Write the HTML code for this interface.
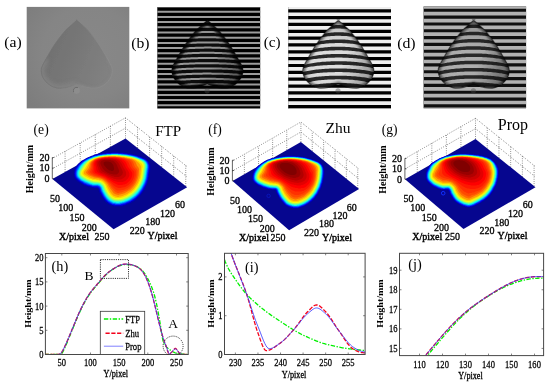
<!DOCTYPE html>
<html><head><meta charset="utf-8"><title>Figure</title>
<style>html,body{margin:0;padding:0;background:#fff;overflow:hidden}svg{display:block}</style></head>
<body>
<svg width="550" height="386" viewBox="0 0 550 386" style="display:block">
<defs>
<path id="heart" d="M50.4 20C48.43 21.73 46.52 23.37 44.5 25.2C42.48 27.03 41 27.87 38.3 31C35.6 34.13 31.47 39.33 28.3 44C25.13 48.67 21.48 55.17 19.3 59C17.12 62.83 15.98 64.83 15.2 67C14.42 69.17 14.38 70.17 14.6 72C14.82 73.83 15.22 75.92 16.5 78C17.78 80.08 20 82.83 22.3 84.5C24.6 86.17 27.3 87.53 30.3 88C33.3 88.47 37.05 87.97 40.3 87.3C43.55 86.63 46.63 85.1 49.8 84C53.57 85.1 56.65 86.63 59.9 87.3C63.15 87.97 66.9 88.47 69.9 88C72.9 87.53 75.6 86.17 77.9 84.5C80.2 82.83 82.42 80.08 83.7 78C84.98 75.92 85.38 73.83 85.6 72C85.82 70.17 85.78 69.17 85 67C84.22 64.83 83.08 62.83 80.9 59C78.72 55.17 75.07 48.67 71.9 44C68.73 39.33 64.6 34.13 61.9 31C59.2 27.87 57.72 27.03 55.7 25.2C53.68 23.37 51.77 21.73 49.8 20Z"/>
<clipPath id="hc"><use href="#heart"/></clipPath>
<filter id="bl" x="-5%" y="-5%" width="110%" height="110%"><feGaussianBlur stdDeviation="0.45"/></filter>
<filter id="bl2" x="-5%" y="-5%" width="110%" height="110%"><feGaussianBlur stdDeviation="1.2"/></filter>
<filter id="bl3" x="-20%" y="-20%" width="140%" height="140%"><feGaussianBlur stdDeviation="2.5"/></filter>
<linearGradient id="ga" x1="0" y1="0.2" x2="1" y2="0.6"><stop offset="0" stop-color="#6e6e6e"/><stop offset="0.5" stop-color="#777777"/><stop offset="1" stop-color="#818181"/></linearGradient>
<linearGradient id="gs" x1="0" y1="0" x2="1" y2="0.3"><stop offset="0" stop-color="#707070"/><stop offset="0.5" stop-color="#747474"/><stop offset="0.8" stop-color="#888888"/><stop offset="1" stop-color="#8c8c8c"/></linearGradient>
<radialGradient id="gbg" cx="0.6" cy="0.45" r="0.75"><stop offset="0" stop-color="#888888"/><stop offset="0.6" stop-color="#858585"/><stop offset="1" stop-color="#7d7d7d"/></radialGradient>
<radialGradient id="shade2" cx="0.46" cy="0.66" r="0.62"><stop offset="0" stop-color="#000" stop-opacity="0"/><stop offset="0.5" stop-color="#000" stop-opacity="0.08"/><stop offset="1" stop-color="#000" stop-opacity="0.45"/></radialGradient>
<linearGradient id="shade" x1="0" y1="0" x2="1" y2="0.35"><stop offset="0" stop-color="#000" stop-opacity="0"/><stop offset="0.7" stop-color="#000" stop-opacity="0.06"/><stop offset="1" stop-color="#000" stop-opacity="0.5"/></linearGradient>
</defs>
<rect width="550" height="386" fill="#fff"/>
<g>
<rect x="26.7" y="6.9" width="102.6" height="101.5" fill="url(#gbg)"/>
<g transform="translate(26.7 0)">
<use href="#heart" fill="url(#ga)" filter="url(#bl)"/>
<g clip-path="url(#hc)">
<path d="M19.3 59C17.12 62.83 15.98 64.83 15.2 67C14.42 69.17 14.38 70.17 14.6 72C14.82 73.83 15.22 75.92 16.5 78C17.78 80.08 20 82.83 22.3 84.5C24.6 86.17 27.3 87.53 30.3 88C33.3 88.47 37.05 87.97 40.3 87.3C43.55 86.63 46.63 85.1 49.8 84" fill="none" stroke="#868686" stroke-width="5.5" filter="url(#bl3)" opacity="0.9"/>
<path d="M50.4 84C53.57 85.1 56.65 86.63 59.9 87.3C63.15 87.97 66.9 88.47 69.9 88C72.9 87.53 75.6 86.17 77.9 84.5C80.2 82.83 82.42 80.08 83.7 78C84.98 75.92 85.38 73.83 85.6 72C85.82 70.17 85.78 69.17 85 67C84.22 64.83 83.08 62.83 80.9 59" fill="none" stroke="#848484" stroke-width="3.5" filter="url(#bl2)" opacity="0.7"/>
</g>
<use href="#heart" fill="none" stroke="url(#gs)" stroke-width="0.8" filter="url(#bl)"/>
<circle cx="49.8" cy="90.6" r="3.3" fill="#8d8d8d" filter="url(#bl)"/>
<path d="M47 92.2A3.3 3.3 0 0 1 51.2 87.6" fill="none" stroke="#6c6c6c" stroke-width="1" filter="url(#bl)"/>
</g></g>
<filter id="fb" x="-5%" y="-5%" width="110%" height="110%"><feGaussianBlur stdDeviation="0.45"/></filter>
<clipPath id="cb"><rect x="157.3" y="6.9" width="102.9" height="101.5"/></clipPath>
<g clip-path="url(#cb)">
<rect x="156.3" y="5.9" width="104.9" height="103.5" fill="#000"/>
<g filter="url(#fb)">
<path d="M155.3 6.5H262.2M155.3 11.7H262.2M155.3 16.9H262.2M155.3 22.1H262.2M155.3 27.3H262.2M155.3 32.5H262.2M155.3 37.7H262.2M155.3 42.9H262.2M155.3 48.1H262.2M155.3 53.3H262.2M155.3 58.5H262.2M155.3 63.7H262.2M155.3 68.9H262.2M155.3 74.1H262.2M155.3 79.3H262.2M155.3 84.5H262.2M155.3 89.7H262.2M155.3 94.9H262.2M155.3 100.1H262.2M155.3 105.3H262.2M155.3 110.5H262.2" stroke="#9c9c9c" stroke-width="2" fill="none"/>
<g transform="translate(157.3 0)" clip-path="url(#hc)">
<use href="#heart" fill="#0c0c0c"/>
<path d="M10 16.4L11.5 16.4L13 16.4L14.5 16.4L16 16.4L17.5 16.4L19 16.4L20.5 16.4L22 16.4L23.5 16.4L25 16.4L26.5 16.4L28 16.4L29.5 16.4L31 16.4L32.5 16.4L34 16.4L35.5 16.4L37 16.4L38.5 16.4L40 16.4L41.5 16.4L43 16.4L44.5 16.4L46 16.4L47.5 16.4L49 16.4L50.5 16.4L52 16.4L53.5 16.4L55 16.4L56.5 16.4L58 16.4L59.5 16.4L61 16.4L62.5 16.4L64 16.4L65.5 16.4L67 16.4L68.5 16.4L70 16.4L71.5 16.4L73 16.4L74.5 16.4L76 16.4L77.5 16.4L79 16.4L80.5 16.4L82 16.4L83.5 16.4L85 16.4L86.5 16.4L88 16.4L89.5 16.4L91 16.4M10 21.69L11.5 21.69L13 21.69L14.5 21.69L16 21.69L17.5 21.69L19 21.69L20.5 21.69L22 21.69L23.5 21.69L25 21.69L26.5 21.69L28 21.69L29.5 21.69L31 21.69L32.5 21.69L34 21.69L35.5 21.69L37 21.69L38.5 21.69L40 21.69L41.5 21.69L43 21.69L44.5 21.69L46 21.69L47.5 21.69L49 21.63L50.5 21.6L52 21.68L53.5 21.69L55 21.69L56.5 21.69L58 21.69L59.5 21.69L61 21.69L62.5 21.69L64 21.69L65.5 21.69L67 21.69L68.5 21.69L70 21.69L71.5 21.69L73 21.69L74.5 21.69L76 21.69L77.5 21.69L79 21.69L80.5 21.69L82 21.69L83.5 21.69L85 21.69L86.5 21.69L88 21.69L89.5 21.69L91 21.69M10 27.2L11.5 27.2L13 27.2L14.5 27.2L16 27.2L17.5 27.2L19 27.2L20.5 27.2L22 27.2L23.5 27.2L25 27.2L26.5 27.2L28 27.2L29.5 27.2L31 27.2L32.5 27.2L34 27.2L35.5 27.2L37 27.2L38.5 27.2L40 27.2L41.5 27.2L43 27.1L44.5 26.97L46 26.89L47.5 26.84L49 26.81L50.5 26.8L52 26.82L53.5 26.86L55 26.92L56.5 27.02L58 27.17L59.5 27.2L61 27.2L62.5 27.2L64 27.2L65.5 27.2L67 27.2L68.5 27.2L70 27.2L71.5 27.2L73 27.2L74.5 27.2L76 27.2L77.5 27.2L79 27.2L80.5 27.2L82 27.2L83.5 27.2L85 27.2L86.5 27.2L88 27.2L89.5 27.2L91 27.2M10 32.66L11.5 32.66L13 32.66L14.5 32.66L16 32.66L17.5 32.66L19 32.66L20.5 32.66L22 32.66L23.5 32.66L25 32.66L26.5 32.66L28 32.66L29.5 32.66L31 32.66L32.5 32.66L34 32.66L35.5 32.66L37 32.63L38.5 32.45L40 32.33L41.5 32.23L43 32.16L44.5 32.1L46 32.05L47.5 32.02L49 32L50.5 32L52 32.01L53.5 32.03L55 32.07L56.5 32.12L58 32.19L59.5 32.28L61 32.39L62.5 32.55L64 32.66L65.5 32.66L67 32.66L68.5 32.66L70 32.66L71.5 32.66L73 32.66L74.5 32.66L76 32.66L77.5 32.66L79 32.66L80.5 32.66L82 32.66L83.5 32.66L85 32.66L86.5 32.66L88 32.66L89.5 32.66L91 32.66M10 38.07L11.5 38.07L13 38.07L14.5 38.07L16 38.07L17.5 38.07L19 38.07L20.5 38.07L22 38.07L23.5 38.07L25 38.07L26.5 38.07L28 38.07L29.5 38.07L31 38.07L32.5 38.07L34 37.88L35.5 37.73L37 37.61L38.5 37.52L40 37.43L41.5 37.37L43 37.32L44.5 37.27L46 37.24L47.5 37.22L49 37.2L50.5 37.2L52 37.21L53.5 37.23L55 37.25L56.5 37.29L58 37.34L59.5 37.4L61 37.48L62.5 37.57L64 37.67L65.5 37.8L67 37.96L68.5 38.07L70 38.07L71.5 38.07L73 38.07L74.5 38.07L76 38.07L77.5 38.07L79 38.07L80.5 38.07L82 38.07L83.5 38.07L85 38.07L86.5 38.07L88 38.07L89.5 38.07L91 38.07M10 43.47L11.5 43.47L13 43.47L14.5 43.47L16 43.47L17.5 43.47L19 43.47L20.5 43.47L22 43.47L23.5 43.47L25 43.47L26.5 43.47L28 43.47L29.5 43.34L31 43.16L32.5 43.03L34 42.91L35.5 42.81L37 42.73L38.5 42.65L40 42.59L41.5 42.54L43 42.49L44.5 42.46L46 42.43L47.5 42.41L49 42.4L50.5 42.4L52 42.41L53.5 42.42L55 42.44L56.5 42.47L58 42.51L59.5 42.56L61 42.62L62.5 42.69L64 42.77L65.5 42.86L67 42.97L68.5 43.09L70 43.24L71.5 43.45L73 43.47L74.5 43.47L76 43.47L77.5 43.47L79 43.47L80.5 43.47L82 43.47L83.5 43.47L85 43.47L86.5 43.47L88 43.47L89.5 43.47L91 43.47M10 48.84L11.5 48.84L13 48.84L14.5 48.84L16 48.84L17.5 48.84L19 48.84L20.5 48.84L22 48.84L23.5 48.84L25 48.84L26.5 48.64L28 48.47L29.5 48.34L31 48.22L32.5 48.12L34 48.03L35.5 47.95L37 47.88L38.5 47.82L40 47.76L41.5 47.72L43 47.68L44.5 47.65L46 47.63L47.5 47.61L49 47.6L50.5 47.6L52 47.61L53.5 47.62L55 47.64L56.5 47.66L58 47.7L59.5 47.74L61 47.79L62.5 47.85L64 47.91L65.5 47.99L67 48.07L68.5 48.17L70 48.28L71.5 48.4L73 48.55L74.5 48.75L76 48.84L77.5 48.84L79 48.84L80.5 48.84L82 48.84L83.5 48.84L85 48.84L86.5 48.84L88 48.84L89.5 48.84L91 48.84M10 54.2L11.5 54.2L13 54.2L14.5 54.2L16 54.2L17.5 54.2L19 54.2L20.5 54.2L22 54.2L23.5 53.96L25 53.8L26.5 53.65L28 53.54L29.5 53.43L31 53.33L32.5 53.25L34 53.17L35.5 53.1L37 53.04L38.5 52.99L40 52.94L41.5 52.9L43 52.87L44.5 52.84L46 52.82L47.5 52.81L49 52.8L50.5 52.8L52 52.81L53.5 52.82L55 52.83L56.5 52.86L58 52.89L59.5 52.92L61 52.97L62.5 53.02L64 53.08L65.5 53.14L67 53.21L68.5 53.3L70 53.39L71.5 53.49L73 53.61L74.5 53.73L76 53.88L77.5 54.08L79 54.2L80.5 54.2L82 54.2L83.5 54.2L85 54.2L86.5 54.2L88 54.2L89.5 54.2L91 54.2M10 59.55L11.5 59.55L13 59.55L14.5 59.55L16 59.55L17.5 59.55L19 59.54L20.5 59.3L22 59.13L23.5 58.99L25 58.86L26.5 58.75L28 58.65L29.5 58.56L31 58.48L32.5 58.4L34 58.33L35.5 58.27L37 58.22L38.5 58.17L40 58.13L41.5 58.09L43 58.06L44.5 58.04L46 58.02L47.5 58.01L49 58L50.5 58L52 58L53.5 58.01L55 58.03L56.5 58.05L58 58.08L59.5 58.11L61 58.15L62.5 58.19L64 58.24L65.5 58.3L67 58.37L68.5 58.44L70 58.52L71.5 58.61L73 58.7L74.5 58.81L76 58.93L77.5 59.07L79 59.22L80.5 59.41L82 59.55L83.5 59.55L85 59.55L86.5 59.55L88 59.55L89.5 59.55L91 59.55M10 64.9L11.5 64.9L13 64.9L14.5 64.9L16 64.9L17.5 64.65L19 64.47L20.5 64.33L22 64.19L23.5 64.08L25 63.97L26.5 63.87L28 63.78L29.5 63.7L31 63.63L32.5 63.56L34 63.5L35.5 63.45L37 63.4L38.5 63.35L40 63.32L41.5 63.28L43 63.26L44.5 63.24L46 63.22L47.5 63.21L49 63.2L50.5 63.2L52 63.2L53.5 63.21L55 63.23L56.5 63.25L58 63.27L59.5 63.3L61 63.34L62.5 63.38L64 63.42L65.5 63.48L67 63.54L68.5 63.6L70 63.67L71.5 63.75L73 63.83L74.5 63.93L76 64.03L77.5 64.14L79 64.27L80.5 64.41L82 64.58L83.5 64.78L85 64.9L86.5 64.9L88 64.9L89.5 64.9L91 64.9M10 70.17L11.5 70.17L13 70.17L14.5 70.17L16 69.92L17.5 69.74L19 69.58L20.5 69.45L22 69.33L23.5 69.22L25 69.12L26.5 69.03L28 68.95L29.5 68.87L31 68.8L32.5 68.74L34 68.68L35.5 68.63L37 68.59L38.5 68.55L40 68.51L41.5 68.48L43 68.45L44.5 68.43L46 68.42L47.5 68.41L49 68.4L50.5 68.4L52 68.4L53.5 68.41L55 68.43L56.5 68.44L58 68.47L59.5 68.49L61 68.53L62.5 68.57L64 68.61L65.5 68.66L67 68.71L68.5 68.77L70 68.84L71.5 68.91L73 68.99L74.5 69.08L76 69.17L77.5 69.28L79 69.39L80.5 69.52L82 69.66L83.5 69.82L85 70.03L86.5 70.17L88 70.17L89.5 70.17L91 70.17M10 75.34L11.5 75.34L13 75.34L14.5 75.34L16 75.19L17.5 74.97L19 74.81L20.5 74.67L22 74.54L23.5 74.43L25 74.33L26.5 74.24L28 74.15L29.5 74.07L31 74L32.5 73.94L34 73.88L35.5 73.83L37 73.79L38.5 73.74L40 73.71L41.5 73.68L43 73.65L44.5 73.63L46 73.62L47.5 73.61L49 73.6L50.5 73.6L52 73.6L53.5 73.61L55 73.63L56.5 73.64L58 73.67L59.5 73.7L61 73.73L62.5 73.77L64 73.81L65.5 73.86L67 73.92L68.5 73.98L70 74.04L71.5 74.12L73 74.2L74.5 74.29L76 74.39L77.5 74.5L79 74.61L80.5 74.75L82 74.9L83.5 75.08L85 75.34L86.5 75.34L88 75.34L89.5 75.34L91 75.34M10 80.39L11.5 80.39L13 80.39L14.5 80.39L16 80.39L17.5 80.39L19 80.23L20.5 80.02L22 79.86L23.5 79.73L25 79.6L26.5 79.5L28 79.4L29.5 79.31L31 79.24L32.5 79.17L34 79.1L35.5 79.05L37 79L38.5 78.96L40 78.92L41.5 78.88L43 78.86L44.5 78.84L46 78.82L47.5 78.81L49 78.8L50.5 78.8L52 78.8L53.5 78.81L55 78.83L56.5 78.85L58 78.87L59.5 78.9L61 78.94L62.5 78.98L64 79.03L65.5 79.08L67 79.14L68.5 79.21L70 79.28L71.5 79.36L73 79.46L74.5 79.56L76 79.67L77.5 79.79L79 79.94L80.5 80.11L82 80.37L83.5 80.39L85 80.39L86.5 80.39L88 80.39L89.5 80.39L91 80.39M10 85.29L11.5 85.29L13 85.29L14.5 85.29L16 85.29L17.5 85.29L19 85.29L20.5 85.29L22 85.29L23.5 85.29L25 85.09L26.5 84.93L28 84.77L29.5 84.65L31 84.54L32.5 84.45L34 84.37L35.5 84.3L37 84.24L38.5 84.18L40 84.14L41.5 84.1L43 84.07L44.5 84.04L46 84.02L47.5 84.01L49 84L50.5 84L52 84L53.5 84.01L55 84.03L56.5 84.05L58 84.08L59.5 84.12L61 84.16L62.5 84.21L64 84.27L65.5 84.34L67 84.42L68.5 84.5L70 84.59L71.5 84.71L73 84.83L74.5 85L76 85.29L77.5 85.29L79 85.29L80.5 85.29L82 85.29L83.5 85.29L85 85.29L86.5 85.29L88 85.29L89.5 85.29L91 85.29M10 89.4L11.5 89.4L13 89.4L14.5 89.4L16 89.4L17.5 89.4L19 89.4L20.5 89.4L22 89.4L23.5 89.4L25 89.4L26.5 89.4L28 89.4L29.5 89.4L31 89.4L32.5 89.4L34 89.4L35.5 89.4L37 89.4L38.5 89.4L40 89.4L41.5 89.4L43 89.4L44.5 89.4L46 89.34L47.5 89.25L49 89.21L50.5 89.2L52 89.23L53.5 89.29L55 89.4L56.5 89.4L58 89.4L59.5 89.4L61 89.4L62.5 89.4L64 89.4L65.5 89.4L67 89.4L68.5 89.4L70 89.4L71.5 89.4L73 89.4L74.5 89.4L76 89.4L77.5 89.4L79 89.4L80.5 89.4L82 89.4L83.5 89.4L85 89.4L86.5 89.4L88 89.4L89.5 89.4L91 89.4M10 94.4L11.5 94.4L13 94.4L14.5 94.4L16 94.4L17.5 94.4L19 94.4L20.5 94.4L22 94.4L23.5 94.4L25 94.4L26.5 94.4L28 94.4L29.5 94.4L31 94.4L32.5 94.4L34 94.4L35.5 94.4L37 94.4L38.5 94.4L40 94.4L41.5 94.4L43 94.4L44.5 94.4L46 94.4L47.5 94.4L49 94.4L50.5 94.4L52 94.4L53.5 94.4L55 94.4L56.5 94.4L58 94.4L59.5 94.4L61 94.4L62.5 94.4L64 94.4L65.5 94.4L67 94.4L68.5 94.4L70 94.4L71.5 94.4L73 94.4L74.5 94.4L76 94.4L77.5 94.4L79 94.4L80.5 94.4L82 94.4L83.5 94.4L85 94.4L86.5 94.4L88 94.4L89.5 94.4L91 94.4" stroke="#9c9c9c" stroke-width="2" fill="none" stroke-linejoin="round"/>
</g>
</g>
<g transform="translate(157.3 0)">
<use href="#heart" fill="url(#shade)" opacity="0.7"/>
<use href="#heart" fill="url(#shade2)" opacity="0.15"/>
<g clip-path="url(#hc)"><use href="#heart" fill="none" stroke="#000" stroke-width="6.5" opacity="0.8" filter="url(#bl2)"/></g>
<use href="#heart" fill="none" stroke="#000" stroke-width="1.3" opacity="0.45" filter="url(#bl)"/>
<circle cx="49.8" cy="90.8" r="2.6" fill="#444" opacity="0.4" filter="url(#bl)"/>
</g>
</g>
<filter id="fc" x="-5%" y="-5%" width="110%" height="110%"><feGaussianBlur stdDeviation="0.55"/></filter>
<clipPath id="cc"><rect x="288.2" y="7.1" width="102.8" height="101.6"/></clipPath>
<g clip-path="url(#cc)">
<rect x="287.2" y="6.1" width="104.8" height="103.6" fill="#000"/>
<g filter="url(#fc)">
<path d="M286.2 0.52H393M286.2 7.36H393M286.2 14.2H393M286.2 21.04H393M286.2 27.88H393M286.2 34.72H393M286.2 41.56H393M286.2 48.4H393M286.2 55.24H393M286.2 62.08H393M286.2 68.92H393M286.2 75.76H393M286.2 82.6H393M286.2 89.44H393M286.2 96.28H393M286.2 103.12H393M286.2 109.96H393" stroke="#efefef" stroke-width="3.6" fill="none"/>
<g transform="translate(288.2 0)" clip-path="url(#hc)">
<use href="#heart" fill="#2c2c2c"/>
<path d="M10 15.87L11.5 15.87L13 15.87L14.5 15.87L16 15.87L17.5 15.87L19 15.87L20.5 15.87L22 15.87L23.5 15.87L25 15.87L26.5 15.87L28 15.87L29.5 15.87L31 15.87L32.5 15.87L34 15.87L35.5 15.87L37 15.87L38.5 15.87L40 15.87L41.5 15.87L43 15.87L44.5 15.87L46 15.87L47.5 15.87L49 15.87L50.5 15.87L52 15.87L53.5 15.87L55 15.87L56.5 15.87L58 15.87L59.5 15.87L61 15.87L62.5 15.87L64 15.87L65.5 15.87L67 15.87L68.5 15.87L70 15.87L71.5 15.87L73 15.87L74.5 15.87L76 15.87L77.5 15.87L79 15.87L80.5 15.87L82 15.87L83.5 15.87L85 15.87L86.5 15.87L88 15.87L89.5 15.87L91 15.87M10 23.51L11.5 23.51L13 23.51L14.5 23.51L16 23.51L17.5 23.51L19 23.51L20.5 23.51L22 23.51L23.5 23.51L25 23.51L26.5 23.51L28 23.51L29.5 23.51L31 23.51L32.5 23.51L34 23.51L35.5 23.51L37 23.51L38.5 23.51L40 23.51L41.5 23.51L43 23.51L44.5 23.51L46 23.51L47.5 23.3L49 23.15L50.5 23.12L52 23.2L53.5 23.41L55 23.51L56.5 23.51L58 23.51L59.5 23.51L61 23.51L62.5 23.51L64 23.51L65.5 23.51L67 23.51L68.5 23.51L70 23.51L71.5 23.51L73 23.51L74.5 23.51L76 23.51L77.5 23.51L79 23.51L80.5 23.51L82 23.51L83.5 23.51L85 23.51L86.5 23.51L88 23.51L89.5 23.51L91 23.51M10 31.69L11.5 31.69L13 31.69L14.5 31.69L16 31.69L17.5 31.69L19 31.69L20.5 31.69L22 31.69L23.5 31.69L25 31.69L26.5 31.69L28 31.69L29.5 31.69L31 31.69L32.5 31.69L34 31.69L35.5 31.69L37 31.69L38.5 31.45L40 31.15L41.5 30.91L43 30.74L44.5 30.6L46 30.49L47.5 30.42L49 30.38L50.5 30.37L52 30.4L53.5 30.45L55 30.54L56.5 30.66L58 30.83L59.5 31.04L61 31.3L62.5 31.66L64 31.69L65.5 31.69L67 31.69L68.5 31.69L70 31.69L71.5 31.69L73 31.69L74.5 31.69L76 31.69L77.5 31.69L79 31.69L80.5 31.69L82 31.69L83.5 31.69L85 31.69L86.5 31.69L88 31.69L89.5 31.69L91 31.69M10 39.59L11.5 39.59L13 39.59L14.5 39.59L16 39.59L17.5 39.59L19 39.59L20.5 39.59L22 39.59L23.5 39.59L25 39.59L26.5 39.59L28 39.59L29.5 39.59L31 39.59L32.5 39.28L34 38.93L35.5 38.67L37 38.46L38.5 38.28L40 38.12L41.5 37.98L43 37.87L44.5 37.77L46 37.7L47.5 37.66L49 37.63L50.5 37.63L52 37.64L53.5 37.68L55 37.74L56.5 37.82L58 37.92L59.5 38.04L61 38.19L62.5 38.37L64 38.59L65.5 38.83L67 39.13L68.5 39.49L70 39.59L71.5 39.59L73 39.59L74.5 39.59L76 39.59L77.5 39.59L79 39.59L80.5 39.59L82 39.59L83.5 39.59L85 39.59L86.5 39.59L88 39.59L89.5 39.59L91 39.59M10 47.43L11.5 47.43L13 47.43L14.5 47.43L16 47.43L17.5 47.43L19 47.43L20.5 47.43L22 47.43L23.5 47.43L25 47.43L26.5 47.25L28 46.86L29.5 46.54L31 46.29L32.5 46.06L34 45.85L35.5 45.67L37 45.51L38.5 45.37L40 45.25L41.5 45.15L43 45.06L44.5 44.99L46 44.94L47.5 44.9L49 44.88L50.5 44.88L52 44.89L53.5 44.92L55 44.97L56.5 45.03L58 45.11L59.5 45.2L61 45.31L62.5 45.44L64 45.59L65.5 45.76L67 45.95L68.5 46.16L70 46.42L71.5 46.71L73 47.07L74.5 47.43L76 47.43L77.5 47.43L79 47.43L80.5 47.43L82 47.43L83.5 47.43L85 47.43L86.5 47.43L88 47.43L89.5 47.43L91 47.43M10 55.17L11.5 55.17L13 55.17L14.5 55.17L16 55.17L17.5 55.17L19 55.17L20.5 55.17L22 54.93L23.5 54.54L25 54.21L26.5 53.93L28 53.68L29.5 53.46L31 53.26L32.5 53.09L34 52.92L35.5 52.78L37 52.65L38.5 52.54L40 52.44L41.5 52.35L43 52.28L44.5 52.22L46 52.18L47.5 52.15L49 52.14L50.5 52.13L52 52.14L53.5 52.17L55 52.2L56.5 52.26L58 52.32L59.5 52.4L61 52.49L62.5 52.6L64 52.72L65.5 52.86L67 53.01L68.5 53.19L70 53.37L71.5 53.59L73 53.83L74.5 54.1L76 54.39L77.5 54.76L79 55.17L80.5 55.17L82 55.17L83.5 55.17L85 55.17L86.5 55.17L88 55.17L89.5 55.17L91 55.17M10 62.87L11.5 62.87L13 62.87L14.5 62.87L16 62.87L17.5 62.72L19 62.28L20.5 61.93L22 61.63L23.5 61.37L25 61.12L26.5 60.89L28 60.7L29.5 60.52L31 60.35L32.5 60.19L34 60.06L35.5 59.93L37 59.83L38.5 59.73L40 59.65L41.5 59.58L43 59.51L44.5 59.47L46 59.43L47.5 59.4L49 59.39L50.5 59.39L52 59.4L53.5 59.42L55 59.45L56.5 59.49L58 59.55L59.5 59.62L61 59.7L62.5 59.79L64 59.9L65.5 60.02L67 60.15L68.5 60.29L70 60.45L71.5 60.62L73 60.81L74.5 61.02L76 61.24L77.5 61.5L79 61.78L80.5 62.1L82 62.48L83.5 62.87L85 62.87L86.5 62.87L88 62.87L89.5 62.87L91 62.87M10 70.4L11.5 70.4L13 70.4L14.5 70.4L16 69.87L17.5 69.47L19 69.16L20.5 68.87L22 68.63L23.5 68.39L25 68.18L26.5 67.99L28 67.82L29.5 67.65L31 67.5L32.5 67.37L34 67.25L35.5 67.14L37 67.04L38.5 66.95L40 66.87L41.5 66.81L43 66.75L44.5 66.71L46 66.68L47.5 66.65L49 66.64L50.5 66.64L52 66.65L53.5 66.67L55 66.7L56.5 66.73L58 66.78L59.5 66.85L61 66.91L62.5 67L64 67.09L65.5 67.19L67 67.31L68.5 67.44L70 67.59L71.5 67.73L73 67.9L74.5 68.09L76 68.3L77.5 68.51L79 68.76L80.5 69.02L82 69.32L83.5 69.66L85 70.1L86.5 70.4L88 70.4L89.5 70.4L91 70.4M10 77.47L11.5 77.47L13 77.47L14.5 77.47L16 77.47L17.5 76.94L19 76.54L20.5 76.22L22 75.93L23.5 75.68L25 75.45L26.5 75.26L28 75.07L29.5 74.91L31 74.76L32.5 74.62L34 74.5L35.5 74.39L37 74.29L38.5 74.2L40 74.12L41.5 74.06L43 74.01L44.5 73.96L46 73.93L47.5 73.91L49 73.9L50.5 73.89L52 73.9L53.5 73.92L55 73.95L56.5 73.99L58 74.04L59.5 74.1L61 74.17L62.5 74.25L64 74.34L65.5 74.45L67 74.57L68.5 74.7L70 74.84L71.5 75L73 75.18L74.5 75.37L76 75.59L77.5 75.82L79 76.08L80.5 76.37L82 76.75L83.5 77.25L85 77.47L86.5 77.47L88 77.47L89.5 77.47L91 77.47M10 84.13L11.5 84.13L13 84.13L14.5 84.13L16 84.09L17.5 84.09L19 84.09L20.5 84.09L22 84.13L23.5 83.48L25 83.1L26.5 82.81L28 82.56L29.5 82.34L31 82.16L32.5 81.99L34 81.84L35.5 81.71L37 81.6L38.5 81.5L40 81.41L41.5 81.34L43 81.27L44.5 81.23L46 81.19L47.5 81.16L49 81.15L50.5 81.15L52 81.16L53.5 81.18L55 81.21L56.5 81.25L58 81.31L59.5 81.38L61 81.46L62.5 81.55L64 81.66L65.5 81.79L67 81.93L68.5 82.08L70 82.26L71.5 82.47L73 82.69L74.5 82.96L76 83.28L77.5 83.74L79 84.09L80.5 84.09L82 84.09L83.5 84.09L85 84.13L86.5 84.13L88 84.13L89.5 84.13L91 84.13M10 89.06L11.5 89.06L13 89.06L14.5 89.06L16 89.06L17.5 89.06L19 89.06L20.5 89.06L22 89.06L23.5 89.06L25 89.06L26.5 89.06L28 89.06L29.5 89.07L31 89.07L32.5 89.07L34 89.07L35.5 89.07L37 89.07L38.5 89.07L40 89.07L41.5 89.07L43 89.07L44.5 88.75L46 88.55L47.5 88.46L49 88.41L50.5 88.4L52 88.43L53.5 88.5L55 88.62L56.5 89.06L58 89.06L59.5 89.07L61 88.95L62.5 89.07L64 89.07L65.5 89.07L67 89.07L68.5 89.07L70 89.07L71.5 89.07L73 89.06L74.5 89.06L76 89.06L77.5 89.06L79 89.06L80.5 89.06L82 89.06L83.5 89.06L85 89.06L86.5 89.06L88 89.06L89.5 89.06L91 89.06" stroke="#e4e4e4" stroke-width="3.6" fill="none" stroke-linejoin="round"/>
</g>
</g>
<g transform="translate(288.2 0)">
<use href="#heart" fill="url(#shade)" opacity="0.4"/>
<use href="#heart" fill="url(#shade2)" opacity="0.35"/>
<g clip-path="url(#hc)"><use href="#heart" fill="none" stroke="#000" stroke-width="5" opacity="0.5" filter="url(#bl2)"/></g>
<use href="#heart" fill="none" stroke="#000" stroke-width="1.3" opacity="0.45" filter="url(#bl)"/>
<circle cx="49.8" cy="90.8" r="2.6" fill="#444" opacity="0.4" filter="url(#bl)"/>
</g>
</g>
<filter id="fd" x="-5%" y="-5%" width="110%" height="110%"><feGaussianBlur stdDeviation="0.55"/></filter>
<clipPath id="cd"><rect x="423.6" y="6.4" width="102.5" height="101.8"/></clipPath>
<g clip-path="url(#cd)">
<rect x="422.6" y="5.4" width="104.5" height="103.8" fill="#101010"/>
<g filter="url(#fd)">
<path d="M421.6 0.04H528.1M421.6 6.87H528.1M421.6 13.7H528.1M421.6 20.53H528.1M421.6 27.36H528.1M421.6 34.19H528.1M421.6 41.02H528.1M421.6 47.85H528.1M421.6 54.68H528.1M421.6 61.51H528.1M421.6 68.34H528.1M421.6 75.17H528.1M421.6 82H528.1M421.6 88.83H528.1M421.6 95.66H528.1M421.6 102.49H528.1M421.6 109.32H528.1" stroke="#b2b2b2" stroke-width="3.7" fill="none"/>
<g transform="translate(423.6 0)" clip-path="url(#hc)">
<use href="#heart" fill="#2a2a2a"/>
<path d="M10 15.34L11.5 15.34L13 15.34L14.5 15.34L16 15.34L17.5 15.34L19 15.34L20.5 15.34L22 15.34L23.5 15.34L25 15.34L26.5 15.34L28 15.34L29.5 15.34L31 15.34L32.5 15.34L34 15.34L35.5 15.34L37 15.34L38.5 15.34L40 15.34L41.5 15.34L43 15.34L44.5 15.34L46 15.34L47.5 15.34L49 15.34L50.5 15.34L52 15.34L53.5 15.34L55 15.34L56.5 15.34L58 15.34L59.5 15.34L61 15.34L62.5 15.34L64 15.34L65.5 15.34L67 15.34L68.5 15.34L70 15.34L71.5 15.34L73 15.34L74.5 15.34L76 15.34L77.5 15.34L79 15.34L80.5 15.34L82 15.34L83.5 15.34L85 15.34L86.5 15.34L88 15.34L89.5 15.34L91 15.34M10 22.91L11.5 22.91L13 22.91L14.5 22.91L16 22.91L17.5 22.91L19 22.91L20.5 22.91L22 22.91L23.5 22.91L25 22.91L26.5 22.91L28 22.91L29.5 22.91L31 22.91L32.5 22.91L34 22.91L35.5 22.91L37 22.91L38.5 22.91L40 22.91L41.5 22.91L43 22.91L44.5 22.91L46 22.91L47.5 22.8L49 22.62L50.5 22.58L52 22.68L53.5 22.91L55 22.91L56.5 22.91L58 22.91L59.5 22.91L61 22.91L62.5 22.91L64 22.91L65.5 22.91L67 22.91L68.5 22.91L70 22.91L71.5 22.91L73 22.91L74.5 22.91L76 22.91L77.5 22.91L79 22.91L80.5 22.91L82 22.91L83.5 22.91L85 22.91L86.5 22.91L88 22.91L89.5 22.91L91 22.91M10 31.07L11.5 31.07L13 31.07L14.5 31.07L16 31.07L17.5 31.07L19 31.07L20.5 31.07L22 31.07L23.5 31.07L25 31.07L26.5 31.07L28 31.07L29.5 31.07L31 31.07L32.5 31.07L34 31.07L35.5 31.07L37 31.07L38.5 30.97L40 30.64L41.5 30.4L43 30.21L44.5 30.06L46 29.95L47.5 29.87L49 29.83L50.5 29.82L52 29.85L53.5 29.91L55 30L56.5 30.13L58 30.3L59.5 30.52L61 30.81L62.5 31.07L64 31.07L65.5 31.07L67 31.07L68.5 31.07L70 31.07L71.5 31.07L73 31.07L74.5 31.07L76 31.07L77.5 31.07L79 31.07L80.5 31.07L82 31.07L83.5 31.07L85 31.07L86.5 31.07L88 31.07L89.5 31.07L91 31.07M10 38.99L11.5 38.99L13 38.99L14.5 38.99L16 38.99L17.5 38.99L19 38.99L20.5 38.99L22 38.99L23.5 38.99L25 38.99L26.5 38.99L28 38.99L29.5 38.99L31 38.99L32.5 38.78L34 38.42L35.5 38.15L37 37.92L38.5 37.73L40 37.56L41.5 37.42L43 37.31L44.5 37.22L46 37.14L47.5 37.1L49 37.07L50.5 37.06L52 37.08L53.5 37.12L55 37.18L56.5 37.26L58 37.36L59.5 37.5L61 37.64L62.5 37.83L64 38.04L65.5 38.29L67 38.6L68.5 38.99L70 38.99L71.5 38.99L73 38.99L74.5 38.99L76 38.99L77.5 38.99L79 38.99L80.5 38.99L82 38.99L83.5 38.99L85 38.99L86.5 38.99L88 38.99L89.5 38.99L91 38.99M10 46.81L11.5 46.81L13 46.81L14.5 46.81L16 46.81L17.5 46.81L19 46.81L20.5 46.81L22 46.81L23.5 46.81L25 46.81L26.5 46.8L28 46.35L29.5 46.02L31 45.74L32.5 45.51L34 45.3L35.5 45.11L37 44.94L38.5 44.8L40 44.68L41.5 44.58L43 44.49L44.5 44.42L46 44.37L47.5 44.33L49 44.31L50.5 44.31L52 44.32L53.5 44.35L55 44.39L56.5 44.46L58 44.54L59.5 44.63L61 44.75L62.5 44.88L64 45.04L65.5 45.2L67 45.39L68.5 45.63L70 45.87L71.5 46.16L73 46.57L74.5 46.81L76 46.81L77.5 46.81L79 46.81L80.5 46.81L82 46.81L83.5 46.81L85 46.81L86.5 46.81L88 46.81L89.5 46.81L91 46.81M10 54.54L11.5 54.54L13 54.54L14.5 54.54L16 54.54L17.5 54.54L19 54.54L20.5 54.54L22 54.44L23.5 54L25 53.66L26.5 53.37L28 53.13L29.5 52.9L31 52.7L32.5 52.51L34 52.35L35.5 52.2L37 52.07L38.5 51.96L40 51.86L41.5 51.77L43 51.7L44.5 51.64L46 51.6L47.5 51.57L49 51.55L50.5 51.55L52 51.56L53.5 51.58L55 51.62L56.5 51.67L58 51.74L59.5 51.82L61 51.91L62.5 52.02L64 52.14L65.5 52.29L67 52.44L68.5 52.62L70 52.81L71.5 53.03L73 53.27L74.5 53.54L76 53.86L77.5 54.24L79 54.54L80.5 54.54L82 54.54L83.5 54.54L85 54.54L86.5 54.54L88 54.54L89.5 54.54L91 54.54M10 62.25L11.5 62.25L13 62.25L14.5 62.25L16 62.25L17.5 62.25L19 61.74L20.5 61.39L22 61.06L23.5 60.79L25 60.55L26.5 60.32L28 60.12L29.5 59.93L31 59.77L32.5 59.62L34 59.48L35.5 59.35L37 59.24L38.5 59.14L40 59.06L41.5 58.98L43 58.92L44.5 58.87L46 58.84L47.5 58.81L49 58.8L50.5 58.79L52 58.8L53.5 58.82L55 58.86L56.5 58.9L58 58.96L59.5 59.02L61 59.11L62.5 59.2L64 59.31L65.5 59.42L67 59.56L68.5 59.7L70 59.87L71.5 60.05L73 60.25L74.5 60.45L76 60.68L77.5 60.94L79 61.22L80.5 61.55L82 61.95L83.5 62.25L85 62.25L86.5 62.25L88 62.25L89.5 62.25L91 62.25M10 69.8L11.5 69.8L13 69.8L14.5 69.8L16 69.27L17.5 68.89L19 68.57L20.5 68.27L22 68.03L23.5 67.8L25 67.58L26.5 67.39L28 67.22L29.5 67.06L31 66.91L32.5 66.77L34 66.64L35.5 66.53L37 66.43L38.5 66.35L40 66.27L41.5 66.21L43 66.15L44.5 66.11L46 66.07L47.5 66.05L49 66.04L50.5 66.04L52 66.04L53.5 66.06L55 66.09L56.5 66.13L58 66.18L59.5 66.24L61 66.31L62.5 66.4L64 66.49L65.5 66.6L67 66.71L68.5 66.84L70 66.98L71.5 67.13L73 67.31L74.5 67.5L76 67.69L77.5 67.91L79 68.16L80.5 68.42L82 68.74L83.5 69.07L85 69.54L86.5 69.8L88 69.8L89.5 69.8L91 69.8M10 76.89L11.5 76.89L13 76.89L14.5 76.89L16 76.83L17.5 76.28L19 75.89L20.5 75.56L22 75.29L23.5 75.05L25 74.83L26.5 74.63L28 74.45L29.5 74.29L31 74.14L32.5 74L34 73.88L35.5 73.77L37 73.67L38.5 73.58L40 73.51L41.5 73.44L43 73.39L44.5 73.35L46 73.32L47.5 73.29L49 73.28L50.5 73.28L52 73.29L53.5 73.3L55 73.33L56.5 73.37L58 73.42L59.5 73.48L61 73.55L62.5 73.63L64 73.73L65.5 73.83L67 73.95L68.5 74.08L70 74.22L71.5 74.38L73 74.55L74.5 74.75L76 74.96L77.5 75.19L79 75.46L80.5 75.75L82 76.09L83.5 76.52L85 76.89L86.5 76.89L88 76.89L89.5 76.89L91 76.89M10 83.58L11.5 83.58L13 83.58L14.5 83.58L16 83.58L17.5 83.58L19 83.58L20.5 83.58L22 83.2L23.5 82.74L25 82.41L26.5 82.12L28 81.9L29.5 81.69L31 81.51L32.5 81.35L34 81.21L35.5 81.08L37 80.96L38.5 80.86L40 80.78L41.5 80.71L43 80.65L44.5 80.6L46 80.56L47.5 80.54L49 80.52L50.5 80.52L52 80.53L53.5 80.55L55 80.58L56.5 80.63L58 80.68L59.5 80.75L61 80.83L62.5 80.92L64 81.03L65.5 81.15L67 81.29L68.5 81.44L70 81.61L71.5 81.81L73 82.03L74.5 82.28L76 82.58L77.5 82.95L79 83.58L80.5 83.58L82 83.58L83.5 83.58L85 83.58L86.5 83.58L88 83.58L89.5 83.58L91 83.58M10 88.72L11.5 88.72L13 88.72L14.5 88.72L16 88.72L17.5 88.72L19 88.72L20.5 88.72L22 88.73L23.5 88.73L25 88.72L26.5 88.73L28 88.73L29.5 88.59L31 88.59L32.5 88.59L34 88.59L35.5 88.59L37 88.59L38.5 88.73L40 88.73L41.5 88.37L43 88.1L44.5 87.97L46 87.86L47.5 87.8L49 87.77L50.5 87.76L52 87.78L53.5 87.83L55 87.92L56.5 88.04L58 88.26L59.5 88.59L61 88.73L62.5 88.59L64 88.59L65.5 88.59L67 88.59L68.5 88.59L70 88.59L71.5 88.73L73 88.73L74.5 88.73L76 88.72L77.5 88.73L79 88.72L80.5 88.72L82 88.72L83.5 88.72L85 88.72L86.5 88.72L88 88.72L89.5 88.72L91 88.72" stroke="#b4b4b4" stroke-width="3.7" fill="none" stroke-linejoin="round"/>
</g>
</g>
<g transform="translate(423.6 0)">
<use href="#heart" fill="url(#shade)" opacity="0.55"/>
<use href="#heart" fill="url(#shade2)" opacity="0.35"/>
<g clip-path="url(#hc)"><use href="#heart" fill="none" stroke="#000" stroke-width="5" opacity="0.5" filter="url(#bl2)"/></g>
<use href="#heart" fill="none" stroke="#000" stroke-width="1.3" opacity="0.45" filter="url(#bl)"/>
<circle cx="49.8" cy="90.8" r="2.6" fill="#444" opacity="0.4" filter="url(#bl)"/>
</g>
</g>
<text transform="translate(13 47.3) scale(1.09 1)" font-size="14.4" font-family="Liberation Serif, serif" text-anchor="middle">(a)</text>
<text transform="translate(140.3 47.6) scale(1.09 1)" font-size="14.4" font-family="Liberation Serif, serif" text-anchor="middle">(b)</text>
<text transform="translate(272.1 47.2) scale(1.06 1)" font-size="14.4" font-family="Liberation Serif, serif" text-anchor="middle">(c)</text>
<text transform="translate(406.4 48.3) scale(1.1 1)" font-size="14.4" font-family="Liberation Serif, serif" text-anchor="middle">(d)</text>
<path d="M52.4 168.7L125.5 128.1L187.2 177M52.4 158.4L125.5 117.8L187.2 166.7M110.39 146.79L110.39 126.19M95.29 155.18L95.29 134.58M80.21 163.56L80.21 142.96M65.1 171.95L65.1 151.35M137.55 147.95L137.55 127.35M149.6 157.5L149.6 136.9M161.65 167.05L161.65 146.45M173.7 176.6L173.7 156M185.75 186.15L185.75 165.55M125.5 138.4L125.5 117.8" stroke="#2a2a2a" stroke-width="0.7" stroke-dasharray="0.7 1.5" fill="none"/>
<path d="M52.4 179L125.5 138.4L187.2 187.3L113.6 229.2Z" fill="#06068f"/>
<path d="M120.25 206.62L115.25 206.62L115 206.38L113.75 206.38L113.5 206.12L111 205.62L109 204.62L106 202.38L102.88 198.75L101.38 196L100.88 195.5L99.38 192.5L98.62 190L97.75 188.62L97.25 188.38L92.25 188.12L92 187.88L89.5 187.38L87.75 186.62L86.5 186.38L85.75 185.88L85.25 185.88L80 183.12L77.5 181.38L75.62 179.5L74.88 178.5L73.88 176L73.88 171L74.12 170.75L74.12 170L74.62 169.25L74.62 168.75L75.12 168.25L75.62 167L77.62 164.25L79.5 162.38L79.75 162.38L81.75 160.62L83.25 159.88L83.75 159.38L85 158.88L85.5 158.38L88.5 156.88L89 156.88L89.75 156.38L91 156.12L92.25 155.38L92.75 155.38L94.5 154.62L97.25 154.12L98.5 153.62L99.5 153.62L99.75 153.38L102.5 153.12L102.75 152.88L107.25 152.62L107.5 152.38L111.75 152.38L112 152.12L118 152.12L118.25 152.38L124.75 152.62L125 152.88L126.75 152.88L127 153.12L128.25 153.12L128.5 153.38L129.5 153.38L129.75 153.62L131 153.62L131.25 153.88L132.25 153.88L133.5 154.38L134.5 154.38L135.5 154.88L136.25 154.88L136.5 155.12L138.5 155.62L139.25 156.12L142 156.88L144 157.88L144.5 157.88L146.25 158.88L148.62 161.25L149.88 163.5L150.12 165L150.38 165.25L150.38 169.75L150.12 170L150.12 171.75L149.88 172L149.62 175.25L149.38 175.5L149.38 176.75L149.12 177L148.88 179.5L148.12 181.25L148.12 182L147.62 182.75L146.88 185.25L144.38 190L141.12 194.75L135.75 199.88L132 202.38L129.25 203.88L128.75 203.88L127.5 204.62L127 204.62L125 205.62L123.25 205.88L122 206.38L120.5 206.38Z" fill="#0000b1" fill-rule="evenodd"/>
<path d="M120.5 205.62L115.25 205.62L115 205.38L113.75 205.38L113.5 205.12L112.75 205.12L112.5 204.88L111.25 204.62L109.25 203.62L107.5 202.12L107.25 202.12L105.12 200L105.12 199.75L103.38 197.75L100.12 191.75L99.62 189.75L98.5 187.88L97.5 187.38L93.75 187.38L93.5 187.12L92.25 187.12L89.5 186.12L88 185.88L87.25 185.38L86.75 185.38L86 184.88L84.25 184.38L79.5 181.62L76.12 178.5L75.12 176.75L75.12 176L74.88 175.75L74.88 174.25L74.62 174L74.62 173.25L74.88 173L74.88 171L75.12 170.75L75.38 169.5L76.88 166.75L78.62 164.75L78.62 164.5L80.25 162.88L80.5 162.88L81.75 161.62L84 160.12L84.75 159.88L85.25 159.38L89.75 157.12L91 156.88L92.25 156.12L92.75 156.12L94.5 155.38L95.25 155.38L95.5 155.12L98.25 154.62L98.5 154.38L100.75 154.12L101 153.88L102.25 153.88L102.5 153.62L106.75 153.38L107 153.12L111.25 153.12L111.5 152.88L118.25 152.88L118.5 153.12L125 153.38L125.25 153.62L126.75 153.62L127 153.88L129.75 154.12L130 154.38L131 154.38L131.25 154.62L133.25 154.88L133.5 155.12L134.5 155.12L137 156.12L140.5 157.12L143.25 158.38L143.75 158.38L145.25 159.12L147.62 161.25L148.62 162.75L148.62 163.25L149.38 164.75L149.38 166L149.62 166.25L149.38 170L149.12 170.25L149.12 171.75L148.88 172L148.88 173.5L148.62 173.75L148.38 177L148.12 177.25L147.88 179.5L147.38 180.5L146.62 183.25L143.38 189.75L140.88 193.5L139.38 195L139.38 195.25L137.5 197.12L137.25 197.12L134.75 199.38L132.5 200.88L131.75 201.12L130.5 202.12L128.5 203.12L128 203.12L127.25 203.62L126.75 203.62L125.5 204.38L125 204.38L124 204.88L123.25 204.88L122 205.38L120.75 205.38Z" fill="#0000e5" fill-rule="evenodd"/>
<path d="M119 205.12L116.5 205.12L116.25 204.88L114.75 204.88L114.5 204.62L112.5 204.38L109.75 203.12L108 201.88L105.12 199L103.38 196.5L100.62 191.25L100.12 189.25L99.38 187.75L98.25 186.88L97.5 186.88L97.25 186.62L93 186.62L92.75 186.38L91 186.12L90 185.62L87.25 184.88L85.25 183.88L84.75 183.88L83.25 183.12L82.75 182.62L81.5 182.12L79.25 180.62L77.38 179L77.38 178.75L76.38 177.75L75.62 176L75.62 175.25L75.38 175L75.38 172L75.62 171.75L75.88 170L76.88 168L78.38 165.75L80.25 163.62L80.5 163.62L83 161.38L85.25 160.12L85.75 159.62L88 158.62L88.5 158.12L89 158.12L90.25 157.38L91.5 157.12L92.75 156.38L94 156.12L94.25 155.88L95 155.88L95.25 155.62L96 155.62L98 154.88L100.25 154.62L100.5 154.38L103.5 154.12L103.75 153.88L105.75 153.88L106 153.62L109.5 153.62L109.75 153.38L119.25 153.38L119.5 153.62L123 153.62L123.25 153.88L125.5 153.88L125.75 154.12L127.25 154.12L127.5 154.38L128.5 154.38L128.75 154.62L131.5 154.88L132.75 155.38L135.5 155.88L135.75 156.12L138.5 156.88L139.25 157.38L141.25 157.88L143.25 158.88L143.75 158.88L145.5 159.88L147.38 161.75L148.12 163L148.12 163.5L148.62 164.25L148.62 165L148.88 165.25L148.88 168.75L148.62 169L148.62 170.75L148.38 171L148.38 172.5L148.12 172.75L148.12 174.25L147.88 174.5L147.62 177.5L147.38 177.75L147.12 179.75L146.38 181.5L146.12 182.75L145.62 183.5L145.62 184L144.88 185.25L144.62 186.25L144.12 186.75L142.62 189.75L139.62 194L136 197.62L130.5 201.38L124.25 204.12L123.5 204.12L122.25 204.62L121.25 204.62L121 204.88L119.25 204.88Z" fill="#001bff" fill-rule="evenodd"/>
<path d="M118 204.62L117.5 204.62L117.25 204.38L115 204.38L114.75 204.12L112.75 203.88L110 202.62L108.25 201.38L105.88 199L103.88 196.25L101.12 191L100.62 189L99.88 187.5L99 186.62L97.75 186.12L93.5 186.12L93.25 185.88L92.25 185.88L92 185.62L91.25 185.62L88.75 184.62L87.5 184.38L85.5 183.38L85 183.38L79.5 180.12L77.12 177.75L76.38 176.5L76.12 174.75L75.88 174.5L75.88 172.5L76.12 172.25L76.12 171.25L76.38 171L76.62 169.75L78.62 166.25L81.75 162.88L86.5 159.62L90 157.88L90.5 157.88L91.25 157.38L91.75 157.38L93 156.62L93.5 156.62L94.5 156.12L95.25 156.12L95.5 155.88L96.25 155.88L98.25 155.12L99.25 155.12L99.5 154.88L102.25 154.62L102.5 154.38L106.5 154.12L106.75 153.88L111 153.88L111.25 153.62L118.25 153.62L118.5 153.88L122 153.88L122.25 154.12L126.75 154.38L127 154.62L128 154.62L128.25 154.88L129.5 154.88L129.75 155.12L132 155.38L132.25 155.62L133.25 155.62L133.5 155.88L134.25 155.88L135.25 156.38L136 156.38L136.25 156.62L137.5 156.88L138.25 157.38L139.5 157.62L142.25 158.88L142.75 158.88L145.5 160.38L146.62 161.5L147.62 163L147.62 163.5L148.12 164.25L148.12 165L148.38 165.25L148.38 168.25L148.12 168.5L148.12 170.25L147.88 170.5L147.88 172L147.62 172.25L147.12 177.25L146.88 177.5L146.62 179.5L146.12 180.5L145.62 182.5L145.12 183.25L145.12 183.75L144.38 185L144.12 186L143.62 186.5L142.12 189.5L138.88 194L136 196.88L131 200.38L127.75 202.12L127.25 202.12L124 203.62L123.25 203.62L122 204.12L120.75 204.12L120.5 204.38L118.25 204.38Z" fill="#004fff" fill-rule="evenodd"/>
<path d="M120.25 203.88L115.5 203.88L115.25 203.62L113 203.38L110.25 202.12L108.5 200.88L106.38 198.75L104.38 196L101.62 190.75L101.12 188.75L100.38 187.25L99.25 186.12L98 185.62L93.75 185.62L93.5 185.38L92.5 185.38L92.25 185.12L91.5 185.12L89.75 184.38L89 184.38L88.25 183.88L87 183.62L85.75 182.88L85.25 182.88L83.75 182.12L83.25 181.62L80.75 180.38L77.38 177.25L76.62 175.5L76.62 174.25L76.38 174L76.88 170.5L78.12 168L79.62 165.75L83 162.38L85.5 160.62L88 159.38L88.5 158.88L89.5 158.38L90 158.38L90.75 157.88L91.25 157.88L92 157.38L92.5 157.38L94.5 156.38L97.25 155.88L98.5 155.38L99.5 155.38L99.75 155.12L100.75 155.12L101 154.88L102.25 154.88L102.5 154.62L106.75 154.38L107 154.12L111.5 154.12L111.75 153.88L118 153.88L118.25 154.12L121.5 154.12L121.75 154.38L124.5 154.38L124.75 154.62L126.5 154.62L126.75 154.88L127.75 154.88L128 155.12L130.75 155.38L132 155.88L133 155.88L133.25 156.12L135 156.38L135.25 156.62L138 157.38L138.75 157.88L140 158.12L140.75 158.62L142.5 159.12L144.5 160.12L146.12 161.5L147.38 163.5L147.62 165L147.88 165.25L147.88 168.25L147.62 168.5L147.62 170L147.38 170.25L147.38 171.75L147.12 172L147.12 173.5L146.88 173.75L146.62 177L146.38 177.25L146.12 179.25L144.88 182.5L144.88 183L142.12 188.5L138.62 193.5L134.5 197.38L130 200.38L127.5 201.62L127 201.62L125.75 202.38L125.25 202.38L123.75 203.12L123 203.12L121.75 203.62L120.5 203.62Z" fill="#0084ff" fill-rule="evenodd"/>
<path d="M120 203.38L115.75 203.38L115.5 203.12L113.25 202.88L110.5 201.62L108.75 200.38L106.88 198.5L104.88 195.75L102.38 191.25L102.38 190.75L101.88 190L101.62 188.75L100.88 187L99.5 185.62L98.25 185.38L98 185.12L94 185.12L93.75 184.88L92.5 184.88L91.5 184.38L90.75 184.38L89 183.62L88.5 183.62L86.5 182.62L86 182.62L81.75 180.38L80 179.12L77.88 177L77.12 175.25L77.12 171.5L77.38 171.25L77.38 170.75L79.88 166.25L83.25 162.62L87.75 159.62L90.25 158.38L90.75 158.38L92 157.62L92.5 157.62L93.25 157.12L93.75 157.12L94.75 156.62L96.5 156.38L98.5 155.62L99.5 155.62L99.75 155.38L102.25 155.12L102.5 154.88L106.75 154.62L107 154.38L111.5 154.38L111.75 154.12L117.75 154.12L118 154.38L124.25 154.62L124.5 154.88L126.25 154.88L126.5 155.12L127.75 155.12L128 155.38L129 155.38L129.25 155.62L131.75 155.88L132 156.12L132.75 156.12L133 156.38L135.5 156.88L135.75 157.12L138.5 157.88L141.75 159.38L142.25 159.38L144.25 160.38L145.62 161.5L146.38 162.5L147.38 165L147.38 168.25L147.12 168.5L147.12 169.75L146.88 170L146.38 175.25L146.12 175.5L146.12 176.75L145.88 177L145.88 178.25L145.38 179.25L145.38 180L145.12 180.25L144.62 182.25L141.38 188.75L140.12 190.25L138.38 193L135.5 195.88L135.25 195.88L133.25 197.62L131 198.88L129.75 199.88L126.75 201.38L126.25 201.38L123.5 202.62L122.75 202.62L121.5 203.12L120.25 203.12Z" fill="#00b9ff" fill-rule="evenodd"/>
<path d="M119.5 202.88L116 202.88L115.75 202.62L113.5 202.38L110.75 201.12L108.75 199.62L107.38 198.25L105.38 195.5L102.88 191L102.88 190.5L102.38 189.75L101.62 187.25L100 185.38L98.25 184.62L94.75 184.62L94.5 184.38L92.75 184.38L91.75 183.88L91 183.88L90 183.38L88.75 183.12L88 182.62L86.25 182.12L82 179.88L80.25 178.62L78.38 176.75L77.62 175L77.62 171.75L77.88 171.5L77.88 171L79.38 168L80.88 165.75L84.5 162.12L90.25 158.62L92 158.12L93.25 157.38L94.5 157.12L95.5 156.62L96.5 156.62L98.5 155.88L100.75 155.62L101 155.38L102.25 155.38L102.5 155.12L104 155.12L104.25 154.88L106.75 154.88L107 154.62L117.75 154.38L118 154.62L121.25 154.62L121.5 154.88L126.25 155.12L126.5 155.38L129 155.62L129.25 155.88L130.5 155.88L131.75 156.38L132.75 156.38L133 156.62L134.75 156.88L135 157.12L137.75 157.88L141 159.38L141.5 159.38L144 160.62L145.88 162.5L146.88 164.75L146.88 168L146.62 168.25L146.62 169.5L146.38 169.75L146.38 171.25L146.12 171.5L146.12 173.25L145.88 173.5L145.88 175L145.62 175.25L145.38 178L145.12 178.25L145.12 179L144.88 179.25L144.12 182L143.62 182.75L143.62 183.25L140.88 188.5L137.62 193L135.25 195.38L135 195.38L133 197.12L130.75 198.62L130 198.88L129.5 199.38L126.5 200.88L126 200.88L123.25 202.12L122.5 202.12L121.25 202.62L119.75 202.62Z" fill="#00edff" fill-rule="evenodd"/>
<path d="M118.75 202.38L116.75 202.38L116.5 202.12L115 202.12L114.75 201.88L113 201.62L110 199.88L107.12 197L105.88 195.25L104.38 192.25L103.62 191.25L103.62 190.75L102.88 189.5L102.38 187.5L101.88 186.5L100 184.62L98.75 184.38L98.5 184.12L93.25 183.88L93 183.62L92.25 183.62L91.25 183.12L90.5 183.12L90.25 182.88L89 182.62L87 181.62L86.5 181.62L82.75 179.62L80.25 177.88L79.12 176.75L78.38 175.5L78.38 174.75L78.12 174.5L78.12 172.25L78.38 172L78.38 171.25L79.88 168.25L81.38 166L84.5 162.62L88.5 159.88L91.5 158.38L92 158.38L93.25 157.62L93.75 157.62L95.5 156.88L96.25 156.88L96.5 156.62L97.25 156.62L97.5 156.38L98.25 156.38L99.5 155.88L102 155.62L102.25 155.38L106.5 155.12L106.75 154.88L111.25 154.88L111.5 154.62L117.75 154.62L118 154.88L124 155.12L124.25 155.38L126.25 155.38L126.5 155.62L129 155.88L129.25 156.12L130.25 156.12L130.5 156.38L132.5 156.62L132.75 156.88L133.75 156.88L136.25 157.88L138.25 158.38L140.75 159.62L141.25 159.62L143.75 160.88L145.38 162.5L146.38 164.75L146.38 167.75L146.12 168L146.12 169.25L145.88 169.5L145.88 170.75L145.62 171L145.62 172.75L145.38 173L145.38 174.5L145.12 174.75L145.12 176.25L144.88 176.5L144.62 178.75L144.12 179.75L143.62 181.75L143.12 182.5L143.12 183L139.88 189L139.12 189.75L138.12 191.5L133.75 195.88L129.25 198.88L123.75 201.38L122.25 201.62L122 201.88L121 201.88L120.75 202.12L119 202.12Z" fill="#23ffdc" fill-rule="evenodd"/>
<path d="M119.75 201.62L116 201.62L115.75 201.38L114.5 201.38L111.5 200.12L109.75 198.88L108.12 197.25L106.62 195.25L103.62 189.75L103.12 187.75L102.38 186.25L101.75 185.38L100.25 184.12L99 183.62L98 183.62L97.75 183.38L93.75 183.38L93.5 183.12L91.75 182.88L90 182.12L88.75 181.88L83.5 179.38L81.25 177.88L79.38 176L78.88 175L78.88 171.75L79.38 171L79.38 170.5L80.12 169.5L80.62 168.25L82.88 165L85.75 162.12L89 159.88L91 158.88L91.5 158.88L93.25 157.88L93.75 157.88L95.5 157.12L97.25 156.88L98.25 156.38L100.5 156.12L100.75 155.88L102 155.88L102.25 155.62L103.75 155.62L104 155.38L106 155.38L106.25 155.12L118 154.88L118.25 155.12L121.25 155.12L121.5 155.38L126 155.62L126.25 155.88L127.5 155.88L127.75 156.12L130.25 156.38L130.5 156.62L131.5 156.62L131.75 156.88L134.5 157.38L135.5 157.88L136.75 158.12L137.5 158.62L138 158.62L138.75 159.12L139.25 159.12L140.5 159.88L141 159.88L143 160.88L144.62 162.25L145.62 164L145.62 164.75L145.88 165L145.88 167.25L145.62 167.5L145.38 170L145.12 170.25L145.12 171.75L144.88 172L144.88 173.75L144.62 174L144.38 177L144.12 177.25L144.12 178.25L143.88 178.5L142.88 182L142.38 182.75L142.38 183.25L140.12 187.5L137.38 191.5L132.75 195.88L127.5 199.12L127 199.12L125.75 199.88L125.25 199.88L123.25 200.88L122.5 200.88L121.25 201.38L120 201.38Z" fill="#57ffa8" fill-rule="evenodd"/>
<path d="M120.25 200.88L115.5 200.88L115.25 200.62L114.5 200.62L112 199.62L110.25 198.38L107.62 195.5L106.12 192.75L105.62 192.25L104.38 189.75L104.38 189.25L103.88 188.5L103.62 187.25L102.88 185.75L100.25 183.38L98.75 183.12L98.5 182.88L93.5 182.62L93.25 182.38L92.5 182.38L92.25 182.12L91.5 182.12L91.25 181.88L90 181.62L89.25 181.12L87.5 180.62L82.75 178.12L79.88 175.5L79.62 174.25L79.38 174L79.38 172.75L79.62 172.5L79.62 171.75L80.12 171L80.12 170.5L83.88 164.75L86.75 161.88L89.25 160.12L92.25 158.62L92.75 158.62L94 157.88L94.5 157.88L95.5 157.38L96.25 157.38L96.5 157.12L97.25 157.12L98.25 156.62L99.25 156.62L99.5 156.38L100.5 156.38L100.75 156.12L101.75 156.12L102 155.88L103.5 155.88L103.75 155.62L105.75 155.62L106 155.38L117.75 155.12L118 155.38L121 155.38L121.25 155.62L126 155.88L126.25 156.12L128.5 156.38L128.75 156.62L130 156.62L130.25 156.88L131.25 156.88L131.5 157.12L132.25 157.12L133.5 157.62L134.25 157.62L134.5 157.88L136.5 158.38L137.25 158.88L137.75 158.88L142.5 161.12L144.38 162.75L145.12 164.5L145.12 168L144.88 168.25L144.88 169.25L144.62 169.5L144.62 170.75L144.38 171L144.38 172.5L144.12 172.75L144.12 174.5L143.88 174.75L143.62 177.5L143.38 177.75L143.38 178.5L143.12 178.75L142.38 181.5L141.88 182.25L141.88 182.75L139.38 187.5L138.12 189L137.12 190.75L132.25 195.38L130 196.88L129.25 197.12L128.75 197.62L125.75 199.12L125.25 199.12L122.5 200.38L120.5 200.62Z" fill="#8cff73" fill-rule="evenodd"/>
<path d="M120 200.12L115.75 200.12L115.5 199.88L114.5 199.88L112.25 198.88L110.25 197.12L110 197.12L107.88 194.5L107.62 193.75L106.38 192L104.88 189L104.88 188.5L103.38 185.25L100.75 182.88L99.5 182.38L98.5 182.38L98.25 182.12L95.25 182.12L95 181.88L93.5 181.88L93.25 181.62L92.5 181.62L90 180.62L89.5 180.62L87 179.38L86.5 179.38L86 178.88L84.25 178.12L82 176.62L80.88 175.5L80.38 174.75L80.38 174L80.12 173.75L80.62 171.25L84.38 165.25L87.5 161.88L90.25 159.88L91.25 159.38L91.75 159.38L94 158.12L94.5 158.12L95.5 157.62L96.25 157.62L96.5 157.38L97.25 157.38L99.25 156.62L100.5 156.62L100.75 156.38L103.5 156.12L103.75 155.88L105.75 155.88L106 155.62L117.75 155.38L118 155.62L120.75 155.62L121 155.88L125.5 156.12L125.75 156.38L127 156.38L127.25 156.62L129.75 156.88L130 157.12L131 157.12L132.25 157.62L134 157.88L135 158.38L136.25 158.62L137 159.12L137.5 159.12L141.5 161.12L143.38 162.5L144.38 164.25L144.62 166.75L144.38 167L144.38 168L144.12 168.25L144.12 169.25L143.88 169.5L143.88 170.75L143.62 171L143.62 172.75L143.38 173L143.12 176.25L142.88 176.5L142.88 177.5L142.62 177.75L142.62 178.5L142.38 178.75L141.88 180.75L141.38 181.5L140.88 183.25L140.12 184.75L139.62 185.25L139.12 186.5L136.38 190.5L132 194.62L126.75 197.88L125 198.38L123 199.38L121.5 199.62L121.25 199.88L120.25 199.88Z" fill="#c1ff3e" fill-rule="evenodd"/>
<path d="M119 199.38L115.25 199.12L115 198.88L113.75 198.62L112 197.62L108.62 194L105.38 188L105.38 187.5L104.88 186.75L104.62 185.75L103.62 184.25L102.5 183.12L101 182.12L100.5 182.12L99.5 181.62L98.75 181.62L98.5 181.38L93.75 181.12L93.5 180.88L92.75 180.88L92.5 180.62L90.5 180.12L88 178.88L87.5 178.88L86 178.12L85.5 177.62L84.25 177.12L82.75 176.12L81.62 175L81.12 174L81.12 172.5L82.12 170.25L84.62 166.75L85.88 164.5L87 163.12L89.75 160.62L94.75 158.12L95.5 158.12L98.25 157.12L101.75 156.62L102 156.38L105.75 156.12L106 155.88L110.75 155.88L111 155.62L117.25 155.62L117.5 155.88L120 155.88L120.25 156.12L122.75 156.12L123 156.38L126.75 156.62L127 156.88L128 156.88L128.25 157.12L129.25 157.12L129.5 157.38L130.5 157.38L130.75 157.62L133.5 158.12L138.5 160.12L139 160.62L140.25 161.12L141.75 162.12L142.88 163.25L143.62 164.75L143.62 167.75L143.38 168L143.12 170.25L142.88 170.5L142.88 172L142.62 172.25L142.62 174.25L142.38 174.5L142.12 177.25L141.88 177.5L141.62 179L141.38 179.25L141.12 180.5L140.62 181.25L140.62 181.75L138.12 186.5L135.88 189.75L131.25 194.12L126.25 197.12L125.75 197.12L125 197.62L124.5 197.62L121.75 198.88L119.25 199.12Z" fill="#f5ff0a" fill-rule="evenodd"/>
<path d="M120 198.12L115.75 198.12L115.5 197.88L114.25 197.62L112.5 196.62L110.12 194.25L108.62 192L106.12 187.25L106.12 186.75L105.12 184.75L104.25 183.62L102.25 181.88L100.75 181.12L99.25 180.88L99 180.62L93.75 180.12L93.5 179.88L92.75 179.88L91.25 179.12L90 178.88L85 176.38L82.62 174.5L82.38 174L82.38 172.25L82.62 172L82.62 171.5L85.12 168L85.38 167.25L85.88 166.75L86.12 166L86.62 165.5L87.88 163.25L90.25 160.88L95 158.38L96.5 158.12L98.5 157.38L99.25 157.38L99.5 157.12L100.5 157.12L100.75 156.88L103.75 156.62L104 156.38L106 156.38L106.25 156.12L116.25 155.88L116.5 156.12L119 156.12L119.25 156.38L122 156.38L122.25 156.62L126 156.88L126.25 157.12L127.25 157.12L127.5 157.38L128.5 157.38L128.75 157.62L131 157.88L133 158.62L133.75 158.62L135.75 159.62L136.25 159.62L137.25 160.38L138 160.62L141.62 163.5L142.38 164.75L142.38 165.5L142.62 165.75L142.62 167.5L142.38 167.75L142.12 170.25L141.88 170.5L141.88 172.25L141.62 172.5L141.38 176L141.12 176.25L141.12 177.25L140.62 178.25L140.38 179.75L139.12 182.25L139.12 182.75L138.12 184.25L137.62 185.5L134.62 189.75L131.25 192.88L129 194.12L127.75 195.12L125.25 196.38L124.75 196.38L122.75 197.38L121.5 197.62L121.25 197.88L120.25 197.88Z" fill="#ffd400" fill-rule="evenodd"/>
<path d="M119 196.88L116.75 196.88L116.5 196.62L115.75 196.62L113.25 195.38L111.12 193.25L109.12 190.25L106.12 184.25L104.88 183L104.88 182.75L103 181.12L101 180.12L99.5 179.88L99.25 179.62L96.5 179.38L96.25 179.12L94.5 179.12L94.25 178.88L93.5 178.88L93.25 178.62L92 178.38L89 176.88L88 176.62L87.5 176.12L86.25 175.62L84.75 174.62L84.12 174L83.88 173.5L83.88 172.25L84.62 170.75L86.62 168.25L89.38 162.75L91.25 160.88L95.25 158.62L96 158.62L97 158.12L97.75 158.12L98.75 157.62L100.75 157.38L101 157.12L104 156.88L104.25 156.62L106.75 156.62L107 156.38L118 156.38L118.25 156.62L120.25 156.62L120.5 156.88L124.75 157.12L125 157.38L126.25 157.38L127.5 157.88L128.5 157.88L128.75 158.12L129.75 158.12L130 158.38L131.75 158.62L132.75 159.12L134 159.38L136 160.38L139.12 163.25L140.88 166L140.88 166.5L141.12 166.75L141.12 168.25L140.88 168.5L140.88 170.25L140.62 170.5L140.38 174.75L140.12 175L140.12 176.25L139.88 176.5L139.62 178.25L138.88 179.75L138.62 181L137.12 184L133.62 189L130.75 191.62L128.5 193.12L127.75 193.38L127.25 193.88L124.75 195.12L123.5 195.38L122.75 195.88L120.75 196.38L120.5 196.62L119.25 196.62Z" fill="#ffa000" fill-rule="evenodd"/>
<path d="M118.75 194.88L116.25 194.62L115 194.12L114.25 193.38L114 193.38L112.88 192.25L111.38 190L110.62 189.25L109.38 187L108.88 186.5L107.62 184L106.62 183L106.62 182.75L104 180.38L101.75 179.12L101.25 179.12L100.25 178.62L99.5 178.62L98.25 178.12L97.25 178.12L97 177.88L94.5 177.62L94.25 177.38L93 177.12L92.25 176.62L91.75 176.62L88.25 174.88L86.12 173L86.12 172L86.38 171.5L88.88 168L90.12 163.75L90.88 162.25L92 161.12L95.25 159.12L95.75 159.12L98.25 158.12L99 158.12L100.25 157.62L101.25 157.62L101.5 157.38L104.75 157.12L105 156.88L108.25 156.88L108.5 156.62L115.75 156.62L116 156.88L118.25 156.88L118.5 157.12L120.5 157.12L120.75 157.38L124.25 157.62L124.5 157.88L125.75 157.88L126 158.12L129.75 158.88L130 159.12L132 159.62L134 160.62L135.38 162L136.12 163.25L136.12 163.75L136.62 164.5L136.88 165.5L138.38 167.5L139.12 169.25L138.62 175.75L138.38 176L138.38 176.75L138.12 177L138.12 177.75L137.88 178L137.62 179.25L135.62 183.5L133.38 186.75L130.25 189.88L128 191.12L127.5 191.62L124 193.38L123.5 193.38L120.25 194.62L119 194.62Z" fill="#ff6b00" fill-rule="evenodd"/>
<path d="M119.25 192.88L117.5 192.88L115.5 192.12L111.62 188L108.62 183.5L105.75 180.62L103.25 178.88L100 177.62L98.5 177.38L98.25 177.12L97.25 177.12L97 176.88L95 176.62L94.75 176.38L93.5 176.12L90 174.38L88.38 173L88.12 172L88.88 170.5L89.88 169.25L90.62 167.25L91.12 163.5L91.62 162.5L93.75 160.38L96 159.12L96.5 159.12L97.5 158.62L98.25 158.62L99.25 158.12L101.25 157.88L101.5 157.62L102.75 157.62L103 157.38L104.75 157.38L105 157.12L108.25 157.12L108.5 156.88L115 156.88L115.25 157.12L117.75 157.12L118 157.38L121.5 157.62L121.75 157.88L123 157.88L123.25 158.12L125.75 158.38L126.75 158.88L127.5 158.88L127.75 159.12L129.75 159.62L131.75 160.62L133.12 162L134.88 166.75L136.88 169L137.62 170.5L137.38 175.5L137.12 175.75L136.88 177.5L136.62 177.75L136.38 179L135.88 179.75L135.88 180.25L134.88 182.25L132.88 185.25L129.75 188.38L127.5 189.88L125 191.12L124.5 191.12L123.75 191.62L122.25 191.88L121.25 192.38L119.5 192.62Z" fill="#ff4a00" fill-rule="evenodd"/>
<path d="M120 190.62L117.5 190.62L116 189.88L111.62 185.75L110.62 184.25L106.75 180.38L104.25 178.62L101.75 177.38L94.5 175.38L92 174.12L90.38 172.75L90.12 171.75L91.62 168.25L91.88 164L92.12 163.75L92.12 163.25L92.62 162.25L94.75 160.12L96.25 159.38L97.5 159.12L98.25 158.62L99 158.62L99.25 158.38L101 158.12L101.25 157.88L102.5 157.88L102.75 157.62L104.25 157.62L104.5 157.38L107.5 157.38L107.75 157.12L114.75 157.12L115 157.38L117.25 157.38L117.5 157.62L120.5 157.88L120.75 158.12L122 158.12L122.25 158.38L123.25 158.38L123.5 158.62L125.5 158.88L129.5 160.62L130.88 162L131.38 162.75L132.12 165.5L133.12 167.5L135.88 170.5L135.88 171L136.12 171.25L136.12 175.25L135.88 175.5L135.88 176.25L135.62 176.5L135.62 177.25L135.38 177.5L135.12 178.75L134.62 179.5L134.62 180L134.12 181L133.62 181.5L132.38 183.75L129 187.12L127.5 187.88L127 188.38L126 188.62L124.75 189.38L124.25 189.38L123.25 189.88L122.5 189.88L122.25 190.12L121.5 190.12L121.25 190.38L120.25 190.38Z" fill="#ff3100" fill-rule="evenodd"/>
<path d="M121.25 187.88L118.5 187.88L116 186.88L113.75 185.38L109.5 181.38L109.25 181.38L108.25 180.38L105.5 178.38L102.75 176.88L101.5 176.62L100.75 176.12L98 175.38L96.25 174.62L95.75 174.62L93.75 173.62L92.38 172.25L92.38 170.5L92.88 169.25L92.88 164L93.62 162L94.75 160.62L97 159.38L98.25 159.12L99.25 158.62L101 158.38L101.25 158.12L104.25 157.88L104.5 157.62L107.25 157.62L107.5 157.38L113.75 157.38L114 157.62L116.5 157.62L116.75 157.88L118 157.88L118.25 158.12L120.75 158.38L121 158.62L122 158.62L123 159.12L123.75 159.12L125.75 159.88L128.12 161.75L129.12 163.5L129.12 164L129.88 165.25L129.88 165.75L130.62 167.25L131.62 168.75L133.62 170.75L134.38 172L134.38 175.5L134.12 175.75L134.12 176.75L133.88 177L133.62 178.25L131.38 182.25L128.5 185.12L125.25 186.88L122.75 187.38L122.5 187.62L121.5 187.62Z" fill="#ff1800" fill-rule="evenodd"/>
<path d="M122.5 184.88L118.25 184.88L117.25 184.38L116 184.12L113.25 182.62L111.75 181.38L105.25 177.12L102.75 175.88L102.25 175.88L101.5 175.38L99.75 174.88L99 174.38L98.5 174.38L97.25 173.62L96.75 173.62L95.5 172.88L94.62 172L94.62 171.5L94.38 171.25L94.38 166L94.12 165.75L94.12 163.25L94.38 163L94.62 161.75L96 160.38L99.5 158.88L100.25 158.88L101.5 158.38L102.5 158.38L102.75 158.12L104.25 158.12L104.5 157.88L107.75 157.88L108 157.62L109.75 157.62L110 157.88L115.25 157.88L115.5 158.12L117 158.12L117.25 158.38L118 158.38L118.25 158.62L119 158.62L119.25 158.88L121.75 159.38L124.25 160.62L125.88 162.25L127.38 165.25L127.38 165.75L127.88 166.75L131.62 171.75L132.12 172.75L132.38 174.5L132.12 174.75L132.12 176L131.88 176.25L131.62 177.5L130.12 180.25L126.75 183.38L125.75 183.88L125.25 183.88L124.5 184.38L122.75 184.62Z" fill="#fe0000" fill-rule="evenodd"/>
<path d="M121.75 182.12L118 182.12L117.75 181.88L116 181.62L114.5 180.88L114 180.88L110.5 179.12L110 178.62L107.5 177.38L107 176.88L105.25 176.12L104.75 175.62L103.75 175.38L102.5 174.62L102 174.62L98 172.62L96.88 171.5L96.38 170.25L96.12 167.25L95.62 166L95.62 165L95.38 164.75L95.38 162.5L95.62 162.25L95.62 161.75L96.75 160.62L98.5 159.62L99 159.62L100.75 158.88L101.5 158.88L101.75 158.62L104.75 158.38L105 158.12L113.25 158.12L113.5 158.38L115.25 158.38L115.5 158.62L116.5 158.62L116.75 158.88L117.5 158.88L117.75 159.12L119 159.38L121.5 160.62L123.88 163.25L125.88 167.5L128.38 171L129.38 173.25L129.38 175.75L128.12 178.25L125.25 180.88L122.75 181.88L122 181.88Z" fill="#e40000" fill-rule="evenodd"/>
<path d="M119 179.62L118.5 179.62L118.25 179.38L116.25 179.38L116 179.12L115 179.12L114.75 178.88L113.25 178.62L112.5 178.12L112 178.12L108.75 176.38L108.25 176.38L107.75 175.88L103.25 173.62L102.75 173.62L101.25 172.88L99.75 171.88L99.12 171.25L98.38 169.75L98.12 168.25L96.88 165L96.62 162.5L97.12 161.5L98.5 160.38L101.5 159.12L104 158.88L104.25 158.62L107.25 158.62L107.5 158.38L109 158.38L109.25 158.62L112.75 158.62L113 158.88L115.5 159.12L118 160.12L120 161.62L121.62 163.75L123.62 168L124.88 169.75L125.88 171.75L125.88 172.25L126.12 172.5L126.12 175L125.38 176.5L123.75 178.12L121 179.38L119.25 179.38Z" fill="#cb0000" fill-rule="evenodd"/>
<path d="M117 177.12L116.25 177.12L116 176.88L114.25 176.88L114 176.62L111.5 176.12L110.75 175.62L109 175.12L102.25 171.62L100.88 170L99.88 168L99.88 167.5L98.88 165.75L98.62 164.5L98.38 164.25L98.38 162.25L98.62 161.75L100.5 160.12L101 160.12L102 159.62L102.75 159.62L103 159.38L104 159.38L104.25 159.12L110.75 159.12L111 159.38L112.5 159.38L112.75 159.62L113.5 159.62L114.5 160.12L115 160.12L116.75 161.12L118.12 162.5L119.12 164L122.62 171L122.62 171.75L122.88 172L122.88 173L122.62 173.25L122.38 174.5L120.75 176.12L118.75 176.88L117.25 176.88Z" fill="#b20000" fill-rule="evenodd"/>
<path d="M116.25 174.38L112.75 174.38L112.5 174.12L111.5 174.12L111.25 173.88L109.25 173.38L108.5 172.88L108 172.88L105 171.12L102.88 168.75L100.62 164.5L100.62 164L100.38 163.75L100.38 162.5L100.88 161.5L102 160.62L102.5 160.62L103.5 160.12L104.25 160.12L104.5 159.88L109.5 159.88L109.75 160.12L110.75 160.12L111 160.38L112.5 160.62L114.25 161.62L116.38 164L117.38 166L117.38 166.5L117.88 167.25L117.88 167.75L118.38 168.5L118.38 169L118.88 169.75L118.88 170.5L119.12 170.75L118.88 172.5L117.5 173.88Z" fill="#990000" fill-rule="evenodd"/>
<path d="M112.75 170.88L111.25 170.88L111 170.62L109.5 170.38L107.5 169.12L105.88 167.5L105.88 167.25L104.12 165.25L103.62 164.25L103.62 162.5L104.25 161.88L105.5 161.38L108.5 161.38L111.25 162.62L113.12 164.75L113.62 166L113.62 166.75L113.88 167L113.88 168L114.12 168.25L113.88 170Z" fill="#800000" fill-rule="evenodd"/>
<path d="M232.5 171L300.9 132L359.1 179.1M232.5 161L300.9 122L359.1 169.1M286.76 150.06L286.76 130.06M272.63 158.12L272.63 138.12M258.52 166.17L258.52 146.17M244.38 174.23L244.38 154.23M312.27 151.2L312.27 131.2M323.63 160.4L323.63 140.4M335 169.6L335 149.6M346.37 178.8L346.37 158.8M357.74 188L357.74 168M300.9 142L300.9 122" stroke="#2a2a2a" stroke-width="0.7" stroke-dasharray="0.7 1.5" fill="none"/>
<path d="M232.5 181L300.9 142L359.1 189.1L289.1 230.3Z" fill="#06068f"/>
<path d="M297.75 208.62L293.25 208.62L293 208.38L292 208.38L291.75 208.12L291 208.12L290.75 207.88L288.75 207.38L285.5 205.62L282.88 203L282.88 202.75L281.38 201.25L279.12 198.25L276.38 193L276.12 191.75L275.25 190.38L274.75 190.12L272.5 190.12L272.25 189.88L269.25 189.88L269 189.62L266.25 189.12L265.5 188.62L262.75 187.88L262 187.38L261.5 187.38L259.75 186.38L259.25 186.38L258.25 185.88L255 183.62L253.88 182.5L252.62 180.5L252.38 179.25L252.12 179L252.12 175.75L252.38 175.5L252.62 173.5L254.12 170.25L254.88 169.5L255.62 168.25L258.25 165.62L258.5 165.62L261 163.38L261.75 163.12L264.75 161.12L267.75 159.62L269.75 159.12L271.75 158.12L274 157.88L275 157.38L277 157.12L277.25 156.88L278.25 156.88L278.5 156.62L279.75 156.62L280 156.38L284 156.12L284.25 155.88L287 155.88L287.25 155.62L293.75 155.62L294 155.88L296.75 155.88L297 156.12L301.75 156.38L302 156.62L303.25 156.62L303.5 156.88L305.75 157.12L306 157.38L308.5 157.88L311 158.88L316 160.38L316.75 160.88L317.25 160.88L320.25 162.62L322.12 164.25L323.88 167.5L324.12 169.25L324.38 169.5L324.38 175.5L324.12 175.75L324.12 177.5L323.88 177.75L323.88 178.75L323.62 179L323.62 180.25L323.38 180.5L323.12 182.5L322.62 183.5L321.38 187.75L318.12 194.25L317.38 195L315.12 198.25L311.5 201.88L311.25 201.88L309.25 203.62L304 206.62L303.5 206.62L302.75 207.12L302.25 207.12L299.75 208.12L298 208.38Z" fill="#0000b1" fill-rule="evenodd"/>
<path d="M297.75 207.88L293.25 207.88L293 207.62L291 207.38L289.5 206.62L289 206.62L285.75 204.88L282.38 201.25L282.38 201L281.12 199.75L280.62 198.75L279.88 198L278.38 195L277.62 194L277.62 193.5L276.88 192.25L276.38 190.5L275.5 189.62L275 189.62L274.75 189.38L272.25 189.38L272 189.12L269.25 189.12L269 188.88L267.25 188.62L267 188.38L263.5 187.38L258.5 185.12L254.62 182.25L253.88 181.25L252.88 179L252.88 175.75L253.12 175.5L253.38 173.5L253.88 172.75L253.88 172.25L254.38 171.25L256.12 168.75L259.75 165.12L263.25 162.62L266.25 161.12L266.75 160.62L270 159.62L272 158.62L274 158.38L274.25 158.12L275 158.12L275.25 157.88L276 157.88L277.25 157.38L280 157.12L280.25 156.88L284.25 156.62L284.5 156.38L287.5 156.38L287.75 156.12L292 156.12L292.25 156.38L296.5 156.38L296.75 156.62L299.25 156.62L299.5 156.88L301.5 156.88L301.75 157.12L303 157.12L303.25 157.38L304.25 157.38L304.5 157.62L305.5 157.62L305.75 157.88L307.5 158.12L309.25 158.88L310 158.88L311 159.38L314.5 160.38L316.5 161.38L317 161.38L320 163.12L321.88 165L322.88 166.75L322.88 167.25L323.38 168.25L323.38 169L323.62 169.25L323.62 175.5L323.38 175.75L323.38 177.5L323.12 177.75L323.12 179L322.88 179.25L322.88 180.25L322.62 180.5L322.38 182.5L321.88 183.5L320.62 187.75L319.38 190.25L318.88 190.75L317.88 193.25L314.38 198L311.25 201.12L311 201.12L308 203.62L303.25 206.12L302.75 206.12L302 206.62L301.5 206.62L300.5 207.12L298 207.62Z" fill="#0000e5" fill-rule="evenodd"/>
<path d="M297.75 207.38L293.25 207.38L293 207.12L292 207.12L291.75 206.88L289 206.12L286.25 204.62L283.88 202.25L283.88 202L282.38 200.5L280.12 197.5L277.38 192.25L276.88 190.25L275.75 189.12L275 189.12L274.75 188.88L272.25 188.88L272 188.62L269.25 188.62L269 188.38L268.25 188.38L268 188.12L267.25 188.12L266.25 187.62L265.75 187.62L265 187.12L263 186.62L260 185.12L259 184.88L255.75 182.62L254.88 181.75L254.88 181.5L254.12 180.75L253.38 179L253.38 175.75L253.62 175.5L253.62 174.5L253.88 174.25L254.12 173L256.12 169.5L259.75 165.62L260 165.62L261.25 164.38L263.5 162.88L264.25 162.62L264.75 162.12L266 161.62L266.5 161.12L268.25 160.38L269.5 160.12L270.25 159.62L270.75 159.62L271.5 159.12L275.25 158.38L276.5 157.88L278.75 157.62L279 157.38L282.5 157.12L282.75 156.88L285.25 156.88L285.5 156.62L295.5 156.62L295.75 156.88L298.75 156.88L299 157.12L301 157.12L301.25 157.38L302.75 157.38L303 157.62L305.25 157.88L305.5 158.12L307.25 158.38L309 159.12L309.75 159.12L312.25 160.12L314.25 160.62L316.25 161.62L316.75 161.62L319.75 163.38L321.62 165.25L322.88 168L323.12 170.5L323.38 170.75L322.88 177.5L322.62 177.75L322.62 179L322.38 179.25L322.38 180.25L322.12 180.5L321.88 182.5L321.38 183.5L320.38 187L317.12 193.5L315.62 195.25L314.38 197.25L310.5 201.12L310.25 201.12L308.5 202.62L303.75 205.38L303.25 205.38L302 206.12L300.5 206.38Z" fill="#001bff" fill-rule="evenodd"/>
<path d="M295.75 207.12L295.25 206.88L293 206.88L292.75 206.62L291.75 206.62L291.5 206.38L290.25 206.12L287.5 204.88L286 203.88L282.12 199.5L279.88 196.25L277.88 192.25L277.38 190.25L276.5 189.12L275.5 188.62L270.75 188.38L270.5 188.12L268 187.88L267.75 187.62L267 187.62L266.25 187.12L263.5 186.38L260.5 184.88L260 184.88L259 184.12L258.25 183.88L256.75 182.88L254.62 180.75L253.88 179L253.88 175.25L254.12 175L254.38 173.5L254.88 172.75L255.12 171.75L257.38 168.5L260.5 165.38L264 162.88L266.5 161.62L267 161.12L270.25 160.12L271.5 159.38L275.25 158.62L276.25 158.12L277.5 158.12L277.75 157.88L278.75 157.88L279 157.62L280.25 157.62L280.5 157.38L282.25 157.38L282.5 157.12L285 157.12L285.25 156.88L295.75 156.88L296 157.12L298.75 157.12L299 157.38L301 157.38L301.25 157.62L302.75 157.62L303 157.88L305.25 158.12L307.25 158.88L308.75 159.12L309.75 159.62L310.5 159.62L311.5 160.12L312.75 160.38L313.5 160.88L315.5 161.38L316.25 161.88L316.75 161.88L319.25 163.38L320.88 164.75L322.38 167.5L322.62 169.5L322.88 169.75L322.88 174.25L322.62 174.5L322.62 176.5L322.38 176.75L322.38 178L322.12 178.25L321.88 180.75L321.62 181L321.38 182.75L320.88 183.75L320.12 186.5L318.62 189.75L318.12 190.25L317.38 191.75L317.12 192.75L313.38 197.75L308.5 202.12L307 203.12L305.75 203.62L305.25 204.12L302 205.62L301.5 205.62L299.75 206.38L299 206.38L298 206.88L296 206.88Z" fill="#004fff" fill-rule="evenodd"/>
<path d="M297 206.62L294 206.62L293.75 206.38L291.5 206.12L291.25 205.88L290 205.62L286.75 203.88L284.12 201.25L284.12 201L281.88 198.5L280.38 196.25L279.88 195L279.38 194.5L277.38 189.5L276.5 188.62L275.25 188.12L270 187.88L269.75 187.62L267.75 187.38L267.5 187.12L264 186.12L259 183.88L256.5 182.12L255.38 181L254.38 179.25L254.38 178.5L254.12 178.25L254.12 176.25L254.38 176L254.38 175L254.62 174.75L254.88 173.25L255.88 171.25L257.62 168.75L261.5 164.88L264 163.12L266.5 161.88L267 161.38L268 161.12L268.75 160.62L269.5 160.62L272.25 159.38L274.25 159.12L275.25 158.62L277.25 158.38L277.5 158.12L278.5 158.12L278.75 157.88L282 157.62L282.25 157.38L284 157.38L284.25 157.12L287.25 157.12L287.5 156.88L292.5 156.88L292.75 157.12L296.25 157.12L296.5 157.38L301.25 157.62L301.5 157.88L302.75 157.88L303 158.12L304 158.12L304.25 158.38L305.5 158.38L305.75 158.62L307.25 158.88L309 159.62L309.75 159.62L310.75 160.12L314.25 161.12L315 161.62L315.5 161.62L316.25 162.12L316.75 162.12L317.75 162.62L319.5 163.88L321.12 165.5L322.38 168.75L322.38 175.25L322.12 175.5L322.12 177L321.88 177.25L321.88 178.5L321.62 178.75L321.62 180L321.38 180.25L321.12 182.25L320.12 184.75L319.62 186.75L316.62 192.75L313.88 196.5L308.5 201.62L306.25 202.88L305.75 203.38L302.25 205.12L301.75 205.12L300 205.88L299.25 205.88L298.25 206.38L297.25 206.38Z" fill="#0084ff" fill-rule="evenodd"/>
<path d="M297.5 206.12L293.5 206.12L293.25 205.88L292.25 205.88L292 205.62L289.25 204.88L286.75 203.38L282.38 198.5L280.88 196.25L280.62 195.5L280.12 195L278.62 192L277.88 189.5L277.38 188.75L276.5 188.12L276 187.88L274.75 187.88L274.5 187.62L269.5 187.38L269.25 187.12L267.5 186.88L265 185.88L264.5 185.88L259 183.38L257.5 182.38L255.38 180.25L254.62 178.75L254.62 175.75L254.88 175.5L255.12 173.75L256.38 171.25L258.12 168.75L262.25 164.62L263.25 164.12L264 163.38L268 161.12L270 160.62L272 159.62L274 159.38L274.25 159.12L275 159.12L277 158.38L278.25 158.38L278.5 158.12L279.5 158.12L279.75 157.88L281.5 157.88L281.75 157.62L283.5 157.62L283.75 157.38L286.5 157.38L286.75 157.12L294.25 157.12L294.5 157.38L297.25 157.38L297.5 157.62L299.5 157.62L299.75 157.88L303 158.12L303.25 158.38L304.25 158.38L304.5 158.62L306.5 158.88L308.25 159.62L309 159.62L310 160.12L314.25 161.38L316.25 162.38L316.75 162.38L318.75 163.62L320.38 165L321.62 167.25L321.62 167.75L321.88 168L321.88 169.25L322.12 169.5L322.12 173.75L321.88 174L321.62 177.75L321.38 178L321.38 179.25L321.12 179.5L320.88 181.75L320.12 183.5L319.38 186.25L316.12 192.75L313.38 196.5L310 199.88L309.75 199.88L307.75 201.62L303.5 204.12L303 204.12L301.75 204.88L300.5 205.12L300.25 205.38L299.5 205.38L298.5 205.88L297.75 205.88Z" fill="#00b9ff" fill-rule="evenodd"/>
<path d="M296.25 205.88L292 205.38L291.75 205.12L289.75 204.62L286.75 202.88L283.12 198.75L281.38 196.25L278.88 191.5L278.12 189L277 187.88L275.75 187.38L270.5 187.12L270.25 186.88L269.25 186.88L269 186.62L266.5 186.12L265.75 185.62L263.75 185.12L260.75 183.62L260.25 183.62L259.75 183.12L257.5 181.88L255.88 180.25L255.38 179.5L255.12 177.75L254.88 177.5L255.62 173.75L256.88 171.25L258.38 169L261.75 165.38L265.25 162.88L268.5 161.12L270.5 160.62L271.75 159.88L273.75 159.62L275.75 158.88L276.5 158.88L276.75 158.62L277.75 158.62L278 158.38L279 158.38L279.25 158.12L280.75 158.12L281 157.88L283 157.88L283.25 157.62L286 157.62L286.25 157.38L295 157.38L295.25 157.62L298 157.62L298.25 157.88L300.25 157.88L300.5 158.12L302 158.12L302.25 158.38L303.25 158.38L303.5 158.62L304.75 158.62L305 158.88L306.75 159.12L309.25 160.12L310 160.12L317.25 162.88L318.75 163.88L320.38 165.5L320.88 166.25L320.88 166.75L321.38 167.5L321.38 168.25L321.62 168.5L321.62 174.75L321.38 175L321.38 176.75L321.12 177L321.12 178.25L320.88 178.5L320.88 179.75L320.62 180L320.38 182L320.12 182.25L318.88 186.5L317.12 190L316.62 190.5L316.62 191L315.88 192.5L312.62 196.5L312.62 196.75L307.75 201.12L303 203.88L302.5 203.88L301.75 204.38L301.25 204.38L298.75 205.38L296.5 205.62Z" fill="#00edff" fill-rule="evenodd"/>
<path d="M296.75 205.38L294.25 205.38L294 205.12L292.75 205.12L292.5 204.88L289.75 204.12L287.5 202.88L285.38 200.75L285.38 200.5L282.38 197L279.38 191.5L278.62 189L277 187.38L275.5 187.12L275.25 186.88L270.25 186.62L270 186.38L268 186.12L267.75 185.88L264.25 184.88L259.5 182.62L256.62 180.5L256.62 180.25L255.88 179.5L255.62 178.25L255.38 178L255.38 176.5L255.62 176.25L255.88 174.25L257.38 171.25L258.88 169L262.75 164.88L267.75 161.62L269.75 161.12L272.5 159.88L274.5 159.62L276.5 158.88L277.5 158.88L277.75 158.62L278.75 158.62L279 158.38L280.25 158.38L280.5 158.12L282.25 158.12L282.5 157.88L284.75 157.88L285 157.62L295.5 157.62L295.75 157.88L298.5 157.88L298.75 158.12L302.25 158.38L302.5 158.62L305 158.88L307.75 159.88L308.5 159.88L308.75 160.12L313.75 161.62L315.75 162.62L316.25 162.62L318 163.62L319.88 165.25L320.62 166.5L320.62 167L321.12 168L321.12 169L321.38 169.25L321.38 172.25L321.12 172.5L321.12 175.5L320.88 175.75L320.88 177.25L320.62 177.5L320.62 178.75L320.38 179L320.38 180.25L320.12 180.5L319.88 182.25L318.88 184.75L318.62 186L315.62 192L312.88 195.75L309.25 199.38L309 199.38L307 201.12L302.5 203.62L302 203.62L301.25 204.12L300.75 204.12L299.75 204.62L299 204.62L298 205.12L297 205.12Z" fill="#23ffdc" fill-rule="evenodd"/>
<path d="M296.75 204.88L294 204.88L293.75 204.62L292.75 204.62L292.5 204.38L290.5 203.88L288 202.62L285.38 200L285.38 199.75L282.62 196.5L279.88 191.5L279.88 191L278.88 188.5L277.5 187.12L276.25 186.62L275.25 186.62L275 186.38L270 186.12L269.75 185.88L268 185.62L266.25 184.88L265 184.62L260 182.38L257.75 180.88L256.62 179.75L255.88 178L255.88 176.25L256.12 176L256.38 174.25L257.62 171.75L259.62 168.75L263.5 164.62L268.25 161.62L270.25 161.12L272.25 160.12L274.25 159.88L274.5 159.62L277 159.12L277.25 158.88L278.5 158.88L278.75 158.62L279.75 158.62L280 158.38L281.5 158.38L281.75 158.12L283.75 158.12L284 157.88L286.75 157.88L287 157.62L293.75 157.62L294 157.88L296.25 157.88L296.5 158.12L299 158.12L299.25 158.38L302.75 158.62L304 159.12L305.25 159.12L306.25 159.62L307 159.62L308.75 160.38L309.5 160.38L316.75 163.12L318.25 164.12L319.88 165.75L320.88 168.5L320.88 173L320.62 173.25L320.38 177.75L320.12 178L319.62 181.5L319.38 181.75L318.12 186L315.12 192L314.38 192.75L312.88 195L307.25 200.38L305.75 201.38L301.75 203.38L301.25 203.38L299.75 204.12L299 204.12L298 204.62L297 204.62Z" fill="#57ffa8" fill-rule="evenodd"/>
<path d="M296.5 204.38L294.25 204.38L294 204.12L292 203.88L290.5 203.12L290 203.12L289 202.38L288.25 202.12L285.88 199.75L285.88 199.5L283.62 197L282.38 194.75L281.88 194.25L280.12 190.75L279.62 188.75L278 186.88L276.5 186.12L272.75 185.88L272.5 185.62L270.25 185.62L270 185.38L268 185.12L267.25 184.62L263.25 183.38L259.75 181.62L257.12 179.5L256.38 177.75L256.38 176.5L256.62 176.25L256.88 174.5L258.12 172L258.62 171.5L258.88 170.75L260.38 168.5L264.25 164.38L268.25 161.88L270.75 161.12L272.75 160.12L273.75 160.12L274 159.88L274.75 159.88L275 159.62L275.75 159.62L277 159.12L279.25 158.88L279.5 158.62L281 158.62L281.25 158.38L283 158.38L283.25 158.12L286.25 158.12L286.5 157.88L294.5 157.88L294.75 158.12L297.5 158.12L297.75 158.38L301.5 158.62L301.75 158.88L304.25 159.12L304.5 159.38L306.25 159.62L307.25 160.12L308 160.12L312.75 161.88L313.25 161.88L317 163.62L319.62 166L320.12 167.25L320.12 168L320.38 168.25L320.38 173.25L320.12 173.5L320.12 176L319.88 176.25L319.62 179.25L319.38 179.5L319.12 181.5L318.88 181.75L317.62 186L316.38 188.5L315.88 189L314.62 191.75L312.62 194.5L311.62 195.5L311.62 195.75L307 199.88L302.25 202.62L301.75 202.62L301 203.12L300.5 203.12L298.75 203.88L296.75 204.12Z" fill="#8cff73" fill-rule="evenodd"/>
<path d="M297.25 203.62L293.5 203.62L293.25 203.38L292.5 203.38L292.25 203.12L291 202.88L288.25 201.38L284.38 197L281.62 192.5L280.62 190.5L280.12 188.5L278.25 186.38L276.75 185.62L275.75 185.62L275.5 185.38L273.25 185.38L273 185.12L270.75 185.12L270.5 184.88L269.5 184.88L269.25 184.62L268.5 184.62L266 183.62L265.5 183.62L260.5 181.38L259 180.38L257.38 178.75L257.12 178.25L257.12 175.75L258.38 172.75L262.12 167L264.75 164.38L266.5 163.38L267.25 162.62L268.75 161.88L270 161.62L272.75 160.38L274.75 160.12L276.75 159.38L277.75 159.38L278 159.12L279 159.12L279.25 158.88L280.5 158.88L280.75 158.62L282.5 158.62L282.75 158.38L285.5 158.38L285.75 158.12L294.75 158.12L295 158.38L297.75 158.38L298 158.62L301.75 158.88L302 159.12L303 159.12L303.25 159.38L304.25 159.38L304.5 159.62L305.5 159.62L306.5 160.12L307.25 160.12L308.25 160.62L313.25 162.12L314.5 162.88L315 162.88L317.25 164.12L319.12 166L319.88 168L319.88 172.5L319.62 172.75L319.62 175.5L319.38 175.75L319.12 179L318.88 179.25L318.62 181.25L318.38 181.5L317.12 185.75L315.62 188.75L315.12 189.25L314.12 191.5L312.12 194.25L306.75 199.38L305.25 200.38L301.25 202.38L300.75 202.38L300 202.88L299.25 202.88L298.25 203.38L297.5 203.38Z" fill="#c1ff3e" fill-rule="evenodd"/>
<path d="M296 203.12L293.25 202.88L292.25 202.38L291 202.12L288.75 200.88L284.12 195.5L281.38 190.5L281.12 189.25L280.38 187.75L279.88 187L278.25 185.62L276.25 184.88L272.5 184.62L272.25 184.38L270.25 184.38L270 184.12L268.25 183.88L267.5 183.38L265.5 182.88L264.75 182.38L264.25 182.38L263 181.62L262.5 181.62L261 180.88L259.5 179.88L258.12 178.5L257.88 177.25L257.62 177L257.88 176.75L257.88 175.5L258.12 175.25L258.12 174.75L259.62 172L260.62 170.75L261.12 169.5L262.12 168.25L262.38 167.5L265 164.62L268.75 162.12L270 161.88L272.5 160.62L274.5 160.38L274.75 160.12L277.25 159.62L277.5 159.38L278.75 159.38L279 159.12L280 159.12L280.25 158.88L282 158.88L282.25 158.62L284.25 158.62L284.5 158.38L295.25 158.38L295.5 158.62L298 158.62L298.25 158.88L301.75 159.12L302 159.38L305.5 159.88L307.25 160.62L308 160.62L311.25 161.88L311.75 161.88L313.75 162.88L314.25 162.88L316.25 163.88L317.88 165.25L319.12 167.25L319.12 168.25L319.38 168.5L319.38 171.5L319.12 171.75L319.12 174.5L318.88 174.75L318.62 178.5L318.38 178.75L318.38 179.75L318.12 180L317.88 181.75L317.62 182L316.88 184.75L313.88 190.75L311.88 193.5L310.88 194.5L310.88 194.75L306.25 198.88L301.25 201.62L300.75 201.62L299.25 202.38L298.5 202.38L297.5 202.88L296.25 202.88Z" fill="#f5ff0a" fill-rule="evenodd"/>
<path d="M297 202.12L293.75 202.12L293.5 201.88L291.5 201.38L289.25 200.12L287.62 198.5L287.62 198.25L286.12 196.75L284.62 194.75L282.12 190.25L282.12 189.75L281.62 189L281.62 188.5L281.12 187.5L280.5 186.62L278.75 185.12L276.25 184.12L272.75 183.88L272.5 183.62L270.5 183.62L270.25 183.38L269.5 183.38L269.25 183.12L265.75 182.12L261 179.88L258.88 178L258.62 177.5L258.62 176L259.88 173.25L260.88 172L262.88 168L263.88 166.5L266.25 164.12L268 162.88L270.75 161.62L271.25 161.62L272.5 160.88L274.5 160.62L274.75 160.38L277.25 159.88L277.5 159.62L278.5 159.62L278.75 159.38L279.75 159.38L280 159.12L281.75 159.12L282 158.88L284 158.88L284.25 158.62L290.5 158.38L290.75 158.62L295.25 158.62L295.5 158.88L300 159.12L300.25 159.38L301.75 159.38L302 159.62L303 159.62L303.25 159.88L304.25 159.88L304.5 160.12L306.25 160.38L306.5 160.62L311.5 162.12L312.25 162.62L312.75 162.62L315.75 164.12L317.12 165.25L317.12 165.5L317.88 166.25L318.62 168L318.62 171.75L318.38 172L318.38 174.75L318.12 175L317.88 178.75L317.62 179L317.62 180L317.38 180.25L317.12 181.75L316.38 183.5L316.38 184L315.88 184.75L315.88 185.25L314.62 187.75L314.12 188.25L313.12 190.5L311.12 193.25L306.25 197.88L301.5 200.62L301 200.62L300.25 201.12L299.75 201.12L298 201.88L297.25 201.88Z" fill="#ffd400" fill-rule="evenodd"/>
<path d="M296.25 201.12L293.5 200.88L292.5 200.38L292 200.38L289.5 198.88L286.12 195L284.62 192.75L284.12 191.5L283.62 191L282.88 189.5L282.38 187.75L281.62 186.5L279.25 184.38L277.75 183.62L276 183.38L275.75 183.12L274 183.12L273.75 182.88L272.5 182.88L272.25 182.62L270.5 182.62L270.25 182.38L268.75 182.12L268 181.62L266.75 181.38L266 180.88L265.5 180.88L263.75 179.88L263.25 179.88L262.25 179.38L259.88 177.5L259.88 175.75L260.12 175.5L260.12 175L261.88 172.5L264.62 166.75L267.5 163.62L272 161.38L272.5 161.38L273.5 160.88L274.5 160.88L274.75 160.62L277.25 160.12L277.5 159.88L279.75 159.62L280 159.38L283.75 159.12L284 158.88L287.25 158.88L287.5 158.62L295 158.88L295.25 159.12L297.75 159.12L298 159.38L299.5 159.38L299.75 159.62L301.25 159.62L301.5 159.88L305 160.38L306 160.88L306.75 160.88L307 161.12L309.75 161.88L311.75 162.88L312.25 162.88L315 164.38L316.88 166.25L317.62 167.75L317.62 169.25L317.88 169.5L317.88 170.5L317.62 170.75L317.62 173L317.38 173.25L317.38 176.25L317.12 176.5L316.88 179.5L316.62 179.75L316.62 180.5L316.38 180.75L315.38 184.25L312.38 190L309.88 193L309.88 193.25L305.5 197.12L301 199.62L300.5 199.62L299.75 200.12L298.5 200.38L298.25 200.62L296.5 200.88Z" fill="#ffa000" fill-rule="evenodd"/>
<path d="M296.5 199.38L294.5 199.38L294.25 199.12L293.5 199.12L291 197.88L288.62 195.5L288.62 195.25L286.62 193L285.38 190.75L284.88 190.25L284.62 189.5L284.12 189L284.12 188.5L282.88 186.25L279.75 183.38L278.25 182.62L275.75 182.12L275.5 181.88L274 181.88L273.75 181.62L271.25 181.38L271 181.12L269.5 180.88L268.75 180.38L268.25 180.38L266.25 179.38L265.75 179.38L262.75 177.88L261.62 176.75L261.88 175L263.38 173L264.62 170.5L265.38 167.75L266.38 165.75L268 163.88L269 163.12L270 162.88L272.25 161.62L272.75 161.62L273.75 161.12L274.5 161.12L274.75 160.88L275.5 160.88L276.5 160.38L278.75 160.12L279 159.88L280 159.88L280.25 159.62L284 159.38L284.25 159.12L294.5 159.12L294.75 159.38L296.75 159.38L297 159.62L298.75 159.62L299 159.88L301.75 160.12L302 160.38L303 160.38L303.25 160.62L306 161.12L307 161.62L307.5 161.62L308.25 162.12L309.5 162.38L312.5 163.88L314.88 165.75L316.12 168L316.12 168.5L316.38 168.75L316.38 170L316.62 170.25L316.62 171L316.38 171.25L316.38 174.75L316.12 175L316.12 177.25L315.88 177.5L315.62 180L315.12 181L314.38 183.75L312.88 186.75L309.88 191.25L305.75 195.12L304 196.38L301 197.88L300.5 197.88L299.75 198.38L299.25 198.38L297.5 199.12L296.75 199.12Z" fill="#ff6b00" fill-rule="evenodd"/>
<path d="M296.25 197.62L294 197.38L292 196.38L287.12 191.25L286.62 190.25L285.38 188.75L284.62 187L282.88 185L282.88 184.75L280.25 182.62L277.25 181.38L276.5 181.38L276.25 181.12L274.5 180.88L274.25 180.62L273.25 180.62L273 180.38L270.25 179.88L264.5 177.12L263.62 176.25L263.62 175.25L264.38 173.75L264.88 173.25L265.88 170.75L266.62 167L267.88 164.75L269 163.62L270.25 162.88L270.75 162.88L272.25 161.88L272.75 161.88L273.75 161.38L274.5 161.38L274.75 161.12L275.5 161.12L277.5 160.38L279.75 160.12L280 159.88L283.5 159.62L283.75 159.38L287 159.38L287.25 159.12L294.5 159.38L294.75 159.62L296.5 159.62L296.75 159.88L298.5 159.88L298.75 160.12L301.5 160.38L301.75 160.62L303.5 160.88L303.75 161.12L304.75 161.12L305.75 161.62L306.25 161.62L307 162.12L308.25 162.38L310.75 163.62L313.62 166.25L314.88 168.5L314.88 169L315.38 170L315.38 175.75L315.12 176L315.12 178L314.88 178.25L314.62 180.25L314.38 180.5L313.88 182.5L313.38 183.25L313.38 183.75L312.38 185.75L311.38 187L310.38 189L309.12 190.25L309.12 190.5L307.25 192.38L307 192.38L305.25 193.88L303.75 194.88L302.25 195.62L301.75 195.62L300.5 196.38L298.5 196.88L297.5 197.38L296.5 197.38Z" fill="#ff4a00" fill-rule="evenodd"/>
<path d="M297.25 195.12L295 195.12L292.75 194.12L292 193.38L291.75 193.38L288.12 190L288.12 189.75L286.62 188.25L284.62 185.25L282 182.88L280.5 181.88L279 181.12L278.5 181.12L275.25 179.88L273.5 179.62L272.5 179.12L270.5 178.62L266.75 176.62L265.88 175.75L265.88 174.5L266.38 173.75L266.38 173.25L266.88 172.5L266.88 171.75L267.12 171.5L267.12 169.5L267.38 169.25L267.38 167.5L267.62 167.25L267.62 166.5L268.12 165.25L269.25 163.88L271.75 162.62L272.75 161.88L275.25 161.38L277.25 160.62L278 160.62L278.25 160.38L280.75 160.12L281 159.88L282.75 159.88L283 159.62L291.5 159.38L291.75 159.62L296.75 159.88L297 160.12L301.25 160.62L301.5 160.88L304.25 161.38L308.5 163.12L310 164.12L311.62 165.75L314.38 171.25L314.38 177L314.12 177.25L314.12 178.75L313.88 179L313.62 180.5L313.38 180.75L313.12 182L312.62 182.75L312.62 183.25L311.12 186L310.38 186.75L309.38 188.5L306.75 191.12L304.5 192.62L303.75 192.88L303.25 193.38L302.75 193.38L302 193.88L301.5 193.88L300.5 194.38L299.75 194.38L298.5 194.88L297.5 194.88Z" fill="#ff3100" fill-rule="evenodd"/>
<path d="M300 191.62L296.5 191.62L296.25 191.38L295.25 191.38L291.75 189.88L288.5 187.62L284.25 183.38L280.75 180.88L279.75 180.38L279.25 180.38L278.5 179.88L278 179.88L277.25 179.38L276.75 179.38L276 178.88L274 178.38L270 176.38L268.62 174.75L268.62 166L269.38 164.5L272 162.62L274.5 161.62L275.25 161.62L277 160.88L279 160.62L279.25 160.38L282.25 160.12L282.5 159.88L285.25 159.88L285.5 159.62L292 159.62L292.25 159.88L294.5 159.88L294.75 160.12L296.25 160.12L296.5 160.38L298 160.38L298.25 160.62L300.5 160.88L300.75 161.12L301.5 161.12L301.75 161.38L302.5 161.38L303.5 161.88L304.75 162.12L307.5 163.62L309.88 166.25L311.62 170L312.12 170.5L313.12 172.5L313.12 177.75L312.88 178L312.62 180L311.38 182.75L311.38 183.25L310.88 183.75L310.12 185.25L307.75 188.12L305.75 189.62L303.25 190.88L301.75 191.12L301.5 191.38L300.25 191.38Z" fill="#ff1800" fill-rule="evenodd"/>
<path d="M300.75 188.38L298 188.38L297.75 188.12L296.25 188.12L296 187.88L295 187.88L294.75 187.62L293.25 187.38L292.5 186.88L292 186.88L289.5 185.62L281.25 179.88L279.25 178.88L278.75 178.88L273 175.88L271.38 174.25L270.88 171.75L270.12 169.75L270.12 169L269.88 168.75L269.62 166L270.38 164.5L272.75 162.62L276.75 161.38L277 161.12L279 160.88L279.25 160.62L280.25 160.62L280.5 160.38L282 160.38L282.25 160.12L284.75 160.12L285 159.88L291.25 159.88L291.5 160.12L294 160.12L294.25 160.38L295.5 160.38L295.75 160.62L297 160.62L297.25 160.88L298.25 160.88L298.5 161.12L299.25 161.12L300.5 161.62L301.25 161.62L305.25 163.62L306.88 165.25L307.88 166.75L310.12 171.5L311.38 173.25L311.38 173.75L311.62 174L311.62 177.5L311.38 177.75L311.38 178.75L311.12 179L310.62 181L308.88 184L305.75 186.88L303.5 187.88L301 188.12Z" fill="#fe0000" fill-rule="evenodd"/>
<path d="M301 185.38L296.5 185.38L296.25 185.12L295 185.12L294.75 184.88L294 184.88L293.75 184.62L293 184.62L292.75 184.38L290.75 183.88L286.75 181.88L286.25 181.38L285.5 181.12L281.25 178.38L278 176.88L277.5 176.38L276 175.62L274.25 174.12L273.62 173.25L271.62 169L271.38 167.75L271.12 167.5L271.12 165.5L271.62 164.5L273.25 162.88L277.25 161.38L279.25 161.12L279.5 160.88L280.5 160.88L280.75 160.62L282.25 160.62L282.5 160.38L285.25 160.38L285.5 160.12L290 160.12L290.25 160.38L293 160.38L293.25 160.62L295.75 160.88L296 161.12L296.75 161.12L297 161.38L297.75 161.38L298.75 161.88L300 162.12L302.75 163.62L304.62 165.5L305.62 167L309.38 174.5L309.38 177.75L309.12 178L308.88 179.5L308.12 181L306.25 183.12L303.75 184.62L303.25 184.62L302.25 185.12L301.25 185.12Z" fill="#e40000" fill-rule="evenodd"/>
<path d="M298.5 182.88L294.5 182.62L294.25 182.38L292.25 182.12L292 181.88L289.25 181.12L283.75 178.38L283.25 177.88L280.75 176.62L280.25 176.12L278 174.88L275.38 172L275.12 171.25L274.62 170.75L273.38 168.5L273.12 167.25L272.88 167L272.88 164.75L273.12 164.25L274.25 163.12L275.25 162.62L275.75 162.62L277 161.88L279.5 161.38L279.75 161.12L283 160.88L283.25 160.62L291 160.62L291.25 160.88L292.75 160.88L293 161.12L294 161.12L294.25 161.38L295 161.38L295.25 161.62L297.25 162.12L300 163.62L302.88 166.5L304.88 170.25L304.88 170.75L306.38 173.75L306.38 174.5L306.62 174.75L306.62 177.25L305.88 179L304.25 180.88L302 182.12L300.5 182.38L300.25 182.62L298.75 182.62Z" fill="#cb0000" fill-rule="evenodd"/>
<path d="M297.5 180.38L294.5 180.38L294.25 180.12L292.75 180.12L292.5 179.88L291.75 179.88L291.5 179.62L290.75 179.62L289.75 179.12L289.25 179.12L283.5 176.38L283 175.88L282.25 175.62L280 174.12L277.88 172L275.88 169.25L274.62 166.5L274.62 164.75L274.88 164.25L276.5 162.88L279.75 161.62L282.5 161.38L282.75 161.12L286.75 161.12L287 160.88L292.75 161.62L293 161.88L295 162.38L297.25 163.62L300.12 166.25L301.62 168.5L301.88 169.5L302.62 170.75L302.62 171.25L303.38 173L303.38 174L303.62 174.25L303.62 175.5L302.88 177.5L301.25 179.12L298.75 180.12L297.75 180.12Z" fill="#b20000" fill-rule="evenodd"/>
<path d="M295.75 177.88L292.75 177.88L292.5 177.62L290.25 177.38L290 177.12L288 176.62L286.75 175.88L286.25 175.88L282.5 173.62L278.88 170L277.38 167.75L276.88 166.5L276.88 165L277.38 164L278.75 162.88L279.25 162.88L280 162.38L280.75 162.38L281 162.12L283.75 161.88L284 161.62L287.75 161.62L288 161.88L289.5 161.88L289.75 162.12L292.25 162.62L294.25 163.62L296 164.88L297.62 166.5L299.12 168.75L299.12 169.25L299.88 170.5L299.88 171.25L300.38 172.5L300.38 174.25L299.25 176.38L297 177.62L296 177.62Z" fill="#990000" fill-rule="evenodd"/>
<path d="M293.75 175.12L291.25 175.12L291 174.88L289 174.62L285.75 173.12L284.25 172.12L281.38 169.5L280.12 167.75L279.62 166.5L279.62 165.25L279.88 164.75L281 163.62L282.25 163.12L283 163.12L283.25 162.88L287.75 162.88L288 163.12L289.75 163.38L292.75 164.88L293.75 165.88L294 165.88L295.38 167.5L295.62 168.25L296.12 168.75L296.12 169.25L296.62 170.25L296.62 173L296.38 173.5L295.5 174.38Z" fill="#800000" fill-rule="evenodd"/>
<path d="M405 168.9L475.5 128.6L535.5 177M405 158.6L475.5 118.3L535.5 166.7M460.93 147.23L460.93 126.63M446.36 155.56L446.36 134.96M431.82 163.87L431.82 143.27M417.25 172.2L417.25 151.6M487.22 148.35L487.22 127.75M498.94 157.81L498.94 137.21M510.66 167.26L510.66 146.66M522.38 176.71L522.38 156.11M534.09 186.17L534.09 165.57M475.5 138.9L475.5 118.3" stroke="#2a2a2a" stroke-width="0.7" stroke-dasharray="0.7 1.5" fill="none"/>
<path d="M405 179.2L475.5 138.9L535.5 187.3L463.5 229Z" fill="#06068f"/>
<path d="M469.5 207.62L467.5 207.62L467.25 207.38L466.5 207.38L464.5 206.62L463 206.38L458.5 204.12L458 203.62L455.75 202.38L453.62 200.25L451.88 197.75L449.38 193.25L449.12 192L448.25 190.38L447.75 190.12L442.75 190.38L442.5 190.12L441.5 190.12L440.5 189.62L439.75 189.62L439.5 189.38L438.25 189.12L437 188.38L436.5 188.38L435.25 187.62L434.75 187.62L433.75 187.12L431.75 185.88L427.38 181.75L425.88 179L425.88 178.25L425.62 178L425.62 173.5L425.88 173.25L425.88 172.25L426.12 172L426.38 170.75L426.88 170L426.88 169.5L428.38 167.25L428.88 166L432 162.62L433.5 161.88L435.5 160.38L438.5 158.88L439 158.38L445.25 155.88L448 155.38L448.25 155.12L449 155.12L450.25 154.62L452.75 154.38L453 154.12L454.5 154.12L454.75 153.88L456.25 153.88L456.5 153.62L459.25 153.62L459.5 153.38L466.75 153.38L467 153.62L469.5 153.62L469.75 153.88L472 153.88L472.25 154.12L474.25 154.12L474.5 154.38L478.25 154.62L479.5 155.12L482.25 155.38L483.25 155.88L484 155.88L484.25 156.12L487.75 157.12L489 157.88L489.5 157.88L491 158.62L492.5 159.62L495.62 162.75L496.88 165L497.38 165.5L497.62 166.5L498.62 168.5L498.62 169.25L498.88 169.5L498.88 175.5L498.62 175.75L498.38 178.75L497.88 180L497.88 181L497.12 182.75L497.12 183.5L496.38 185L496.38 185.5L495.38 187L494.12 189.75L490.38 195.25L487.25 198.38L487 198.38L484 200.88L482 201.88L481.25 202.62L473.25 206.62L472.75 206.62L471 207.38L469.75 207.38Z" fill="#0000b1" fill-rule="evenodd"/>
<path d="M469.75 206.88L467.5 206.88L467.25 206.62L465.5 206.38L464.5 205.88L463.75 205.88L459.5 203.88L459 203.38L457.75 202.88L456 201.62L454.38 200L452.88 198L452.62 197.25L452.12 196.75L451.88 196L451.38 195.5L450.12 193.25L449.88 192L449.12 190.25L448.5 189.62L448 189.38L442.5 189.62L442.25 189.38L441.5 189.38L440.5 188.88L439.75 188.88L439.5 188.62L438.25 188.38L436.5 187.38L436 187.38L433 185.88L430.75 183.88L430.5 183.88L428.12 181.5L427.12 180L426.38 178L426.38 173.25L426.62 173L426.62 172.25L427.38 170.75L427.38 170.25L428.12 168.75L428.62 168.25L429.38 166.5L431.75 163.62L435.75 160.88L438.25 159.62L438.75 159.12L442 157.62L443.25 157.38L444 156.88L445.25 156.62L446.25 156.12L447 156.12L447.25 155.88L448.25 155.88L448.5 155.62L450.25 155.38L450.5 155.12L451.25 155.12L451.5 154.88L453 154.88L453.25 154.62L456.5 154.38L456.75 154.12L459.5 154.12L459.75 153.88L466 153.88L466.25 154.12L469.25 154.12L469.5 154.38L471.75 154.38L472 154.62L474 154.62L474.25 154.88L478 155.12L479.25 155.62L483 156.12L484 156.62L484.75 156.62L485.75 157.12L487 157.38L490.75 159.12L492.5 160.38L494.88 162.75L497.12 166.5L497.12 167L497.62 167.75L497.88 169.25L498.12 169.5L498.12 176L497.88 176.25L497.88 177.75L497.38 179L497.38 179.75L497.12 180L497.12 181L496.38 182.75L496.12 184.25L494.62 187.25L494.12 187.75L492.88 190.5L489.88 194.75L486.75 197.88L485.5 198.62L484.5 199.62L482.25 200.88L480.25 202.38L473.25 205.88L472.75 205.88L471 206.62L470 206.62Z" fill="#0000e5" fill-rule="evenodd"/>
<path d="M469.75 206.38L467.5 206.38L466.25 205.88L465.5 205.88L464.5 205.38L463.75 205.38L462.5 204.62L462 204.62L460.5 203.88L460 203.38L458.75 202.88L458.25 202.38L456.75 201.62L453.62 198.25L452.12 195.5L451.62 195L450.38 192.5L450.12 191.25L449.38 189.75L448.25 188.88L442.5 189.12L442.25 188.88L441.5 188.88L441.25 188.62L439.75 188.38L438.25 187.62L437.75 187.62L436 186.62L435.5 186.62L433.5 185.62L432.75 184.88L431.5 184.12L428.12 180.75L426.88 178L426.88 173.25L427.12 173L427.12 172.25L427.88 170.75L427.88 170.25L428.88 168.75L429.88 166.5L433 163.12L433.75 162.88L435.25 161.62L437.25 160.62L438.5 159.62L441 158.38L443.5 157.62L444.25 157.12L444.75 157.12L446.5 156.38L447.5 156.38L447.75 156.12L450.5 155.62L450.75 155.38L453.25 155.12L453.5 154.88L455 154.88L455.25 154.62L457.5 154.62L457.75 154.38L468.5 154.38L468.75 154.62L471.25 154.62L471.5 154.88L473.5 154.88L473.75 155.12L477.75 155.38L478 155.62L480 155.88L480.25 156.12L482.75 156.38L484.5 157.12L485.25 157.12L485.5 157.38L486.75 157.62L490.5 159.38L492 160.38L494.62 163L494.88 163.75L495.88 165L496.62 166.5L496.62 167L497.38 168.5L497.62 171L497.88 171.25L497.88 173.5L497.62 173.75L497.62 176.25L497.38 176.5L497.38 177.75L496.88 179L496.62 181L495.88 182.75L495.88 183.5L492.62 190L490.38 193L489.88 194L487.88 196L487.88 196.25L484 199.38L481.75 200.62L480.5 201.62L479.75 201.88L479.25 202.38L475.75 203.88L474.25 204.88L473.75 204.88L472.5 205.62L472 205.62L471 206.12L470 206.12Z" fill="#001bff" fill-rule="evenodd"/>
<path d="M470.25 205.88L467.25 205.88L467 205.62L466.25 205.62L466 205.38L465.25 205.38L465 205.12L463 204.62L458.25 202.12L456.5 200.88L455.12 199.5L455.12 199.25L453.62 197.5L453.38 196.75L452.88 196.25L452.62 195.5L451.12 193.25L450.62 191.25L449.88 189.75L448.75 188.62L448.25 188.62L448 188.38L446.25 188.38L446 188.62L444.25 188.62L443.75 188.88L443.5 188.62L442.25 188.62L442 188.38L441.25 188.38L440.25 187.88L438.25 187.38L433.5 185.12L431 182.88L430.75 182.88L428.88 181L427.62 179L427.38 177.5L427.12 177.25L427.12 174.25L427.38 174L427.38 173L427.62 172.75L427.62 172L428.12 171.25L428.12 170.75L429.12 168.75L429.62 168.25L429.62 167.75L430.12 166.75L433.25 163.38L435 162.38L435.75 161.62L439 159.88L439.5 159.38L442.25 158.12L443.5 157.88L444.25 157.38L444.75 157.38L446.5 156.62L447.5 156.62L447.75 156.38L451.5 155.62L451.75 155.38L453.25 155.38L453.5 155.12L454.75 155.12L455 154.88L457.25 154.88L457.5 154.62L468.5 154.62L468.75 154.88L471.25 154.88L471.5 155.12L473.5 155.12L473.75 155.38L477.75 155.62L479 156.12L481.5 156.38L481.75 156.62L482.5 156.62L484.5 157.38L486 157.62L486.75 158.12L487.25 158.12L490.5 159.62L494.38 163.25L496.12 166.25L496.12 166.75L496.62 167.5L496.62 168L497.12 169L497.12 170L497.38 170.25L497.38 174.75L497.12 175L497.12 177L496.88 177.25L496.88 178L496.38 179.25L496.38 180.25L496.12 180.5L496.12 181.25L495.62 182.25L495.38 183.75L493.62 187.25L493.12 187.75L492.12 190L489.12 194.25L486.25 197.12L485 197.88L484 198.88L481.75 200.12L479.75 201.62L476.75 203.12L476.25 203.12L475.75 203.62L473.25 204.88L472.75 204.88L472 205.38L470.5 205.62Z" fill="#004fff" fill-rule="evenodd"/>
<path d="M469.25 205.62L467.75 205.62L467.5 205.38L466.75 205.38L465.75 204.88L465 204.88L464.75 204.62L463.5 204.38L459.5 202.38L456.25 200.12L453.62 196.75L451.38 192.75L451.12 191.5L450.62 190.75L450.38 189.75L449 188.38L448.5 188.12L447.5 188.12L447.25 187.88L447 188.12L445.25 188.12L445 188.38L443 188.38L442.75 188.12L441.75 188.12L441.5 187.88L438.75 187.12L438 186.62L437.5 186.62L435.75 185.62L435.25 185.62L434.25 185.12L432.5 183.88L429.38 181L428.62 180L427.62 177.75L427.62 173.75L427.88 173.5L427.88 172.5L428.38 171.75L428.88 170L429.38 169.5L430.62 166.75L432.75 164.12L439.5 159.62L442.25 158.38L442.75 158.38L443.5 157.88L444.75 157.62L445.5 157.12L448.25 156.62L448.5 156.38L449.25 156.38L450.5 155.88L452.75 155.62L453 155.38L454.5 155.38L454.75 155.12L456.25 155.12L456.5 154.88L459.5 154.88L459.75 154.62L466.25 154.62L466.5 154.88L469 154.88L469.25 155.12L471.75 155.12L472 155.38L473.75 155.38L474 155.62L476 155.62L476.25 155.88L477.75 155.88L479 156.38L480 156.38L480.25 156.62L481.75 156.62L482 156.88L482.75 156.88L483.75 157.38L484.5 157.38L485.5 157.88L486.75 158.12L488 158.88L488.5 158.88L490 159.62L491.75 160.88L493.88 163L495.62 166L495.62 166.5L496.12 167.25L496.12 167.75L496.62 168.75L496.62 169.5L496.88 169.75L496.88 175.75L496.62 176L496.62 177.5L496.12 178.75L496.12 179.75L495.88 180L495.88 180.75L495.38 181.75L495.38 182.5L495.12 182.75L494.88 184L493.88 186L493.38 186.5L492.12 189.25L489.62 193L488.12 194.5L488.12 194.75L486.25 196.62L485 197.38L484 198.38L481.75 199.88L481 200.12L479.75 201.12L472.25 204.88L470.75 205.12L470.5 205.38L469.5 205.38Z" fill="#0084ff" fill-rule="evenodd"/>
<path d="M470 205.12L467.5 205.12L467.25 204.88L466.5 204.88L466.25 204.62L465.5 204.62L465.25 204.38L463.25 203.88L457.5 200.62L455.12 198.25L453.62 196L452.38 193.5L451.88 193L451.62 191.75L451.12 191L451.12 190.5L450.62 189.5L450.12 188.75L449 187.88L448.5 187.88L448.25 187.62L442.5 187.88L442.25 187.62L441.5 187.62L439 186.62L438.5 186.62L433.5 184.12L429.12 180L428.38 178.75L428.12 177.25L427.88 177L427.88 174.75L428.12 174.5L428.38 172.25L431.12 166.5L433.5 163.88L439.5 159.88L442.75 158.38L444 158.12L444.75 157.62L445.25 157.62L446.25 157.12L447 157.12L447.25 156.88L448 156.88L448.25 156.62L449 156.62L449.25 156.38L450 156.38L450.25 156.12L452.5 155.88L452.75 155.62L454.25 155.62L454.5 155.38L455.75 155.38L456 155.12L458.75 155.12L459 154.88L467.25 154.88L467.5 155.12L470 155.12L470.25 155.38L474.25 155.62L474.5 155.88L476.5 155.88L476.75 156.12L479 156.38L479.25 156.62L482 156.88L482.25 157.12L483.75 157.38L484.75 157.88L486.75 158.38L487.5 158.88L488 158.88L490.75 160.38L492.88 162.25L494.88 165.25L496.12 168.25L496.38 170.25L496.62 170.5L496.62 174.5L496.38 174.75L496.38 176.75L496.12 177L496.12 178L495.88 178.25L495.12 182L494.88 182.25L494.62 183.5L492.62 187.5L492.12 188L491.38 189.75L489.88 192L486.25 196.12L485 196.88L483 198.62L481.5 199.38L479 201.12L476.5 202.38L476 202.38L473 204.12L472.5 204.12L471.75 204.62L470.25 204.88Z" fill="#00b9ff" fill-rule="evenodd"/>
<path d="M468.75 204.88L467 204.62L466 204.12L465.25 204.12L465 203.88L463.75 203.62L460.25 201.88L459.75 201.38L457.5 200.12L455.88 198.5L454.12 196L453.88 195.25L453.38 194.75L452.12 192.5L452.12 192L451.12 189.5L449.75 187.88L448 187.12L443.25 187.62L443 187.38L441.25 187.12L440.25 186.62L439 186.38L437.75 185.62L437.25 185.62L436 184.88L435.5 184.88L433.5 183.62L429.62 180L428.38 177.5L428.38 174L428.62 173.75L428.62 173L429.12 172L429.12 171.5L430.88 168.25L431.12 167.25L432.12 165.75L433.75 164.12L439 160.38L442 158.88L444.5 158.12L445.25 157.62L447.75 157.12L448 156.88L448.75 156.88L449 156.62L449.75 156.62L450 156.38L450.75 156.38L451 156.12L452 156.12L452.25 155.88L453.75 155.88L454 155.62L455.25 155.62L455.5 155.38L458 155.38L458.25 155.12L467.75 155.12L468 155.38L470.5 155.38L470.75 155.62L472.75 155.62L473 155.88L477 156.12L477.25 156.38L479.25 156.62L479.5 156.88L482 157.12L482.25 157.38L483 157.38L484 157.88L484.75 157.88L485.75 158.38L486.25 158.38L490 160.12L493.38 163.25L494.88 166L494.88 166.5L495.38 167.25L495.38 167.75L495.88 168.75L495.88 169.5L496.12 169.75L496.12 175.5L495.88 175.75L495.88 177.25L495.38 178.5L495.38 179.5L495.12 179.75L495.12 180.5L494.62 181.5L494.62 182.25L494.38 182.5L494.12 183.75L493.12 185.75L492.62 186.25L491.38 189L488.62 193L486.62 195L486.62 195.25L483 198.12L481.5 198.88L479.5 200.38L472.5 203.88L472 203.88L471.25 204.38L470.5 204.38L470.25 204.62L469 204.62Z" fill="#00edff" fill-rule="evenodd"/>
<path d="M469.5 204.38L468 204.38L467.75 204.12L467 204.12L466.75 203.88L464.25 203.38L458.25 200.12L455.12 196.75L452.38 192L451.62 189.5L449.75 187.38L448.75 186.88L443 187.12L442.75 186.88L442 186.88L441.75 186.62L441 186.62L440.75 186.38L439.5 186.12L438.25 185.38L437.75 185.38L436.5 184.62L436 184.62L435 184.12L433.25 182.88L430.38 180.25L430.38 180L429.62 179.25L428.88 177.5L428.88 173.5L429.12 173.25L429.38 172L431.12 168.75L431.12 168.25L431.88 166.75L434.25 164.12L439 160.62L440.25 160.12L441.25 159.38L441.75 159.38L443.75 158.38L445 158.12L445.75 157.62L446.5 157.62L446.75 157.38L450.5 156.62L450.75 156.38L453.25 156.12L453.5 155.88L454.75 155.88L455 155.62L456.75 155.62L457 155.38L468.25 155.38L468.5 155.62L473.25 155.88L473.5 156.12L477.25 156.38L477.5 156.62L478.5 156.62L479.75 157.12L481.25 157.12L481.5 157.38L483.25 157.62L483.5 157.88L487 158.88L490 160.38L492.62 162.75L494.38 165.75L494.38 166.25L494.88 167L494.88 167.5L495.38 168.5L495.62 170.5L495.88 170.75L495.88 174L495.62 174.25L495.62 176.5L495.38 176.75L495.38 177.75L495.12 178L494.38 181.75L494.12 182L493.88 183.25L492.38 186.25L491.88 186.75L490.88 189L487.88 193.25L485.25 195.88L484 196.62L483 197.62L481.5 198.38L479 200.12L472 203.62L471.5 203.62L470.5 204.12L469.75 204.12Z" fill="#23ffdc" fill-rule="evenodd"/>
<path d="M469.5 203.88L467.75 203.88L467.5 203.62L466.75 203.62L466.5 203.38L465.75 203.38L465.5 203.12L464.25 202.88L460.75 201.12L460.25 200.62L458 199.38L456.62 198L454.88 195.5L454.62 194.75L454.12 194.25L452.88 192L452.88 191.5L451.88 189L450.25 187.12L448.75 186.38L442.75 186.62L442.5 186.38L441.75 186.38L440.75 185.88L439.5 185.62L436 183.88L435.5 183.88L434 182.88L430.38 179.5L429.62 178.25L429.38 176.5L429.12 176.25L429.38 173.5L429.62 173.25L429.88 172L431.38 169.25L431.38 168.75L432.38 166.75L434.75 164.12L440.25 160.12L443 158.88L443.5 158.88L444.25 158.38L444.75 158.38L446.5 157.62L447.25 157.62L447.5 157.38L451.25 156.62L451.5 156.38L454.5 156.12L454.75 155.88L456 155.88L456.25 155.62L459 155.62L459.25 155.38L466.75 155.38L467 155.62L469.25 155.62L469.5 155.88L471.75 155.88L472 156.12L475.75 156.38L476 156.62L478.75 156.88L480 157.38L481.5 157.38L481.75 157.62L482.5 157.62L483.5 158.12L484.25 158.12L484.5 158.38L485.75 158.62L489.5 160.38L492.62 163.25L494.38 166.75L494.62 168.25L495.12 169.25L495.12 170.25L495.38 170.5L495.38 174.75L495.12 175L494.88 178L494.62 178.25L494.12 181L493.62 182L493.62 182.75L491.88 186.25L491.38 186.75L490.38 189L488.62 191.25L488.12 192.25L486.12 194.25L486.12 194.5L482.5 197.38L481 198.12L479 199.62L472 203.12L471.5 203.12L470.5 203.62L469.75 203.62Z" fill="#57ffa8" fill-rule="evenodd"/>
<path d="M469.5 203.38L468 203.38L467.75 203.12L465 202.62L460.5 200.38L460 199.88L458.5 199.12L456.12 196.5L454.62 193.75L454.12 193.25L452.12 188.5L451.38 187.5L450 186.38L448.75 185.88L442.75 186.12L441.75 185.62L440.25 185.38L435.25 183.12L433.5 181.88L430.62 179L429.88 177.5L429.88 176.25L429.62 176L430.12 172.75L430.62 172L430.62 171.5L431.12 170.5L431.62 170L432.12 168.25L433.62 165.75L436.75 162.88L440.25 160.38L445.5 158.12L448 157.62L448.25 157.38L449 157.38L449.25 157.12L450 157.12L450.25 156.88L451 156.88L451.25 156.62L452.25 156.62L452.5 156.38L454 156.38L454.25 156.12L455.5 156.12L455.75 155.88L458.25 155.88L458.5 155.62L467.25 155.62L467.5 155.88L470 155.88L470.25 156.12L472.25 156.12L472.5 156.38L476.25 156.62L476.5 156.88L478.75 157.12L479 157.38L481.75 157.62L482.75 158.12L483.5 158.12L483.75 158.38L486.5 159.12L489.5 160.62L491.62 162.5L492.88 164.25L492.88 164.75L493.38 165.5L493.38 166L493.88 166.75L493.88 167.25L494.38 168.25L494.62 170L494.88 170.25L494.88 175L494.62 175.25L494.62 177L494.38 177.25L494.38 178L494.12 178.25L494.12 179L493.88 179.25L493.88 180L493.62 180.25L493.12 182.75L491.62 185.75L491.12 186.25L490.12 188.5L488.62 190.75L485 194.88L483.75 195.62L482.75 196.62L480.5 197.88L479.25 198.88L478.5 199.12L478 199.62L476.5 200.38L476 200.38L471.25 202.88L469.75 203.12Z" fill="#8cff73" fill-rule="evenodd"/>
<path d="M469 202.88L467.25 202.62L467 202.38L466.25 202.38L465.25 201.88L464.75 201.88L460.75 199.88L458.5 198.38L456.62 196.25L455.12 193.5L454.62 193L452.62 188.25L452.12 187.5L450.25 185.88L449 185.38L445.25 185.38L445 185.62L443.25 185.62L441.25 184.88L440.5 184.88L439.25 184.12L438.75 184.12L437.5 183.38L437 183.38L436 182.88L433.25 180.88L431.38 179L430.38 177L430.38 173.75L430.62 173.5L430.62 173L431.38 171.75L431.38 171.25L432.12 170.25L432.12 169.75L433.38 167L437.25 162.88L440.75 160.38L443.5 159.12L444 159.12L444.75 158.62L445.25 158.62L446 158.12L446.75 158.12L447 157.88L447.75 157.88L448 157.62L448.75 157.62L449 157.38L451.75 156.88L452 156.62L453.5 156.62L453.75 156.38L455 156.38L455.25 156.12L457.5 156.12L457.75 155.88L467.75 155.88L468 156.12L470.5 156.12L470.75 156.38L474.5 156.62L474.75 156.88L476.5 156.88L476.75 157.12L479 157.38L479.25 157.62L481.75 157.88L482 158.12L482.75 158.12L485.25 159.12L486.5 159.38L489 160.62L491.38 162.75L492.62 164.75L492.62 165.25L493.88 168.5L494.12 170.25L494.38 170.5L494.38 174.75L494.12 175L493.88 178L493.62 178.25L493.62 179L493.38 179.25L493.38 180L492.88 181L492.62 182.5L489.62 188.25L487.38 191.5L485.62 193.25L485.62 193.5L481.75 196.62L480.25 197.38L479 198.38L471 202.38L469.25 202.62Z" fill="#c1ff3e" fill-rule="evenodd"/>
<path d="M469.25 202.12L468 202.12L467.75 201.88L465.25 201.38L459.25 198.12L457.12 195.75L455.62 193L455.12 192.5L453.12 187.75L450.25 185.12L448.5 184.88L448.25 184.62L442.75 184.88L441.75 184.38L440.5 184.12L439.75 183.62L439.25 183.62L437.5 182.62L437 182.62L436 182.12L434.25 180.88L431.62 178.25L431.12 177.25L430.88 174.75L431.12 174.5L431.12 173.75L431.88 172.25L431.88 171.75L432.88 170.25L433.12 169L434.12 167L435.12 166L435.12 165.75L439.75 161.38L441.25 160.38L442.25 159.88L442.75 159.88L444 159.12L444.5 159.12L445.25 158.62L446.5 158.38L446.75 158.12L447.5 158.12L447.75 157.88L448.5 157.88L448.75 157.62L449.5 157.62L449.75 157.38L450.5 157.38L450.75 157.12L451.5 157.12L451.75 156.88L454.75 156.62L455 156.38L456.5 156.38L456.75 156.12L463 155.88L463.25 156.12L468 156.12L468.25 156.38L470.75 156.38L471 156.62L472.75 156.62L473 156.88L476.75 157.12L477 157.38L478 157.38L479.25 157.88L481.75 158.12L482.75 158.62L483.5 158.62L484.5 159.12L485.75 159.38L488.75 160.88L489.5 161.38L491.38 163.5L492.12 165L492.12 165.5L493.12 168L493.38 169.75L493.62 170L493.88 173.75L493.62 174L493.62 176.25L493.38 176.5L493.38 177.5L492.88 178.75L492.62 180.5L492.12 181.5L492.12 182.25L490.88 184.75L490.38 185.25L489.38 187.5L486.38 191.75L484 194.12L482.75 194.88L481.75 195.88L479.75 196.88L477.25 198.62L476.25 198.88L471 201.62L469.5 201.88Z" fill="#f5ff0a" fill-rule="evenodd"/>
<path d="M470 201.12L467.25 201.12L465.5 200.38L465 200.38L460 197.62L458.12 195.75L457.12 194.25L456.88 193.5L456.38 193L455.12 190.75L455.12 190.25L453.88 187.5L453.12 186.5L451.25 184.88L448.5 183.88L443.25 184.12L443 183.88L442.25 183.88L442 183.62L440.75 183.38L435.25 180.62L432.38 177.75L431.88 176.75L431.88 174L432.62 172.5L432.62 172L433.62 170.5L433.62 170L434.12 169.25L434.12 168.75L434.62 167.75L436.12 166L436.62 165L441 160.88L446 158.62L448.5 158.12L448.75 157.88L449.5 157.88L449.75 157.62L450.5 157.62L450.75 157.38L451.5 157.38L451.75 157.12L452.75 157.12L453 156.88L454.5 156.88L454.75 156.62L456 156.62L456.25 156.38L459 156.38L459.25 156.12L465.25 156.12L465.5 156.38L468.25 156.38L468.5 156.62L470.75 156.62L471 156.88L472.75 156.88L473 157.12L476.5 157.38L476.75 157.62L477.75 157.62L479 158.12L480.25 158.12L480.5 158.38L482.5 158.62L483.5 159.12L485.5 159.62L488 160.88L490.38 163L491.38 164.75L491.62 166.25L492.38 168.25L492.38 169L492.88 170L492.88 171L493.12 171.25L493.12 174.5L492.88 174.75L492.62 177.75L492.38 178L492.38 178.75L492.12 179L492.12 179.75L491.62 180.75L491.38 182.25L490.38 184.25L489.88 184.75L489.38 186L488.88 186.5L488.38 187.75L487.38 189.25L484 193.12L483.75 193.12L481.75 194.88L479.5 196.12L478.25 197.12Z" fill="#ffd400" fill-rule="evenodd"/>
<path d="M469.5 200.12L467.75 200.12L467.5 199.88L466.75 199.88L462.5 197.88L462 197.38L460.5 196.62L458.38 194.25L458.12 193.5L456.12 190.5L456.12 190L454.88 187.25L454.12 186.25L451.5 183.88L449.5 183.12L448.5 183.12L448.25 182.88L443.5 183.12L443.25 182.88L441.75 182.62L436.75 180.38L433.12 177L433.12 176.5L432.88 176.25L432.88 174.25L435.62 168.25L438.62 163.75L441 161.38L446 158.88L448.5 158.38L448.75 158.12L449.5 158.12L449.75 157.88L450.5 157.88L450.75 157.62L451.5 157.62L451.75 157.38L454.5 157.12L454.75 156.88L456 156.88L456.25 156.62L459 156.62L459.25 156.38L465.25 156.38L465.5 156.62L468 156.62L468.25 156.88L470.5 156.88L470.75 157.12L472.5 157.12L472.75 157.38L476 157.62L476.25 157.88L477.5 157.88L478.75 158.38L479.75 158.38L480 158.62L482 158.88L482.25 159.12L485 159.88L487 160.88L489.12 162.5L490.38 164.5L490.38 165L490.88 166L490.88 166.75L491.12 167L491.12 167.75L491.38 168L491.38 168.75L491.62 169L491.62 169.75L492.12 170.75L492.12 175.75L491.88 176L491.88 177.25L491.62 177.5L491.62 178.25L491.38 178.5L491.38 179.25L491.12 179.5L491.12 180.25L490.88 180.5L490.62 181.75L489.38 184.25L488.88 184.75L488.38 186L487.88 186.5L486.62 188.75L482.75 192.88L477.5 196.38Z" fill="#ffa000" fill-rule="evenodd"/>
<path d="M469.25 198.38L467.75 198.38L467.5 198.12L466.25 197.88L461.25 195.12L458.38 191.25L455.88 186.25L452.25 182.88L450.5 182.12L448.75 181.88L448.5 181.62L443.75 181.62L443.5 181.38L442.75 181.38L439.25 179.62L438.75 179.62L437.75 179.12L434.62 176.25L434.62 175.5L434.38 175.25L434.62 175L434.88 173.25L436.62 169.75L437.12 169.25L438.62 166.25L438.62 165.75L439.12 164.75L440.62 162.5L442.25 161.12L446.25 159.12L448.75 158.62L450.75 157.88L451.5 157.88L451.75 157.62L454.5 157.38L454.75 157.12L456 157.12L456.25 156.88L463.25 156.62L463.5 156.88L467.5 156.88L467.75 157.12L470 157.12L470.25 157.38L471.75 157.38L472 157.62L475 157.88L475.25 158.12L476.75 158.12L477 158.38L478.75 158.62L479 158.88L481.25 159.12L481.5 159.38L483.5 159.88L484.75 160.62L485.25 160.62L486.75 161.62L488.38 163.25L489.62 166.25L490.12 169L490.38 169.25L490.38 169.75L490.88 170.75L490.88 171.75L491.12 172L491.12 174.5L490.88 174.75L490.62 177.75L490.38 178L490.38 178.75L489.88 179.75L489.62 181.25L488.62 183.25L488.12 183.75L486.88 186.25L485.62 188L482.5 191.38L477.5 194.62Z" fill="#ff6b00" fill-rule="evenodd"/>
<path d="M469.25 196.38L467.75 196.38L467.5 196.12L467 196.12L463 194.12L461.12 192.25L459.62 190.25L458.88 188.75L458.38 188.25L457.62 186.5L456.38 185.25L456.38 185L454.75 183.38L454.5 183.38L452.75 181.88L450.25 180.88L449.5 180.88L448.25 180.38L447 180.38L446.75 180.12L443.75 180.12L443.5 179.88L443 179.88L438.5 177.62L436.62 176L436.38 175.5L436.38 173.75L436.62 173.5L436.62 173L437.12 172.25L437.38 171.25L438.88 169L440.12 164.75L441.38 162.5L442.25 161.62L446.25 159.38L447.5 159.12L447.75 158.88L448.5 158.88L448.75 158.62L449.5 158.62L449.75 158.38L450.5 158.38L451.5 157.88L454.25 157.62L454.5 157.38L455.75 157.38L456 157.12L458.75 157.12L459 156.88L464.75 156.88L465 157.12L467.75 157.12L468 157.38L470 157.38L470.25 157.62L471.5 157.62L471.75 157.88L473.25 157.88L473.5 158.12L474.75 158.12L475 158.38L477.5 158.62L479.5 159.38L480.5 159.38L480.75 159.62L482.75 160.12L484.75 161.12L486.88 163L488.12 165.25L488.12 166L488.38 166.25L488.62 167.5L488.88 167.75L488.88 168.5L489.88 171L489.88 171.75L490.12 172L490.12 175L489.88 175.25L489.62 178L489.12 179L488.88 180.5L487.62 183L484.88 187.25L480.75 191.12L477.25 192.88L475.75 193.88L475.25 193.88L474.5 194.38L472 195.12Z" fill="#ff4a00" fill-rule="evenodd"/>
<path d="M469.25 193.38L468.25 193.38L467.25 192.88L466.75 192.88L465.5 192.12L465 192.12L463.5 191.12L460.38 188L458.5 185.38L455 182.12L453.5 181.12L451.5 180.12L451 180.12L448.5 179.12L446.5 178.88L446.25 178.62L445 178.62L444 178.12L443.5 178.12L442.5 177.38L441.25 176.88L440.75 176.38L440 176.12L438.88 175L438.62 174.5L438.62 173.25L440.38 169.25L441.12 164.25L441.88 162.75L443.25 161.38L446.25 159.62L446.75 159.62L448.5 158.88L450.25 158.62L451.25 158.12L452.25 158.12L452.5 157.88L453.75 157.88L454 157.62L455.25 157.62L455.5 157.38L457.75 157.38L458 157.12L466 157.12L466.25 157.38L468 157.38L468.25 157.62L470 157.62L470.25 157.88L473 158.12L473.25 158.38L474.5 158.38L474.75 158.62L475.75 158.62L476 158.88L478 159.12L479.75 159.88L480.5 159.88L482 160.62L482.5 160.62L483 161.12L483.75 161.38L485.62 163.25L485.88 164L486.62 165L486.62 165.5L487.12 166.25L487.88 169L488.38 169.75L488.62 171L489.12 172L489.12 175.5L488.88 175.75L488.88 177L488.62 177.25L488.38 179L487.38 181.5L484.62 185.75L481.5 188.88L480 189.88L477.5 191.12L477 191.12L476.25 191.62L475.75 191.62L474 192.38L472 192.62L471.75 192.88L470.75 192.88L470.5 193.12L469.5 193.12Z" fill="#ff3100" fill-rule="evenodd"/>
<path d="M475.5 188.88L469.75 188.88L469.5 188.62L468.5 188.62L468.25 188.38L467.5 188.38L466.5 187.88L466 187.88L462.25 185.88L459.75 183.88L457.75 182.62L456.75 181.62L454.5 180.38L453.25 179.38L452.25 179.12L451.5 178.62L451 178.62L447.5 176.88L445.75 176.38L444 175.38L442.62 174L442.12 173L442.12 164L442.88 162.5L445 160.62L447 159.62L447.5 159.62L448.5 159.12L449.25 159.12L450.25 158.62L452 158.38L452.25 158.12L455 157.88L455.25 157.62L456.5 157.62L456.75 157.38L466.25 157.38L466.5 157.62L468 157.62L468.25 157.88L470 157.88L470.25 158.12L471.25 158.12L471.5 158.38L472.75 158.38L473 158.62L474 158.62L475.25 159.12L476.25 159.12L477.25 159.62L479.25 160.12L480 160.62L481 160.88L482.75 162.12L483.88 163.5L485.62 167L485.62 167.5L486.88 169.75L486.88 170.25L487.38 171L487.38 171.5L487.88 172.5L487.88 175.25L487.62 175.5L487.62 176.75L487.38 177L487.12 178.75L486.62 179.5L486.62 180L486.12 181L485.12 182.5L482.25 185.88L480.5 187.12L478.5 188.12L477 188.38L476.75 188.62L475.75 188.62Z" fill="#ff1800" fill-rule="evenodd"/>
<path d="M476.5 185.38L470.75 185.38L470.5 185.12L468 184.88L467.75 184.62L467 184.62L466.75 184.38L464.75 183.88L461.75 182.38L461.25 182.38L460.75 181.88L459 181.12L454.75 178.38L451.5 176.88L451 176.38L449.75 175.88L449.25 175.38L447.75 174.62L445.88 173L444.38 170L444.38 169.25L443.88 168.25L443.62 166.25L443.38 166L443.38 163.5L443.88 162.5L446.25 160.38L450.25 158.88L451 158.88L451.25 158.62L453 158.38L453.25 158.12L456.25 157.88L456.5 157.62L460 157.62L460.25 157.38L460.75 157.62L466 157.62L466.25 157.88L467.75 157.88L468 158.12L469.25 158.12L469.5 158.38L470.75 158.38L471 158.62L473 158.88L475 159.62L476.5 159.88L479.25 161.38L480.88 162.75L482.12 164.5L483.38 167L483.38 167.5L485.62 171.5L486.12 174.25L485.88 174.5L485.88 176.25L485.62 176.5L485.38 178L484.88 178.75L484.88 179.25L483.88 180.75L481 183.62L478.5 184.88L476.75 185.12Z" fill="#fe0000" fill-rule="evenodd"/>
<path d="M475.25 182.38L469.75 182.38L469.5 182.12L468.25 182.12L468 181.88L466 181.62L463.5 180.62L462.25 180.38L460.5 179.38L460 179.38L458.5 178.62L458 178.12L456.25 177.38L455.75 176.88L452.75 175.38L450.5 173.88L448.38 172L446.62 169.5L445.88 168L445.88 167.5L445.38 166.75L445.38 166.25L444.88 165.25L444.88 163L445.38 162L447.25 160.38L448.25 160.12L449 159.62L449.5 159.62L451.25 158.88L452 158.88L452.25 158.62L454.75 158.38L455 158.12L456.25 158.12L456.5 157.88L465 157.88L465.25 158.12L467 158.12L467.25 158.38L468.25 158.38L468.5 158.62L469.5 158.62L469.75 158.88L470.75 158.88L471.75 159.38L472.5 159.38L476 160.88L478.62 163.25L479.88 165L483.12 171.75L483.12 172.25L483.38 172.5L483.38 175.25L483.12 175.5L483.12 176.25L482.62 177.5L481.62 179L480.5 180.12L478 181.62L477.5 181.62L476.5 182.12L475.5 182.12Z" fill="#e40000" fill-rule="evenodd"/>
<path d="M472.25 179.88L467.75 179.62L467.5 179.38L466.5 179.38L466.25 179.12L464.5 178.88L462 177.88L461.5 177.88L460.25 177.12L459.75 177.12L453.5 173.62L449.38 169.75L448.12 168L447.62 166.75L447.12 166.25L447.12 165.75L446.62 165L446.62 164.25L446.38 164L446.38 163.25L446.62 163L446.88 161.75L447.75 160.88L451 159.38L452.5 159.12L452.75 158.88L453.75 158.88L454 158.62L455.25 158.62L455.5 158.38L457.5 158.38L457.75 158.12L463 158.12L463.25 158.38L467 158.62L467.25 158.88L470 159.38L474 161.38L476.62 164L477.62 165.5L479.88 170.5L480.12 172.25L480.38 172.5L480.38 173.75L480.12 174L480.12 174.75L479.62 176L478.25 177.62L475.75 179.12L474.25 179.38L474 179.62L472.5 179.62Z" fill="#cb0000" fill-rule="evenodd"/>
<path d="M471 177.38L467.75 177.38L467.5 177.12L466 177.12L465.75 176.88L464 176.62L463.75 176.38L461.75 175.88L461 175.38L460.5 175.38L455 172.38L450.88 168.5L449.12 166L448.38 164.25L448.38 162.25L448.62 161.75L449.5 160.88L450.25 160.62L450.75 160.12L451.25 160.12L452 159.62L453.5 159.38L453.75 159.12L455 159.12L455.25 158.88L456.25 158.88L456.5 158.62L463 158.62L463.25 158.88L466.25 159.12L467.25 159.62L468.5 159.88L472 161.88L473.88 163.75L475.88 167L475.88 167.5L476.38 168.25L476.62 169.5L476.88 169.75L476.88 170.5L477.12 170.75L477.12 172.75L476.38 174.5L474.75 176.12L472.25 177.12L471.25 177.12Z" fill="#b20000" fill-rule="evenodd"/>
<path d="M469.25 174.88L466 174.88L465.75 174.62L464.75 174.62L464.5 174.38L462.75 174.12L461.25 173.38L460.75 173.38L457 171.38L454 168.88L451.38 165.75L450.62 164L450.62 162.25L450.88 161.75L452.5 160.38L453.75 159.88L454.5 159.88L455.75 159.38L461 159.12L461.25 159.38L463 159.38L463.25 159.62L464.25 159.62L465.25 160.12L466 160.12L469.5 162.12L471.62 164.25L473.38 167.5L473.62 169.25L473.88 169.5L473.88 171.25L472.75 173.38L470.5 174.62L469.5 174.62Z" fill="#990000" fill-rule="evenodd"/>
<path d="M467.25 172.12L464.5 172.12L464.25 171.88L461.75 171.38L458.75 169.88L457 168.62L454.62 166.25L453.62 164.75L453.62 164.25L453.38 164L453.38 162.5L453.88 161.75L455.75 160.62L460 160.12L460.25 160.38L461.75 160.38L462 160.62L462.75 160.62L463 160.88L464.25 161.12L467.25 162.88L469.12 165L470.12 167L470.12 168.25L470.38 168.5L469.88 170.5L469 171.38Z" fill="#800000" fill-rule="evenodd"/>
<circle cx="443.2" cy="193.2" r="1.8" fill="none" stroke="#1030ff" stroke-width="1"/>
<circle cx="268.6" cy="195.9" r="1.7" fill="none" stroke="#0c22d8" stroke-width="0.9" opacity="0.6"/>
<path d="M52.3 157.5V178.6M52.3 157.5h1.6M52.3 168h1.6M52.3 178.6h1.6" stroke="#222" stroke-width="0.7" fill="none"/>
<text x="49.4" y="160.8" font-size="10" font-family="Liberation Serif, serif" text-anchor="end" stroke="#000" stroke-width="0.3">20</text>
<text x="49.4" y="171.3" font-size="10" font-family="Liberation Serif, serif" text-anchor="end" stroke="#000" stroke-width="0.3">10</text>
<text x="49.4" y="181.9" font-size="10" font-family="Liberation Serif, serif" text-anchor="end" stroke="#000" stroke-width="0.3">0</text>
<path d="M232.4 160.2V180.8M232.4 160.2h1.6M232.4 170.5h1.6M232.4 180.8h1.6" stroke="#222" stroke-width="0.7" fill="none"/>
<text x="229.5" y="163.5" font-size="10" font-family="Liberation Serif, serif" text-anchor="end" stroke="#000" stroke-width="0.3">20</text>
<text x="229.5" y="173.8" font-size="10" font-family="Liberation Serif, serif" text-anchor="end" stroke="#000" stroke-width="0.3">10</text>
<text x="229.5" y="184.1" font-size="10" font-family="Liberation Serif, serif" text-anchor="end" stroke="#000" stroke-width="0.3">0</text>
<path d="M404.9 158.4V179.2M404.9 158.4h1.6M404.9 168.8h1.6M404.9 179.2h1.6" stroke="#222" stroke-width="0.7" fill="none"/>
<text x="402" y="161.7" font-size="10" font-family="Liberation Serif, serif" text-anchor="end" stroke="#000" stroke-width="0.3">20</text>
<text x="402" y="172.1" font-size="10" font-family="Liberation Serif, serif" text-anchor="end" stroke="#000" stroke-width="0.3">10</text>
<text x="402" y="182.5" font-size="10" font-family="Liberation Serif, serif" text-anchor="end" stroke="#000" stroke-width="0.3">0</text>
<text transform="translate(33.2 169) rotate(-90)" font-size="10" font-family="Liberation Serif, serif" font-weight="bold" text-anchor="middle">Height/mm</text>
<text transform="translate(213.5 171.5) rotate(-90)" font-size="10" font-family="Liberation Serif, serif" font-weight="bold" text-anchor="middle">Height/mm</text>
<text transform="translate(385.5 169.5) rotate(-90)" font-size="10" font-family="Liberation Serif, serif" font-weight="bold" text-anchor="middle">Height/mm</text>
<text x="55" y="201.9" font-size="10" font-family="Liberation Serif, serif" text-anchor="middle" stroke="#000" stroke-width="0.3">50</text>
<text x="65.7" y="211" font-size="10" font-family="Liberation Serif, serif" text-anchor="middle" stroke="#000" stroke-width="0.3">100</text>
<text x="77.1" y="220.5" font-size="10" font-family="Liberation Serif, serif" text-anchor="middle" stroke="#000" stroke-width="0.3">150</text>
<text x="89.3" y="230.5" font-size="10" font-family="Liberation Serif, serif" text-anchor="middle" stroke="#000" stroke-width="0.3">200</text>
<text x="102" y="239.9" font-size="10" font-family="Liberation Serif, serif" text-anchor="middle" stroke="#000" stroke-width="0.3">250</text>
<text x="180" y="207.8" font-size="10" font-family="Liberation Serif, serif" text-anchor="middle" stroke="#000" stroke-width="0.3">60</text>
<text x="167.6" y="216.6" font-size="10" font-family="Liberation Serif, serif" text-anchor="middle" stroke="#000" stroke-width="0.3">120</text>
<text x="152.7" y="225.1" font-size="10" font-family="Liberation Serif, serif" text-anchor="middle" stroke="#000" stroke-width="0.3">180</text>
<text x="137.3" y="233.7" font-size="10" font-family="Liberation Serif, serif" text-anchor="middle" stroke="#000" stroke-width="0.3">220</text>
<text x="59.1" y="239.9" font-size="10" font-family="Liberation Serif, serif" text-anchor="start" stroke="#000" stroke-width="0.4">X/pixel</text>
<text x="147.6" y="239.2" font-size="10" font-family="Liberation Serif, serif" text-anchor="start" stroke="#000" stroke-width="0.4">Y/pixel</text>
<text x="234.9" y="203.8" font-size="10" font-family="Liberation Serif, serif" text-anchor="middle" stroke="#000" stroke-width="0.3">50</text>
<text x="244.5" y="212.5" font-size="10" font-family="Liberation Serif, serif" text-anchor="middle" stroke="#000" stroke-width="0.3">100</text>
<text x="255.5" y="221.9" font-size="10" font-family="Liberation Serif, serif" text-anchor="middle" stroke="#000" stroke-width="0.3">150</text>
<text x="267.3" y="231.9" font-size="10" font-family="Liberation Serif, serif" text-anchor="middle" stroke="#000" stroke-width="0.3">200</text>
<text x="278" y="240.9" font-size="10" font-family="Liberation Serif, serif" text-anchor="middle" stroke="#000" stroke-width="0.3">250</text>
<text x="351.8" y="210.6" font-size="10" font-family="Liberation Serif, serif" text-anchor="middle" stroke="#000" stroke-width="0.3">60</text>
<text x="340" y="218.8" font-size="10" font-family="Liberation Serif, serif" text-anchor="middle" stroke="#000" stroke-width="0.3">120</text>
<text x="326.4" y="226.6" font-size="10" font-family="Liberation Serif, serif" text-anchor="middle" stroke="#000" stroke-width="0.3">180</text>
<text x="311.5" y="236" font-size="10" font-family="Liberation Serif, serif" text-anchor="middle" stroke="#000" stroke-width="0.3">220</text>
<text x="239.1" y="240.9" font-size="10" font-family="Liberation Serif, serif" text-anchor="start" stroke="#000" stroke-width="0.4">X/pixel</text>
<text x="322" y="241" font-size="10" font-family="Liberation Serif, serif" text-anchor="start" stroke="#000" stroke-width="0.4">Y/pixel</text>
<text x="408.6" y="201.9" font-size="10" font-family="Liberation Serif, serif" text-anchor="middle" stroke="#000" stroke-width="0.3">50</text>
<text x="417.7" y="211" font-size="10" font-family="Liberation Serif, serif" text-anchor="middle" stroke="#000" stroke-width="0.3">100</text>
<text x="429.2" y="221" font-size="10" font-family="Liberation Serif, serif" text-anchor="middle" stroke="#000" stroke-width="0.3">150</text>
<text x="441.4" y="231" font-size="10" font-family="Liberation Serif, serif" text-anchor="middle" stroke="#000" stroke-width="0.3">200</text>
<text x="452.5" y="240" font-size="10" font-family="Liberation Serif, serif" text-anchor="middle" stroke="#000" stroke-width="0.3">250</text>
<text x="527.8" y="207.8" font-size="10" font-family="Liberation Serif, serif" text-anchor="middle" stroke="#000" stroke-width="0.3">60</text>
<text x="515.5" y="216.9" font-size="10" font-family="Liberation Serif, serif" text-anchor="middle" stroke="#000" stroke-width="0.3">120</text>
<text x="501.8" y="225.5" font-size="10" font-family="Liberation Serif, serif" text-anchor="middle" stroke="#000" stroke-width="0.3">180</text>
<text x="486.9" y="234.2" font-size="10" font-family="Liberation Serif, serif" text-anchor="middle" stroke="#000" stroke-width="0.3">220</text>
<text x="412.3" y="240" font-size="10" font-family="Liberation Serif, serif" text-anchor="start" stroke="#000" stroke-width="0.4">X/pixel</text>
<text x="497.6" y="239.2" font-size="10" font-family="Liberation Serif, serif" text-anchor="start" stroke="#000" stroke-width="0.4">Y/pixel</text>
<text x="33.6" y="133.8" font-size="13.6" font-family="Liberation Serif, serif" text-anchor="start" >(e)</text>
<text x="208.2" y="133.8" font-size="13.6" font-family="Liberation Serif, serif" text-anchor="start" >(f)</text>
<text x="381.8" y="133.5" font-size="13.6" font-family="Liberation Serif, serif" text-anchor="start" >(g)</text>
<text x="155.2" y="135.6" font-size="15" font-family="Liberation Serif, serif" text-anchor="start" >FTP</text>
<text x="325.5" y="132.9" font-size="15.5" font-family="Liberation Serif, serif" text-anchor="start" >Zhu</text>
<text x="497.8" y="130.2" font-size="16" font-family="Liberation Serif, serif" text-anchor="start" >Prop</text>
<clipPath id="ph"><rect x="45.4" y="253.5" width="142.8" height="101"/></clipPath>
<g clip-path="url(#ph)" fill="none" stroke-linejoin="round">
<path d="M44.59 354.5L45.17 354.5L45.74 354.5L46.32 354.5L46.89 354.5L47.46 354.5L48.04 354.5L48.61 354.5L49.18 354.5L49.76 354.5L50.33 354.5L50.9 354.5L51.48 354.5L52.05 354.5L52.62 354.5L53.2 354.5L53.77 354.5L54.34 354.5L54.92 354.5L55.49 354.5L56.06 354.5L56.64 354.5L57.21 354.5L57.79 354.5L58.36 354.49L58.93 354.48L59.51 354.45L60.08 354.36L60.65 354.19L61.23 353.87L61.8 353.35L62.37 352.6L62.95 351.64L63.52 350.53L64.09 349.32L64.67 348.08L65.24 346.83L65.81 345.55L66.39 344.23L66.96 342.89L67.53 341.51L68.11 340.12L68.68 338.71L69.26 337.3L69.83 335.88L70.4 334.46L70.98 333.04L71.55 331.62L72.12 330.21L72.7 328.8L73.27 327.39L73.84 325.98L74.42 324.58L74.99 323.19L75.56 321.8L76.14 320.41L76.71 319.04L77.28 317.68L77.86 316.34L78.43 315.01L79 313.71L79.58 312.42L80.15 311.16L80.73 309.93L81.3 308.73L81.87 307.55L82.45 306.4L83.02 305.28L83.59 304.18L84.17 303.11L84.74 302.07L85.31 301.05L85.89 300.05L86.46 299.08L87.03 298.14L87.61 297.21L88.18 296.31L88.75 295.44L89.33 294.58L89.9 293.76L90.47 292.95L91.05 292.18L91.62 291.42L92.2 290.68L92.77 289.97L93.34 289.27L93.92 288.58L94.49 287.91L95.06 287.24L95.64 286.58L96.21 285.93L96.78 285.27L97.36 284.61L97.93 283.95L98.5 283.28L99.08 282.61L99.65 281.94L100.22 281.26L100.8 280.59L101.37 279.91L101.94 279.24L102.52 278.58L103.09 277.92L103.67 277.28L104.24 276.64L104.81 276.02L105.39 275.41L105.96 274.82L106.53 274.26L107.11 273.71L107.68 273.18L108.25 272.68L108.83 272.2L109.4 271.74L109.97 271.29L110.55 270.86L111.12 270.45L111.69 270.05L112.27 269.66L112.84 269.29L113.41 268.92L113.99 268.56L114.56 268.22L115.14 267.89L115.71 267.57L116.28 267.26L116.86 266.97L117.43 266.7L118 266.44L118.58 266.19L119.15 265.96L119.72 265.75L120.3 265.55L120.87 265.37L121.44 265.2L122.02 265.05L122.59 264.92L123.16 264.81L123.74 264.71L124.31 264.64L124.88 264.58L125.46 264.54L126.03 264.52L126.61 264.51L127.18 264.52L127.75 264.54L128.33 264.58L128.9 264.63L129.47 264.69L130.05 264.77L130.62 264.86L131.19 264.96L131.77 265.07L132.34 265.19L132.91 265.33L133.49 265.48L134.06 265.65L134.63 265.83L135.21 266.02L135.78 266.24L136.36 266.47L136.93 266.72L137.5 266.99L138.08 267.29L138.65 267.62L139.22 267.97L139.8 268.36L140.37 268.79L140.94 269.26L141.52 269.77L142.09 270.32L142.66 270.93L143.24 271.58L143.81 272.29L144.38 273.05L144.96 273.87L145.53 274.75L146.1 275.68L146.68 276.66L147.25 277.69L147.82 278.77L148.4 279.88L148.97 281.03L149.55 282.22L150.12 283.46L150.69 284.73L151.27 286.07L151.84 287.48L152.41 288.99L152.99 290.6L153.56 292.33L154.13 294.22L154.71 296.27L155.28 298.48L155.85 300.88L156.43 303.46L157 306.2L157.57 309.1L158.15 312.12L158.72 315.25L159.3 318.46L159.87 321.79L160.44 325.26L161.02 329.08L161.59 333.05L162.16 336.59L162.74 339.5L163.31 341.67L163.88 343.26L164.46 344.31L165.03 345.14L165.6 345.94L166.18 346.67L166.75 347.29L167.32 347.84L167.9 348.33L168.47 348.79L169.04 349.22L169.62 349.63L170.19 350.01L170.76 350.39L171.34 350.75L171.91 351.12L172.49 351.47L173.06 351.79L173.63 352.08L174.21 352.34L174.78 352.59L175.35 352.82L175.93 353.02L176.5 353.19L177.07 353.34L177.65 353.47L178.22 353.59L178.79 353.69L179.37 353.77L179.94 353.85L180.51 353.91L181.09 353.96L181.66 354.02L182.24 354.08L182.81 354.14L183.38 354.2L183.96 354.26L184.53 354.31L185.1 354.35L185.68 354.39L186.25 354.43L186.82 354.46L187.4 354.48L187.97 354.5" stroke="#00f000" stroke-width="1.3" stroke-dasharray="4.4 1.5 1.4 1.5"/>
<path d="M44.59 354.5L45.17 354.5L45.74 354.5L46.32 354.5L46.89 354.5L47.46 354.5L48.04 354.5L48.61 354.5L49.18 354.5L49.76 354.5L50.33 354.5L50.9 354.5L51.48 354.5L52.05 354.5L52.62 354.5L53.2 354.5L53.77 354.5L54.34 354.5L54.92 354.5L55.49 354.5L56.06 354.5L56.64 354.5L57.21 354.49L57.79 354.46L58.36 354.38L58.93 354.24L59.51 354.03L60.08 353.72L60.65 353.31L61.23 352.77L61.8 352.07L62.37 351.21L62.95 350.21L63.52 349.1L64.09 347.94L64.67 346.75L65.24 345.53L65.81 344.29L66.39 343.01L66.96 341.7L67.53 340.37L68.11 339.02L68.68 337.65L69.26 336.28L69.83 334.9L70.4 333.51L70.98 332.12L71.55 330.73L72.12 329.35L72.7 327.96L73.27 326.58L73.84 325.19L74.42 323.81L74.99 322.43L75.56 321.06L76.14 319.7L76.71 318.34L77.28 317L77.86 315.67L78.43 314.36L79 313.06L79.58 311.79L80.15 310.54L80.73 309.32L81.3 308.12L81.87 306.95L82.45 305.8L83.02 304.68L83.59 303.59L84.17 302.52L84.74 301.47L85.31 300.45L85.89 299.45L86.46 298.47L87.03 297.52L87.61 296.6L88.18 295.7L88.75 294.82L89.33 293.98L89.9 293.15L90.47 292.36L91.05 291.59L91.62 290.84L92.2 290.12L92.77 289.41L93.34 288.72L93.92 288.05L94.49 287.38L95.06 286.71L95.64 286.05L96.21 285.39L96.78 284.72L97.36 284.05L97.93 283.38L98.5 282.7L99.08 282.02L99.65 281.34L100.22 280.66L100.8 279.98L101.37 279.32L101.94 278.66L102.52 278.01L103.09 277.38L103.67 276.76L104.24 276.16L104.81 275.57L105.39 275.01L105.96 274.46L106.53 273.93L107.11 273.42L107.68 272.93L108.25 272.46L108.83 272.01L109.4 271.57L109.97 271.15L110.55 270.75L111.12 270.35L111.69 269.96L112.27 269.58L112.84 269.21L113.41 268.84L113.99 268.48L114.56 268.12L115.14 267.77L115.71 267.43L116.28 267.09L116.86 266.77L117.43 266.46L118 266.16L118.58 265.88L119.15 265.61L119.72 265.37L120.3 265.14L120.87 264.93L121.44 264.75L122.02 264.59L122.59 264.46L123.16 264.34L123.74 264.26L124.31 264.19L124.88 264.14L125.46 264.12L126.03 264.11L126.61 264.11L127.18 264.14L127.75 264.18L128.33 264.23L128.9 264.29L129.47 264.38L130.05 264.47L130.62 264.58L131.19 264.7L131.77 264.84L132.34 264.99L132.91 265.16L133.49 265.34L134.06 265.53L134.63 265.75L135.21 265.98L135.78 266.23L136.36 266.5L136.93 266.8L137.5 267.13L138.08 267.48L138.65 267.87L139.22 268.3L139.8 268.77L140.37 269.28L140.94 269.85L141.52 270.47L142.09 271.14L142.66 271.88L143.24 272.69L143.81 273.56L144.38 274.5L144.96 275.52L145.53 276.62L146.1 277.79L146.68 279.04L147.25 280.37L147.82 281.79L148.4 283.27L148.97 284.84L149.55 286.48L150.12 288.2L150.69 290L151.27 291.88L151.84 293.84L152.41 295.88L152.99 298L153.56 300.18L154.13 302.44L154.71 304.75L155.28 307.11L155.85 309.5L156.43 311.92L157 314.34L157.57 316.76L158.15 319.16L158.72 321.53L159.3 323.85L159.87 326.12L160.44 328.33L161.02 330.48L161.59 332.58L162.16 334.63L162.74 336.63L163.31 338.5L163.88 340.21L164.46 341.82L165.03 343.31L165.6 344.72L166.18 346.18L166.75 347.91L167.32 349.99L167.9 351.83L168.47 353.39L169.04 354.01L169.62 353.82L170.19 353.46L170.76 353.05L171.34 352.57L171.91 351.99L172.49 351.35L173.06 350.63L173.63 349.84L174.21 349.18L174.78 348.61L175.35 348.3L175.93 348.6L176.5 349.18L177.07 349.88L177.65 350.75L178.22 351.6L178.79 352.42L179.37 353.22L179.94 353.77L180.51 354.08L181.09 354.26L181.66 354.33L182.24 354.37L182.81 354.4L183.38 354.44L183.96 354.47L184.53 354.49L185.1 354.5L185.68 354.5L186.25 354.5L186.82 354.5L187.4 354.5L187.97 354.5" stroke="#f4001a" stroke-width="1.3" stroke-dasharray="4.2 1.6"/>
<path d="M44.59 354.5L45.17 354.5L45.74 354.5L46.32 354.5L46.89 354.5L47.46 354.5L48.04 354.5L48.61 354.5L49.18 354.5L49.76 354.5L50.33 354.5L50.9 354.5L51.48 354.5L52.05 354.5L52.62 354.5L53.2 354.5L53.77 354.5L54.34 354.5L54.92 354.5L55.49 354.5L56.06 354.5L56.64 354.5L57.21 354.49L57.79 354.46L58.36 354.38L58.93 354.24L59.51 354.03L60.08 353.72L60.65 353.31L61.23 352.77L61.8 352.07L62.37 351.21L62.95 350.21L63.52 349.1L64.09 347.94L64.67 346.75L65.24 345.53L65.81 344.29L66.39 343.01L66.96 341.7L67.53 340.37L68.11 339.02L68.68 337.65L69.26 336.28L69.83 334.9L70.4 333.51L70.98 332.12L71.55 330.73L72.12 329.35L72.7 327.96L73.27 326.58L73.84 325.19L74.42 323.81L74.99 322.43L75.56 321.06L76.14 319.7L76.71 318.34L77.28 317L77.86 315.67L78.43 314.36L79 313.06L79.58 311.79L80.15 310.54L80.73 309.32L81.3 308.12L81.87 306.95L82.45 305.8L83.02 304.68L83.59 303.59L84.17 302.52L84.74 301.47L85.31 300.45L85.89 299.45L86.46 298.47L87.03 297.52L87.61 296.6L88.18 295.7L88.75 294.82L89.33 293.98L89.9 293.15L90.47 292.36L91.05 291.59L91.62 290.84L92.2 290.12L92.77 289.41L93.34 288.72L93.92 288.05L94.49 287.38L95.06 286.71L95.64 286.05L96.21 285.39L96.78 284.72L97.36 284.05L97.93 283.38L98.5 282.7L99.08 282.02L99.65 281.34L100.22 280.66L100.8 279.98L101.37 279.32L101.94 278.66L102.52 278.01L103.09 277.38L103.67 276.76L104.24 276.16L104.81 275.57L105.39 275.01L105.96 274.46L106.53 273.93L107.11 273.42L107.68 272.93L108.25 272.46L108.83 272.01L109.4 271.57L109.97 271.15L110.55 270.75L111.12 270.35L111.69 269.96L112.27 269.58L112.84 269.21L113.41 268.84L113.99 268.48L114.56 268.12L115.14 267.77L115.71 267.43L116.28 267.09L116.86 266.77L117.43 266.46L118 266.16L118.58 265.88L119.15 265.61L119.72 265.37L120.3 265.14L120.87 264.93L121.44 264.75L122.02 264.59L122.59 264.46L123.16 264.34L123.74 264.26L124.31 264.19L124.88 264.14L125.46 264.12L126.03 264.11L126.61 264.11L127.18 264.14L127.75 264.18L128.33 264.23L128.9 264.29L129.47 264.38L130.05 264.47L130.62 264.58L131.19 264.7L131.77 264.84L132.34 264.99L132.91 265.16L133.49 265.34L134.06 265.53L134.63 265.75L135.21 265.98L135.78 266.23L136.36 266.5L136.93 266.8L137.5 267.13L138.08 267.48L138.65 267.87L139.22 268.3L139.8 268.77L140.37 269.28L140.94 269.85L141.52 270.47L142.09 271.14L142.66 271.88L143.24 272.69L143.81 273.56L144.38 274.5L144.96 275.52L145.53 276.62L146.1 277.79L146.68 279.04L147.25 280.37L147.82 281.79L148.4 283.27L148.97 284.84L149.55 286.48L150.12 288.2L150.69 290L151.27 291.88L151.84 293.84L152.41 295.88L152.99 298L153.56 300.18L154.13 302.44L154.71 304.75L155.28 307.11L155.85 309.5L156.43 311.92L157 314.34L157.57 316.76L158.15 319.16L158.72 321.53L159.3 323.85L159.87 326.12L160.44 328.33L161.02 330.47L161.59 332.57L162.16 334.62L162.74 336.61L163.31 338.48L163.88 340.19L164.46 341.8L165.03 343.32L165.6 344.77L166.18 346.23L166.75 347.79L167.32 349.48L167.9 351.01L168.47 352.45L169.04 353.59L169.62 353.73L170.19 353.44L170.76 353.05L171.34 352.57L171.91 351.98L172.49 351.35L173.06 350.69L173.63 349.99L174.21 349.42L174.78 348.94L175.35 348.69L175.93 348.94L176.5 349.42L177.07 350.04L177.65 350.83L178.22 351.6L178.79 352.31L179.37 353.01L179.94 353.53L180.51 353.88L181.09 354.11L181.66 354.25L182.24 354.34L182.81 354.4L183.38 354.44L183.96 354.47L184.53 354.49L185.1 354.5L185.68 354.5L186.25 354.5L186.82 354.5L187.4 354.5L187.97 354.5" stroke="#3c3cff" stroke-width="0.85"/>
</g>
<path d="M61.8 354.5v-2M61.8 253.5v2M90.47 354.5v-2M90.47 253.5v2M119.15 354.5v-2M119.15 253.5v2M147.82 354.5v-2M147.82 253.5v2M176.5 354.5v-2M176.5 253.5v2M45.4 354.5h2M188.2 354.5h-2M45.4 330.3h2M188.2 330.3h-2M45.4 306.1h2M188.2 306.1h-2M45.4 281.9h2M188.2 281.9h-2M45.4 257.7h2M188.2 257.7h-2" stroke="#333" stroke-width="0.6" fill="none"/>
<rect x="45.4" y="253.5" width="142.8" height="101" fill="none" stroke="#474747" stroke-width="1"/>
<text transform="translate(61.8 366.4) scale(0.82 1)" font-size="10.4" font-family="Liberation Serif, serif" stroke="#000" stroke-width="0.25" text-anchor="middle">50</text>
<text transform="translate(90.47 366.4) scale(0.82 1)" font-size="10.4" font-family="Liberation Serif, serif" stroke="#000" stroke-width="0.25" text-anchor="middle">100</text>
<text transform="translate(119.15 366.4) scale(0.82 1)" font-size="10.4" font-family="Liberation Serif, serif" stroke="#000" stroke-width="0.25" text-anchor="middle">150</text>
<text transform="translate(147.82 366.4) scale(0.82 1)" font-size="10.4" font-family="Liberation Serif, serif" stroke="#000" stroke-width="0.25" text-anchor="middle">200</text>
<text transform="translate(176.5 366.4) scale(0.82 1)" font-size="10.4" font-family="Liberation Serif, serif" stroke="#000" stroke-width="0.25" text-anchor="middle">250</text>
<text transform="translate(43.4 357.9) scale(0.82 1)" font-size="10.4" font-family="Liberation Serif, serif" stroke="#000" stroke-width="0.25" text-anchor="end">0</text>
<text transform="translate(43.4 333.7) scale(0.82 1)" font-size="10.4" font-family="Liberation Serif, serif" stroke="#000" stroke-width="0.25" text-anchor="end">5</text>
<text transform="translate(43.4 309.5) scale(0.82 1)" font-size="10.4" font-family="Liberation Serif, serif" stroke="#000" stroke-width="0.25" text-anchor="end">10</text>
<text transform="translate(43.4 285.3) scale(0.82 1)" font-size="10.4" font-family="Liberation Serif, serif" stroke="#000" stroke-width="0.25" text-anchor="end">15</text>
<text transform="translate(43.4 261.1) scale(0.82 1)" font-size="10.4" font-family="Liberation Serif, serif" stroke="#000" stroke-width="0.25" text-anchor="end">20</text>
<clipPath id="pi"><rect x="224.5" y="253.3" width="140.6" height="101.2"/></clipPath>
<g clip-path="url(#pi)" fill="none" stroke-linejoin="round">
<path d="M217.35 234.28L218.48 239.03L219.61 243.53L220.74 247.74L221.86 251.67L222.99 255.3L224.12 258.64L225.25 261.65L226.38 264.36L227.5 266.76L228.63 268.95L229.76 270.94L230.89 272.79L232.02 274.52L233.14 276.19L234.27 277.83L235.4 279.47L236.53 281.12L237.66 282.75L238.78 284.34L239.91 285.91L241.04 287.44L242.17 288.93L243.3 290.37L244.42 291.76L245.55 293.08L246.68 294.34L247.81 295.55L248.94 296.72L250.06 297.85L251.19 298.96L252.32 300.03L253.45 301.08L254.58 302.1L255.7 303.09L256.83 304.07L257.96 305.03L259.09 305.97L260.22 306.89L261.34 307.81L262.47 308.72L263.6 309.61L264.73 310.48L265.86 311.35L266.98 312.19L268.11 313.02L269.24 313.84L270.37 314.65L271.5 315.45L272.62 316.23L273.75 317.01L274.88 317.78L276.01 318.54L277.14 319.29L278.26 320.04L279.39 320.78L280.52 321.52L281.65 322.26L282.78 323L283.9 323.74L285.03 324.47L286.16 325.21L287.29 325.94L288.42 326.67L289.54 327.39L290.67 328.1L291.8 328.81L292.93 329.5L294.06 330.18L295.18 330.85L296.31 331.51L297.44 332.15L298.57 332.78L299.7 333.39L300.82 333.98L301.95 334.55L303.08 335.1L304.21 335.64L305.34 336.17L306.46 336.69L307.59 337.21L308.72 337.72L309.85 338.23L310.98 338.72L312.1 339.2L313.23 339.68L314.36 340.14L315.49 340.6L316.62 341.04L317.74 341.46L318.87 341.88L320 342.27L321.13 342.66L322.26 343.02L323.38 343.38L324.51 343.71L325.64 344.02L326.77 344.33L327.9 344.62L329.02 344.91L330.15 345.19L331.28 345.46L332.41 345.73L333.54 345.99L334.66 346.24L335.79 346.49L336.92 346.72L338.05 346.95L339.18 347.17L340.3 347.39L341.43 347.6L342.56 347.8L343.69 347.99L344.82 348.17L345.94 348.35L347.07 348.52L348.2 348.68L349.33 348.83L350.46 348.98L351.58 349.12L352.71 349.25L353.84 349.38L354.97 349.5L356.1 349.62L357.22 349.73L358.35 349.84L359.48 349.95L360.61 350.06L361.74 350.17L362.86 350.28L363.99 350.39L365.12 350.5L366.25 350.62L367.38 350.74L368.5 350.86L369.63 350.98L370.76 351.1" stroke="#00f000" stroke-width="1.3" stroke-dasharray="4.4 1.5 1.4 1.5"/>
<path d="M217.35 211.21L218.48 215.06L219.61 218.85L220.74 222.56L221.86 226.2L222.99 229.76L224.12 233.24L225.25 236.64L226.38 239.98L227.5 243.26L228.63 246.49L229.76 249.68L230.89 252.85L232.02 255.96L233.14 258.99L234.27 261.93L235.4 264.82L236.53 267.65L237.66 270.46L238.78 273.27L239.91 276.08L241.04 278.93L242.17 281.82L243.3 284.79L244.42 287.84L245.55 291L246.68 294.27L247.81 297.81L248.94 301.64L250.06 305.7L251.19 309.89L252.32 314.14L253.45 318.35L254.58 322.43L255.7 326.31L256.83 329.87L257.96 333.06L259.09 336.18L260.22 339.45L261.34 342.66L262.47 345.6L263.6 348.03L264.73 349.77L265.86 350.53L266.98 350.54L268.11 350.35L269.24 350.03L270.37 349.58L271.5 349.04L272.62 348.41L273.75 347.71L274.88 346.95L276.01 346.15L277.14 345.33L278.26 344.49L279.39 343.67L280.52 342.86L281.65 342.02L282.78 341.11L283.9 340.12L285.03 339.06L286.16 337.95L287.29 336.79L288.42 335.59L289.54 334.36L290.67 333.1L291.8 331.83L292.93 330.56L294.06 329.28L295.18 327.95L296.31 326.52L297.44 325.01L298.57 323.44L299.7 321.85L300.82 320.25L301.95 318.67L303.08 317.12L304.21 315.65L305.34 314.25L306.46 312.97L307.59 311.82L308.72 310.7L309.85 309.52L310.98 308.35L312.1 307.25L313.23 306.3L314.36 305.52L315.49 305.03L316.62 304.84L317.74 305.02L318.87 305.51L320 306.27L321.13 307.22L322.26 308.31L323.38 309.48L324.51 310.67L325.64 311.82L326.77 313.02L327.9 314.38L329.02 315.87L330.15 317.46L331.28 319.15L332.41 320.89L333.54 322.67L334.66 324.46L335.79 326.23L336.92 327.96L338.05 329.63L339.18 331.22L340.3 332.8L341.43 334.44L342.56 336.14L343.69 337.84L344.82 339.54L345.94 341.19L347.07 342.77L348.2 344.26L349.33 345.62L350.46 346.83L351.58 347.86L352.71 348.68L353.84 349.37L354.97 350.01L356.1 350.61L357.22 351.15L358.35 351.63L359.48 352.03L360.61 352.34L361.74 352.56L362.86 352.72L363.99 352.86L365.12 352.99L366.25 353.1L367.38 353.21L368.5 353.3L369.63 353.38L370.76 353.46" stroke="#f4001a" stroke-width="1.3" stroke-dasharray="4.2 1.6"/>
<path d="M217.35 211.08L218.48 214.92L219.61 218.7L220.74 222.41L221.86 226.05L222.99 229.6L224.12 233.08L225.25 236.48L226.38 239.82L227.5 243.1L228.63 246.33L229.76 249.53L230.89 252.71L232.02 255.85L233.14 258.92L234.27 261.94L235.4 264.91L236.53 267.85L237.66 270.76L238.78 273.65L239.91 276.53L241.04 279.42L242.17 282.32L243.3 285.24L244.42 288.2L245.55 291.19L246.68 294.23L247.81 297.39L248.94 300.68L250.06 304.06L251.19 307.48L252.32 310.91L253.45 314.29L254.58 317.58L255.7 320.75L256.83 323.73L257.96 326.49L259.09 329.24L260.22 332.16L261.34 335.14L262.47 338.07L263.6 340.85L264.73 343.37L265.86 345.51L266.98 347.19L268.11 348.26L269.24 348.66L270.37 348.56L271.5 348.3L272.62 347.89L273.75 347.35L274.88 346.71L276.01 346L277.14 345.23L278.26 344.44L279.39 343.64L280.52 342.86L281.65 342.04L282.78 341.13L283.9 340.13L285.03 339.06L286.16 337.92L287.29 336.74L288.42 335.52L289.54 334.27L290.67 333.01L291.8 331.75L292.93 330.5L294.06 329.28L295.18 328.03L296.31 326.71L297.44 325.33L298.57 323.92L299.7 322.5L300.82 321.08L301.95 319.69L303.08 318.34L304.21 317.05L305.34 315.84L306.46 314.74L307.59 313.76L308.72 312.81L309.85 311.82L310.98 310.85L312.1 309.94L313.23 309.14L314.36 308.51L315.49 308.1L316.62 307.94L317.74 308.09L318.87 308.49L320 309.12L321.13 309.9L322.26 310.81L323.38 311.78L324.51 312.78L325.64 313.76L326.77 314.8L327.9 315.99L329.02 317.32L330.15 318.76L331.28 320.28L332.41 321.86L333.54 323.48L334.66 325.1L335.79 326.71L336.92 328.29L338.05 329.8L339.18 331.22L340.3 332.62L341.43 334.05L342.56 335.52L343.69 336.98L344.82 338.44L345.94 339.86L347.07 341.23L348.2 342.54L349.33 343.76L350.46 344.88L351.58 345.88L352.71 346.74L353.84 347.51L354.97 348.24L356.1 348.92L357.22 349.55L358.35 350.12L359.48 350.62L360.61 351.05L361.74 351.4L362.86 351.69L363.99 351.96L365.12 352.22L366.25 352.46L367.38 352.69L368.5 352.89L369.63 353.08L370.76 353.25" stroke="#3c3cff" stroke-width="0.85"/>
</g>
<path d="M235.4 354.5v-2M235.4 253.3v2M257.96 354.5v-2M257.96 253.3v2M280.52 354.5v-2M280.52 253.3v2M303.08 354.5v-2M303.08 253.3v2M325.64 354.5v-2M325.64 253.3v2M348.2 354.5v-2M348.2 253.3v2M224.5 354.5h2M365.1 354.5h-2M224.5 315.7h2M365.1 315.7h-2M224.5 276.9h2M365.1 276.9h-2" stroke="#333" stroke-width="0.6" fill="none"/>
<rect x="224.5" y="253.3" width="140.6" height="101.2" fill="none" stroke="#474747" stroke-width="1"/>
<text transform="translate(235.4 366.4) scale(0.82 1)" font-size="10.4" font-family="Liberation Serif, serif" stroke="#000" stroke-width="0.25" text-anchor="middle">230</text>
<text transform="translate(257.96 366.4) scale(0.82 1)" font-size="10.4" font-family="Liberation Serif, serif" stroke="#000" stroke-width="0.25" text-anchor="middle">235</text>
<text transform="translate(280.52 366.4) scale(0.82 1)" font-size="10.4" font-family="Liberation Serif, serif" stroke="#000" stroke-width="0.25" text-anchor="middle">240</text>
<text transform="translate(303.08 366.4) scale(0.82 1)" font-size="10.4" font-family="Liberation Serif, serif" stroke="#000" stroke-width="0.25" text-anchor="middle">245</text>
<text transform="translate(325.64 366.4) scale(0.82 1)" font-size="10.4" font-family="Liberation Serif, serif" stroke="#000" stroke-width="0.25" text-anchor="middle">250</text>
<text transform="translate(348.2 366.4) scale(0.82 1)" font-size="10.4" font-family="Liberation Serif, serif" stroke="#000" stroke-width="0.25" text-anchor="middle">255</text>
<text transform="translate(222.5 357.9) scale(0.82 1)" font-size="10.4" font-family="Liberation Serif, serif" stroke="#000" stroke-width="0.25" text-anchor="end">0</text>
<text transform="translate(222.5 319.1) scale(0.82 1)" font-size="10.4" font-family="Liberation Serif, serif" stroke="#000" stroke-width="0.25" text-anchor="end">1</text>
<text transform="translate(222.5 280.3) scale(0.82 1)" font-size="10.4" font-family="Liberation Serif, serif" stroke="#000" stroke-width="0.25" text-anchor="end">2</text>
<clipPath id="pj"><rect x="399.5" y="253.3" width="144.1" height="102.3"/></clipPath>
<g clip-path="url(#pj)" fill="none" stroke-linejoin="round">
<path d="M396.5 393.05L397.65 391.47L398.8 389.91L399.95 388.37L401.1 386.85L402.25 385.35L403.4 383.88L404.55 382.42L405.7 380.99L406.85 379.57L408 378.16L409.15 376.77L410.3 375.4L411.45 374.03L412.6 372.68L413.75 371.33L414.9 369.99L416.05 368.65L417.2 367.32L418.35 365.99L419.5 364.67L420.65 363.34L421.8 362.01L422.95 360.68L424.1 359.34L425.25 358L426.4 356.66L427.55 355.32L428.7 353.97L429.85 352.62L431 351.26L432.15 349.91L433.3 348.54L434.45 347.18L435.6 345.82L436.75 344.46L437.9 343.1L439.05 341.74L440.2 340.38L441.35 339.02L442.5 337.67L443.65 336.33L444.8 334.99L445.95 333.66L447.1 332.34L448.25 331.02L449.4 329.72L450.55 328.43L451.7 327.15L452.85 325.89L454 324.64L455.15 323.41L456.3 322.2L457.45 321L458.6 319.82L459.75 318.66L460.9 317.52L462.05 316.41L463.2 315.31L464.35 314.24L465.5 313.19L466.65 312.16L467.8 311.16L468.95 310.17L470.1 309.21L471.25 308.27L472.4 307.34L473.55 306.44L474.7 305.55L475.85 304.68L477 303.82L478.15 302.98L479.3 302.16L480.45 301.34L481.6 300.54L482.75 299.75L483.9 298.98L485.05 298.21L486.2 297.45L487.35 296.71L488.5 295.97L489.65 295.24L490.8 294.53L491.95 293.83L493.1 293.14L494.25 292.46L495.4 291.79L496.55 291.14L497.7 290.5L498.85 289.88L500 289.27L501.15 288.68L502.3 288.1L503.45 287.54L504.6 286.99L505.75 286.46L506.9 285.94L508.05 285.44L509.2 284.96L510.35 284.49L511.5 284.03L512.65 283.59L513.8 283.17L514.95 282.76L516.1 282.36L517.25 281.98L518.4 281.62L519.55 281.27L520.7 280.94L521.85 280.63L523 280.34L524.15 280.06L525.3 279.8L526.45 279.57L527.6 279.35L528.75 279.15L529.9 278.97L531.05 278.81L532.2 278.67L533.35 278.55L534.5 278.44L535.65 278.35L536.8 278.28L537.95 278.23L539.1 278.19L540.25 278.17L541.4 278.17L542.55 278.18L543.7 278.2L544.85 278.24L546 278.3L547.15 278.36L548.3 278.44" stroke="#00f000" stroke-width="1.3" stroke-dasharray="4.4 1.5 1.4 1.5"/>
<path d="M396.5 390.65L397.65 389.08L398.8 387.54L399.95 386.02L401.1 384.53L402.25 383.05L403.4 381.6L404.55 380.17L405.7 378.75L406.85 377.35L408 375.96L409.15 374.59L410.3 373.23L411.45 371.87L412.6 370.52L413.75 369.18L414.9 367.84L416.05 366.51L417.2 365.17L418.35 363.83L419.5 362.49L420.65 361.15L421.8 359.8L422.95 358.45L424.1 357.1L425.25 355.74L426.4 354.37L427.55 353L428.7 351.63L429.85 350.26L431 348.88L432.15 347.51L433.3 346.13L434.45 344.76L435.6 343.39L436.75 342.02L437.9 340.66L439.05 339.31L440.2 337.97L441.35 336.63L442.5 335.31L443.65 333.99L444.8 332.69L445.95 331.41L447.1 330.14L448.25 328.88L449.4 327.64L450.55 326.41L451.7 325.2L452.85 324.01L454 322.84L455.15 321.68L456.3 320.55L457.45 319.43L458.6 318.34L459.75 317.26L460.9 316.2L462.05 315.17L463.2 314.15L464.35 313.15L465.5 312.17L466.65 311.22L467.8 310.28L468.95 309.35L470.1 308.45L471.25 307.56L472.4 306.69L473.55 305.83L474.7 304.99L475.85 304.16L477 303.35L478.15 302.54L479.3 301.74L480.45 300.96L481.6 300.18L482.75 299.41L483.9 298.65L485.05 297.89L486.2 297.14L487.35 296.39L488.5 295.65L489.65 294.92L490.8 294.19L491.95 293.46L493.1 292.75L494.25 292.03L495.4 291.33L496.55 290.63L497.7 289.94L498.85 289.26L500 288.59L501.15 287.93L502.3 287.29L503.45 286.65L504.6 286.03L505.75 285.42L506.9 284.82L508.05 284.25L509.2 283.68L510.35 283.14L511.5 282.61L512.65 282.11L513.8 281.62L514.95 281.15L516.1 280.7L517.25 280.28L518.4 279.87L519.55 279.49L520.7 279.13L521.85 278.8L523 278.49L524.15 278.2L525.3 277.94L526.45 277.7L527.6 277.49L528.75 277.3L529.9 277.13L531.05 276.98L532.2 276.86L533.35 276.76L534.5 276.67L535.65 276.61L536.8 276.56L537.95 276.54L539.1 276.53L540.25 276.53L541.4 276.56L542.55 276.6L543.7 276.65L544.85 276.72L546 276.81L547.15 276.9L548.3 277.02" stroke="#f4001a" stroke-width="1.3" stroke-dasharray="4.2 1.6"/>
<path d="M396.5 390.65L397.65 389.08L398.8 387.54L399.95 386.02L401.1 384.53L402.25 383.05L403.4 381.6L404.55 380.17L405.7 378.75L406.85 377.35L408 375.96L409.15 374.59L410.3 373.23L411.45 371.87L412.6 370.52L413.75 369.18L414.9 367.84L416.05 366.51L417.2 365.17L418.35 363.83L419.5 362.49L420.65 361.15L421.8 359.8L422.95 358.45L424.1 357.1L425.25 355.74L426.4 354.37L427.55 353L428.7 351.63L429.85 350.26L431 348.88L432.15 347.51L433.3 346.13L434.45 344.76L435.6 343.39L436.75 342.02L437.9 340.66L439.05 339.31L440.2 337.97L441.35 336.63L442.5 335.31L443.65 333.99L444.8 332.69L445.95 331.41L447.1 330.14L448.25 328.88L449.4 327.64L450.55 326.41L451.7 325.2L452.85 324.01L454 322.84L455.15 321.68L456.3 320.55L457.45 319.43L458.6 318.34L459.75 317.26L460.9 316.2L462.05 315.17L463.2 314.15L464.35 313.15L465.5 312.17L466.65 311.22L467.8 310.28L468.95 309.35L470.1 308.45L471.25 307.56L472.4 306.69L473.55 305.83L474.7 304.99L475.85 304.16L477 303.35L478.15 302.54L479.3 301.74L480.45 300.96L481.6 300.18L482.75 299.41L483.9 298.65L485.05 297.89L486.2 297.14L487.35 296.39L488.5 295.65L489.65 294.92L490.8 294.19L491.95 293.46L493.1 292.75L494.25 292.03L495.4 291.33L496.55 290.63L497.7 289.94L498.85 289.26L500 288.59L501.15 287.93L502.3 287.29L503.45 286.65L504.6 286.03L505.75 285.42L506.9 284.82L508.05 284.25L509.2 283.68L510.35 283.14L511.5 282.61L512.65 282.11L513.8 281.62L514.95 281.15L516.1 280.7L517.25 280.28L518.4 279.87L519.55 279.49L520.7 279.13L521.85 278.8L523 278.49L524.15 278.2L525.3 277.94L526.45 277.7L527.6 277.49L528.75 277.3L529.9 277.13L531.05 276.98L532.2 276.86L533.35 276.76L534.5 276.67L535.65 276.61L536.8 276.56L537.95 276.54L539.1 276.53L540.25 276.53L541.4 276.56L542.55 276.6L543.7 276.65L544.85 276.72L546 276.81L547.15 276.9L548.3 277.02" stroke="#3c3cff" stroke-width="0.85"/>
</g>
<path d="M419.5 355.6v-2M419.5 253.3v2M442.5 355.6v-2M442.5 253.3v2M465.5 355.6v-2M465.5 253.3v2M488.5 355.6v-2M488.5 253.3v2M511.5 355.6v-2M511.5 253.3v2M534.5 355.6v-2M534.5 253.3v2M399.5 348.4h2M543.6 348.4h-2M399.5 328.85h2M543.6 328.85h-2M399.5 309.3h2M543.6 309.3h-2M399.5 289.75h2M543.6 289.75h-2M399.5 270.2h2M543.6 270.2h-2" stroke="#333" stroke-width="0.6" fill="none"/>
<rect x="399.5" y="253.3" width="144.1" height="102.3" fill="none" stroke="#474747" stroke-width="1"/>
<text transform="translate(419.5 367.5) scale(0.82 1)" font-size="10.4" font-family="Liberation Serif, serif" stroke="#000" stroke-width="0.25" text-anchor="middle">110</text>
<text transform="translate(442.5 367.5) scale(0.82 1)" font-size="10.4" font-family="Liberation Serif, serif" stroke="#000" stroke-width="0.25" text-anchor="middle">120</text>
<text transform="translate(465.5 367.5) scale(0.82 1)" font-size="10.4" font-family="Liberation Serif, serif" stroke="#000" stroke-width="0.25" text-anchor="middle">130</text>
<text transform="translate(488.5 367.5) scale(0.82 1)" font-size="10.4" font-family="Liberation Serif, serif" stroke="#000" stroke-width="0.25" text-anchor="middle">140</text>
<text transform="translate(511.5 367.5) scale(0.82 1)" font-size="10.4" font-family="Liberation Serif, serif" stroke="#000" stroke-width="0.25" text-anchor="middle">150</text>
<text transform="translate(534.5 367.5) scale(0.82 1)" font-size="10.4" font-family="Liberation Serif, serif" stroke="#000" stroke-width="0.25" text-anchor="middle">160</text>
<text transform="translate(397.5 351.8) scale(0.82 1)" font-size="10.4" font-family="Liberation Serif, serif" stroke="#000" stroke-width="0.25" text-anchor="end">15</text>
<text transform="translate(397.5 332.25) scale(0.82 1)" font-size="10.4" font-family="Liberation Serif, serif" stroke="#000" stroke-width="0.25" text-anchor="end">16</text>
<text transform="translate(397.5 312.7) scale(0.82 1)" font-size="10.4" font-family="Liberation Serif, serif" stroke="#000" stroke-width="0.25" text-anchor="end">17</text>
<text transform="translate(397.5 293.15) scale(0.82 1)" font-size="10.4" font-family="Liberation Serif, serif" stroke="#000" stroke-width="0.25" text-anchor="end">18</text>
<text transform="translate(397.5 273.6) scale(0.82 1)" font-size="10.4" font-family="Liberation Serif, serif" stroke="#000" stroke-width="0.25" text-anchor="end">19</text>
<text transform="translate(31.4 303.5) scale(0.85 1) rotate(-90)" font-size="10" font-family="Liberation Serif, serif" font-weight="bold" text-anchor="middle">Height/mm</text>
<text transform="translate(214 303.5) scale(0.85 1) rotate(-90)" font-size="10" font-family="Liberation Serif, serif" font-weight="bold" text-anchor="middle">Height/mm</text>
<text transform="translate(383.4 303.5) scale(0.85 1) rotate(-90)" font-size="10" font-family="Liberation Serif, serif" font-weight="bold" text-anchor="middle">Height/mm</text>
<text transform="translate(103.6 376.9) scale(0.82 1)" font-size="10" font-family="Liberation Serif, serif" stroke="#000" stroke-width="0.3" text-anchor="start">Y/pixel</text>
<text transform="translate(281.8 377.6) scale(0.82 1)" font-size="10" font-family="Liberation Serif, serif" stroke="#000" stroke-width="0.3" text-anchor="start">Y/pixel</text>
<text transform="translate(458.2 378.6) scale(0.82 1)" font-size="10" font-family="Liberation Serif, serif" stroke="#000" stroke-width="0.3" text-anchor="start">Y/pixel</text>
<text x="51.5" y="270.5" font-size="14.3" font-family="Liberation Serif, serif" text-anchor="start" >(h)</text>
<text x="245" y="271.5" font-size="14.3" font-family="Liberation Serif, serif" text-anchor="start" >(i)</text>
<text x="408.2" y="268.7" font-size="14.3" font-family="Liberation Serif, serif" text-anchor="start" >(j)</text>
<text x="84.5" y="279.6" font-size="13.5" font-family="Liberation Serif, serif" text-anchor="start" >B</text>
<text x="168.2" y="327.9" font-size="13.5" font-family="Liberation Serif, serif" text-anchor="start" >A</text>
<rect x="100.4" y="259.6" width="28.1" height="18.8" fill="none" stroke="#111" stroke-width="0.9" stroke-dasharray="1.1 1.1"/>
<circle cx="173.1" cy="346.1" r="10" fill="none" stroke="#111" stroke-width="0.9" stroke-dasharray="1 1.15" clip-path="url(#ph)"/>
<rect x="100.3" y="311.3" width="44.4" height="43.2" fill="#fff" stroke="#3a3a3a" stroke-width="0.8"/>
<path d="M103.9 319H123.2" stroke="#00f000" stroke-width="1.4" stroke-dasharray="4.4 1.5 1.4 1.5"/>
<path d="M105.5 333.2H123.2" stroke="#f4001a" stroke-width="1.4" stroke-dasharray="4.2 1.6"/>
<path d="M103.9 346.2H123.2" stroke="#4a4aff" stroke-width="0.7"/>
<text transform="translate(125.2 322.5) scale(0.82 1)" font-size="10.5" font-family="Liberation Serif, serif" stroke="#000" stroke-width="0.25" text-anchor="start">FTP</text>
<text transform="translate(125.2 336.5) scale(0.82 1)" font-size="10.5" font-family="Liberation Serif, serif" stroke="#000" stroke-width="0.25" text-anchor="start">Zhu</text>
<text transform="translate(125.2 350.2) scale(0.82 1)" font-size="10.5" font-family="Liberation Serif, serif" stroke="#000" stroke-width="0.25" text-anchor="start">Prop</text>
</svg>
</body></html>
